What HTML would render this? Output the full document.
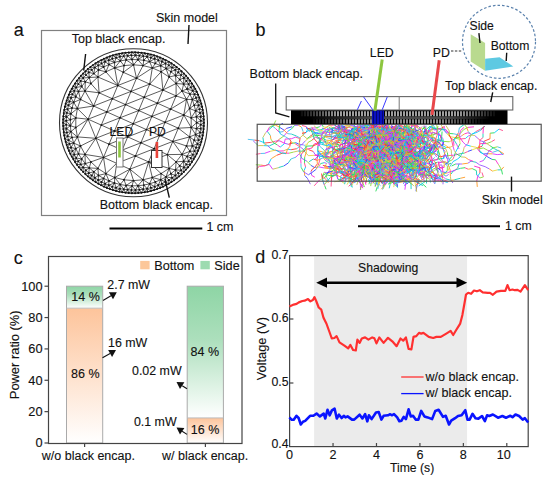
<!DOCTYPE html>
<html><head><meta charset="utf-8"><style>
html,body{margin:0;padding:0;background:#fff;}
svg{display:block;font-family:"Liberation Sans", sans-serif;fill:#111;}
text{fill:#111;stroke:#111;stroke-width:0.12px;}
</style></head><body>
<svg width="550" height="482" viewBox="0 0 550 482">
<text x="13.7" y="35.5" font-size="18" text-anchor="start" >a</text>
<rect x="41.5" y="30.5" width="185" height="185" fill="none" stroke="#808080" stroke-width="1.2" />
<path d="M168.8 183.8L165.4 181.9M103.5 157.4L122.2 150.1M157.1 189.1L154.1 190.1M183.6 84.1L176.1 83.5M70.2 153.7L68.8 150.8M137.9 185.7L143.0 179.8M143.8 60.3L143.0 65.6M101.1 60.1L105.1 61.7M66.2 124.7L70.4 125.7M135.5 190.0L137.9 185.7M179.7 165.8L176.1 161.9M179.2 69.0L181.6 71.2M165.4 181.9L160.7 179.7M74.3 154.6L75.8 148.6M196.7 122.7L191.2 127.5M193.7 159.3L192.7 154.6M99.1 92.8L112.3 98.7M204.0 122.7L203.9 125.9M166.0 176.9L161.1 173.6M105.1 61.7L108.7 60.2M75.0 83.4L76.2 87.4M187.0 89.0L182.0 91.0M68.8 150.8L67.6 147.8M98.2 61.6L101.1 60.1M160.1 188.0L161.9 183.7M203.9 119.5L200.5 116.8M170.9 71.7L175.5 75.5M178.2 173.0L175.2 175.5M203.9 125.9L203.7 129.1M138.3 193.0L135.1 193.2M159.6 135.5L172.8 141.4M194.2 140.2L189.6 136.9M200.5 116.8L200.8 120.7M200.4 144.8L197.4 143.9M101.1 60.1L103.9 58.7M157.1 189.1L158.3 185.2M103.6 67.0L105.9 71.8M200.8 124.7L200.8 120.7M149.6 61.6L143.0 65.6M161.9 183.7L160.7 179.7M122.3 192.3L123.7 189.3M90.9 83.5L97.9 77.0M109.0 144.2L103.5 157.4M116.7 163.3L135.4 156.0M71.0 147.5L69.6 143.9M166.0 68.5L161.1 71.8M95.8 138.3L85.0 154.4M120.3 60.9L124.0 65.6M135.1 193.2L131.9 193.2M192.3 145.9L186.5 146.0M63.7 132.3L63.3 129.1M147.8 53.7L147.1 56.8M199.4 109.1L195.6 110.9M199.4 147.8L196.0 147.5M150.9 187.7L149.6 183.8M72.0 137.4L70.9 131.6M83.1 172.0L85.9 170.3M176.1 95.9L176.1 83.5M193.7 86.1L195.3 88.8M200.4 144.8L199.4 147.8M101.3 125.1L120.0 117.8M69.6 143.9L68.5 140.1M131.5 55.4L135.5 55.4M171.5 182.1L168.8 180.0M63.3 129.1L63.1 125.9M200.1 112.9L196.4 116.8M70.9 131.6L70.4 125.7M138.3 193.0L135.5 190.0M194.2 105.2L195.6 110.9M154.7 186.6L150.9 187.7M117.8 85.5L114.7 67.9M199.4 147.8L198.2 150.8M116.0 191.0L112.9 190.1M135.5 55.4L139.4 55.7M126.1 59.9L124.0 65.6M189.9 151.3L187.0 156.4M85.3 81.8L90.9 83.5M202.8 109.9L200.1 112.9M93.6 106.0L77.4 108.5M122.3 53.1L125.5 52.7M123.7 56.1L120.3 60.9M94.9 67.6L98.5 70.0M195.6 110.9L196.4 116.8M175.2 175.5L170.9 173.7M152.3 67.9L161.1 71.8M70.4 125.7L75.8 117.9M66.2 120.7L66.5 116.8M194.5 94.3L192.3 99.5M112.9 190.1L109.9 189.1M187.0 156.4L183.6 161.3M75.8 96.8L78.5 91.5M66.5 128.6L70.9 131.6M202.2 106.8L202.8 109.9M98.2 65.4L103.6 67.0M68.8 94.6L71.0 97.9M161.1 71.8L169.1 77.0M66.5 116.8L66.9 112.9M158.3 60.2L161.9 61.7M125.5 192.7L127.6 189.7M64.8 106.8L65.6 103.7M78.5 91.5L81.7 86.5M98.2 61.6L98.2 65.4M99.1 92.8L97.9 77.0M176.1 161.9L169.1 168.4M76.2 158.0L81.7 158.9M127.6 189.7L123.7 189.3M188.2 78.2L183.8 78.0M188.2 167.2L186.1 169.6M73.7 102.3L80.5 99.4M161.9 61.7L165.4 63.5M108.7 60.2L109.0 64.5M160.7 179.7L155.3 182.0M83.2 78.0L89.3 77.5M144.7 53.1L147.8 53.7M101.1 60.1L101.6 63.5M169.1 168.4L161.1 173.6M135.1 52.2L135.5 55.4M123.7 189.3L119.9 188.6M165.4 181.9L166.0 176.9M94.9 177.8L93.8 171.8M122.2 150.1L140.9 142.8M72.5 94.3L74.3 90.8M166.0 176.9L169.1 168.4M65.6 141.7L68.5 140.1M69.6 143.9L73.7 143.1M155.3 182.0L149.6 183.8M64.8 106.8L68.5 105.3M103.6 67.0L109.0 64.5M172.8 141.4L189.6 136.9M176.7 67.0L175.2 69.9M131.0 91.4L144.2 97.3M74.3 90.8L76.2 87.4M159.6 135.5L178.3 128.2M85.9 170.3L89.3 167.9M109.0 64.5L114.5 62.4M114.7 177.5L105.9 173.6M179.2 69.0L178.2 72.4M199.4 136.3L198.5 140.1M199.4 97.6L197.4 101.5M183.8 78.0L186.3 81.0M120.3 60.9L114.7 67.9M90.3 67.0L94.9 67.6M192.3 145.9L189.6 136.9M81.7 86.5L85.0 91.0M83.2 167.4L85.3 163.6M178.2 173.0L175.5 169.9M105.9 173.6L97.9 168.4M186.3 81.0L183.6 84.1M98.2 180.0L94.9 177.8M135.4 156.0L154.1 148.7M114.5 183.0L109.0 180.9M171.5 182.1L172.1 177.8M202.2 106.8L198.5 105.3M138.3 193.0L139.4 189.7M122.2 150.1L116.7 163.3M129.9 169.2L148.6 161.9M98.2 180.0L98.5 175.4M203.3 132.3L200.1 132.5M192.7 90.8L187.0 89.0M64.2 109.9L64.8 106.8M95.5 182.1L98.2 180.0M202.8 109.9L199.4 109.1M149.6 61.6L155.3 63.4M70.4 125.7L75.8 127.5M194.5 151.1L189.9 151.3M94.9 67.6L93.8 73.6M88.1 119.2L95.8 138.3M131.5 190.0L127.6 189.7M103.5 157.4L105.9 173.6M98.5 70.0L97.9 77.0M190.2 164.7L188.2 167.2M72.0 108.0L77.4 108.5M194.5 94.3L189.9 94.1M188.6 161.3L183.6 161.3M105.1 61.7L103.6 67.0M175.2 69.9L175.5 75.5M92.8 180.3L94.9 177.8M141.5 52.7L144.7 53.1M165.1 122.3L183.8 115.0M70.2 153.7L72.5 151.1M123.3 72.3L136.5 78.2M181.6 174.2L178.2 173.0M198.2 94.6L196.0 97.9M95.5 182.1L92.8 180.3M78.5 153.9L85.0 154.4M151.0 191.0L147.1 188.6M80.7 81.0L81.7 86.5M64.2 109.9L67.6 109.1M99.1 92.8L90.9 83.5M200.5 128.6L200.1 132.5M135.4 156.0L129.9 169.2M73.7 102.3L77.4 108.5M92.8 180.3L90.3 178.4M75.8 148.6L80.5 146.0M71.7 88.8L73.3 86.1M109.0 180.9L105.9 173.6M88.8 173.0L93.8 171.8M83.2 78.0L85.3 81.8M68.5 105.3L73.7 102.3M200.1 132.5L199.4 136.3M174.2 180.3L171.5 182.1M181.1 75.1L183.8 78.0M65.6 141.7L69.6 143.9M73.3 86.1L75.0 83.4M163.1 58.7L165.9 60.1M64.8 106.8L67.6 109.1M176.7 67.0L172.1 67.6M131.0 91.4L149.7 84.1M101.6 181.9L98.2 180.0M171.5 182.1L168.8 183.8M67.6 97.6L69.6 101.5M78.8 167.2L76.8 164.7M87.8 69.0L88.8 72.4M120.3 184.5L114.5 183.0M196.4 116.8L191.2 117.9M165.9 60.1L168.8 61.6M119.2 53.7L119.9 56.8M112.3 186.6L114.5 183.0M123.3 72.3L117.8 85.5M88.8 72.4L91.8 69.9M89.3 167.9L90.9 161.9M76.8 164.7L75.0 162.0M74.3 90.8L78.5 91.5M203.7 129.1L200.5 128.6M90.3 67.0L91.8 69.9M85.4 71.2L87.8 69.0M143.8 60.3L149.6 61.6M122.3 53.1L123.7 56.1M190.8 158.0L188.6 161.3M196.0 147.5L192.3 145.9M144.2 97.3L157.4 103.2M183.8 115.0L178.3 128.2M154.1 190.1L151.0 191.0M196.0 97.9L197.4 101.5M63.1 119.5L66.5 116.8M87.8 69.0L90.3 67.0M165.9 60.1L165.4 63.5M181.6 71.2L183.9 73.4M190.2 164.7L186.3 164.4M192.0 83.4L190.8 87.4M75.8 127.5L75.8 117.9M80.7 164.4L78.4 161.3M151.0 191.0L147.8 191.7M78.8 78.2L83.2 78.0M189.9 94.1L186.5 99.4M67.6 147.8L66.6 144.8M98.2 180.0L103.6 178.4M203.3 132.3L200.5 128.6M85.3 163.6L81.7 158.9M172.1 67.6L166.0 68.5M168.8 61.6L168.8 65.4M183.9 73.4L186.1 75.8M123.3 72.3L133.5 64.8M127.6 189.7L126.1 185.5M75.8 117.9L77.4 108.5M131.0 91.4L125.5 104.6M88.1 119.2L101.3 125.1M112.3 58.8L116.1 57.7M183.9 172.0L183.8 167.4M66.6 144.8L65.6 141.7M188.6 161.3L187.0 156.4M154.1 190.1L154.7 186.6M123.7 189.3L120.3 184.5M175.2 69.9L170.9 71.7M179.7 79.6L183.6 84.1M147.1 56.8L149.6 61.6M81.7 158.9L78.5 153.9M172.1 177.8L168.8 180.0M200.1 132.5L195.6 134.5M157.4 103.2L170.6 109.1M203.3 132.3L202.8 135.5M181.6 174.2L181.1 170.3M196.7 122.7L196.4 128.6M198.2 94.6L194.5 94.3M106.9 57.4L109.9 56.3M151.0 191.0L150.9 187.7M183.6 84.1L187.0 89.0M64.2 109.9L66.9 112.9M105.9 71.8L114.7 67.9M68.5 140.1L67.6 136.3M175.5 75.5L176.1 83.5M128.7 193.0L125.5 192.7M158.3 60.2L155.3 63.4M106.9 188.0L108.7 185.2M143.3 189.3L137.9 185.7M196.4 128.6L195.6 134.5M70.4 125.7L70.4 119.7M78.8 167.2L80.7 164.4M109.0 180.9L114.7 177.5M196.8 91.7L198.2 94.6M68.5 105.3L72.0 108.0M114.7 67.9L124.0 65.6M70.9 131.6L77.4 136.9M139.4 55.7L143.3 56.1M165.9 185.3L161.9 183.7M161.9 61.7L160.7 65.7M103.9 186.7L105.1 183.7M70.4 119.7L70.9 113.8M76.8 164.7L78.4 161.3M143.3 56.1L147.1 56.8M183.6 161.3L179.7 165.8M63.0 122.7L66.2 120.7M136.5 78.2L152.3 67.9M129.9 169.2L143.0 179.8M191.2 127.5L189.6 136.9M71.7 88.8L76.2 87.4M169.1 77.0L176.1 83.5M89.3 167.9L97.9 168.4M179.7 165.8L175.5 169.9M74.3 90.8L75.8 96.8M132.0 185.9L133.5 180.6M66.2 120.7L70.4 119.7M131.5 190.0L132.0 185.9M175.5 169.9L169.1 168.4M176.1 83.5L182.0 91.0M136.5 78.2L131.0 91.4M144.2 97.3L162.9 90.0M88.1 119.2L77.4 136.9M85.3 81.8L89.3 77.5M165.9 60.1L161.9 61.7M192.0 83.4L188.6 84.1M203.7 129.1L203.3 132.3M168.8 65.4L172.1 67.6M67.6 109.1L70.9 113.8M78.8 78.2L80.7 81.0M189.9 94.1L182.0 91.0M155.3 63.4L152.3 67.9M103.9 58.7L106.9 57.4M106.9 57.4L108.7 60.2M152.3 177.5L143.0 179.8M127.6 189.7L132.0 185.9M158.3 185.2L155.3 182.0M195.6 110.9L189.6 108.5M170.9 71.7L169.1 77.0M155.3 182.0L152.3 177.5M131.9 193.2L128.7 193.0M116.1 187.7L120.3 184.5M67.6 136.3L70.9 131.6M189.9 151.3L182.0 154.4M151.0 54.4L150.9 57.7M198.2 150.8L194.5 151.1M181.6 71.2L181.1 75.1M200.1 132.5L196.4 128.6M149.7 84.1L144.2 97.3M157.4 103.2L176.1 95.9M63.1 125.9L63.0 122.7M154.1 55.3L154.7 58.8M196.8 153.7L192.7 154.6M183.9 73.4L183.8 78.0M198.2 150.8L196.8 153.7M175.5 75.5L169.1 77.0M132.0 59.5L133.5 64.8M143.3 189.3L143.8 185.1M203.3 113.1L200.5 116.8M63.0 122.7L63.1 119.5M172.1 177.8L166.0 176.9M76.2 158.0L78.5 153.9M78.8 167.2L83.2 167.4M147.1 188.6L143.3 189.3M196.8 153.7L195.3 156.6M192.0 162.0L190.8 158.0M109.9 189.1L106.9 188.0M190.2 80.7L186.3 81.0M165.9 185.3L165.4 181.9M63.1 125.9L66.5 128.6M128.7 52.4L131.9 52.2M131.5 55.4L132.0 59.5M162.9 90.0L157.4 103.2M66.9 112.9L67.6 109.1M106.9 188.0L103.9 186.7M183.8 115.0L191.2 117.9M65.6 103.7L66.6 100.6M93.6 106.0L112.3 98.7M90.3 178.4L91.8 175.5M63.0 122.7L66.2 124.7M136.5 78.2L143.0 65.6M154.1 148.7L167.3 154.6M81.7 86.5L85.3 81.8M203.3 113.1L203.7 116.3M71.7 88.8L74.3 90.8M157.4 103.2L151.9 116.4M109.0 64.5L114.7 67.9M186.1 169.6L183.9 172.0M143.3 56.1L137.9 59.7M119.2 191.7L119.9 188.6M165.4 63.5L168.8 65.4M112.3 58.8L114.5 62.4M66.6 100.6L67.6 97.6M87.8 176.4L88.8 173.0M103.9 58.7L105.1 61.7M175.5 169.9L176.1 161.9M67.6 147.8L69.6 143.9M161.1 173.6L152.3 177.5M72.5 151.1L75.8 148.6M112.3 98.7L125.5 104.6M119.9 188.6L116.1 187.7M195.3 88.8L196.8 91.7M176.7 178.4L172.1 177.8M183.9 172.0L181.6 174.2M90.3 178.4L87.8 176.4M64.8 138.6L67.6 136.3M116.1 57.7L120.3 60.9M149.6 183.8L143.8 185.1M95.8 138.3L114.5 131.0M65.6 103.7L69.6 101.5M151.0 54.4L154.1 55.3M125.5 104.6L138.7 110.5M176.1 95.9L170.6 109.1M76.2 87.4L78.4 84.1M87.8 176.4L85.4 174.2M64.2 135.5L66.9 132.5M150.9 187.7L147.1 188.6M68.5 140.1L73.7 143.1M114.5 62.4L120.3 60.9M198.5 140.1L197.4 143.9M89.3 77.5L97.9 77.0M120.0 117.8L133.2 123.7M170.6 109.1L165.1 122.3M125.5 52.7L128.7 52.4M127.6 55.7L126.1 59.9M186.3 81.0L188.6 84.1M189.9 151.3L186.5 146.0M151.0 54.4L147.1 56.8M147.1 188.6L149.6 183.8M67.6 136.3L72.0 137.4M198.2 150.8L196.0 147.5M76.8 80.7L78.8 78.2M181.6 71.2L178.2 72.4M80.7 164.4L81.7 158.9M129.9 169.2L114.7 177.5M94.9 177.8L91.8 175.5M165.9 185.3L163.1 186.7M70.2 91.7L72.5 94.3M202.8 109.9L203.3 113.1M109.0 180.9L103.6 178.4M168.8 183.8L168.8 180.0M171.5 63.3L174.2 65.1M112.3 98.7L106.8 111.9M138.7 110.5L151.9 116.4M94.9 67.6L98.2 65.4M74.3 154.6L78.5 153.9M196.7 122.7L196.4 116.8M73.3 159.3L71.7 156.6M202.8 135.5L199.4 136.3M95.5 63.3L98.2 65.4M99.1 92.8L117.8 85.5M203.3 113.1L200.1 112.9M148.6 161.9L143.0 179.8M155.3 63.4L160.7 65.7M131.9 193.2L131.5 190.0M186.3 164.4L183.8 167.4M172.1 177.8L170.9 173.7M133.2 123.7L146.4 129.6M147.8 53.7L151.0 54.4M196.4 128.6L191.2 127.5M198.5 105.3L199.4 109.1M138.3 52.4L139.4 55.7M196.0 97.9L192.3 99.5M202.2 138.6L198.5 140.1M183.8 115.0L191.2 127.5M171.5 63.3L172.1 67.6M149.7 84.1L161.1 71.8M117.8 85.5L131.0 91.4M76.2 158.0L74.3 154.6M179.2 176.4L175.2 175.5M197.4 101.5L194.2 105.2M186.3 164.4L183.6 161.3M78.5 153.9L75.8 148.6M90.3 178.4L94.9 177.8M136.5 78.2L133.5 64.8M154.1 148.7L172.8 141.4M80.5 99.4L85.0 91.0M75.0 83.4L76.8 80.7M199.4 147.8L197.4 143.9M109.0 64.5L105.9 71.8M75.8 96.8L80.5 99.4M183.8 167.4L179.7 165.8M146.4 129.6L159.6 135.5M200.1 112.9L195.6 110.9M188.6 84.1L187.0 89.0M97.9 168.4L90.9 161.9M176.7 178.4L175.2 175.5M117.8 85.5L105.9 71.8M64.8 138.6L68.5 140.1M189.9 94.1L192.3 99.5M65.6 103.7L68.5 105.3M88.8 72.4L93.8 73.6M85.3 81.8L85.0 91.0M125.5 104.6L144.2 97.3M175.2 175.5L175.5 169.9M135.1 193.2L135.5 190.0M168.8 183.8L165.9 185.3M101.1 185.3L101.6 181.9M133.5 64.8L143.0 65.6M117.8 85.5L112.3 98.7M89.3 77.5L90.9 83.5M188.2 167.2L183.8 167.4M70.4 119.7L75.8 117.9M98.2 65.4L98.5 70.0M192.7 154.6L187.0 156.4M85.3 163.6L85.0 154.4M76.2 87.4L81.7 86.5M98.3 183.8L98.2 180.0M92.8 65.1L94.9 67.6M178.3 128.2L172.8 141.4M70.9 113.8L77.4 108.5M77.4 108.5L80.5 99.4M68.8 150.8L71.0 147.5M167.3 154.6L169.1 168.4M138.7 110.5L157.4 103.2M147.8 191.7L144.7 192.3M162.9 90.0L176.1 83.5M202.8 135.5L200.1 132.5M92.8 65.1L95.5 63.3M94.9 177.8L98.5 175.4M148.6 161.9L152.3 177.5M73.7 143.1L77.4 136.9M125.5 104.6L120.0 117.8M133.2 123.7L151.9 116.4M85.9 75.1L89.3 77.5M138.3 52.4L135.5 55.4M91.8 175.5L93.8 171.8M171.5 63.3L168.8 65.4M149.7 84.1L152.3 67.9M188.2 78.2L190.2 80.7M151.9 116.4L165.1 122.3M117.8 85.5L136.5 78.2M202.8 135.5L202.2 138.6M179.2 69.0L175.2 69.9M119.9 56.8L123.7 56.1M83.1 73.4L85.9 75.1M179.2 176.4L178.2 173.0M199.4 97.6L196.0 97.9M147.8 191.7L147.1 188.6M165.4 181.9L161.9 183.7M83.2 167.4L89.3 167.9M168.8 61.6L171.5 63.3M108.7 185.2L109.0 180.9M204.0 122.7L200.8 124.7M157.1 56.3L158.3 60.2M195.6 134.5L194.2 140.2M200.4 100.6L197.4 101.5M91.8 69.9L94.9 67.6M112.9 55.3L116.0 54.4M198.5 140.1L194.2 140.2M75.0 162.0L73.3 159.3M138.7 110.5L133.2 123.7M146.4 129.6L165.1 122.3M66.9 132.5L66.5 128.6M125.5 52.7L127.6 55.7M105.1 183.7L103.6 178.4M188.6 161.3L186.3 164.4M188.6 84.1L183.6 84.1M160.1 57.4L161.9 61.7M165.4 63.5L166.0 68.5M203.9 125.9L200.5 128.6M117.8 85.5L97.9 77.0M199.4 97.6L200.4 100.6M197.4 101.5L198.5 105.3M90.3 67.0L92.8 65.1M147.1 56.8L150.9 57.7M193.7 86.1L192.7 90.8M194.5 151.1L192.3 145.9M63.3 116.3L63.7 113.1M101.1 185.3L105.1 183.7M78.4 161.3L76.2 158.0M192.3 99.5L189.6 108.5M139.4 189.7L135.5 190.0M186.1 75.8L188.2 78.2M188.2 167.2L186.3 164.4M70.2 153.7L74.3 154.6M192.7 154.6L189.9 151.3M85.3 163.6L90.9 161.9M175.5 169.9L170.9 173.7M76.2 87.4L78.5 91.5M200.8 124.7L196.4 128.6M116.1 57.7L119.9 56.8M135.1 52.2L138.3 52.4M65.6 141.7L64.8 138.6M95.8 138.3L77.4 136.9M178.2 72.4L175.5 75.5M68.5 105.3L69.6 101.5M116.0 191.0L116.1 187.7M101.1 185.3L98.3 183.8M68.8 150.8L72.5 151.1M168.8 180.0L165.4 181.9M176.1 95.9L186.5 99.4M99.1 92.8L85.0 91.0M167.3 154.6L176.1 161.9M63.3 116.3L66.5 116.8M109.9 56.3L112.9 55.3M187.0 89.0L189.9 94.1M199.4 136.3L195.6 134.5M172.1 67.6L175.2 69.9M112.9 190.1L112.3 186.6M80.9 75.8L83.2 78.0M68.8 94.6L70.2 91.7M67.6 136.3L66.9 132.5M125.5 192.7L122.3 192.3M148.6 161.9L161.1 173.6M112.3 186.6L108.7 185.2M73.7 143.1L80.5 146.0M198.2 94.6L199.4 97.6M103.6 178.4L105.9 173.6M204.0 122.7L200.8 120.7M149.6 183.8L143.0 179.8M63.7 132.3L66.5 128.6M69.6 101.5L73.7 102.3M124.0 65.6L133.5 64.8M154.7 58.8L155.3 63.4M157.1 56.3L160.1 57.4M112.9 55.3L116.1 57.7M103.5 157.4L85.0 154.4M63.1 119.5L63.3 116.3M70.9 113.8L72.0 108.0M75.0 162.0L76.2 158.0M98.5 175.4L97.9 168.4M151.9 116.4L170.6 109.1M80.7 81.0L83.2 78.0M71.0 97.9L75.8 96.8M143.3 189.3L139.4 189.7M83.1 73.4L83.2 78.0M195.3 156.6L193.7 159.3M109.0 144.2L122.2 150.1M131.9 52.2L135.1 52.2M191.2 127.5L191.2 117.9M189.6 136.9L186.5 146.0M179.7 79.6L176.1 83.5M122.3 53.1L119.9 56.8M108.7 185.2L114.5 183.0M204.0 122.7L203.9 119.5M67.6 109.1L68.5 105.3M157.1 56.3L154.7 58.8M139.4 189.7L137.9 185.7M183.6 161.3L176.1 161.9M126.1 185.5L124.0 179.8M63.1 119.5L66.2 120.7M66.5 116.8L70.9 113.8M190.2 164.7L188.6 161.3M125.5 52.7L123.7 56.1M182.0 91.0L186.5 99.4M135.5 190.0L132.0 185.9M165.4 63.5L160.7 65.7M89.3 77.5L93.8 73.6M168.8 61.6L165.4 63.5M123.3 72.3L124.0 65.6M75.0 83.4L78.4 84.1M193.7 86.1L190.8 87.4M172.8 141.4L182.0 154.4M160.1 188.0L158.3 185.2M88.1 119.2L106.8 111.9M203.9 119.5L200.8 120.7M192.3 99.5L186.5 99.4M160.7 65.7L161.1 71.8M151.9 116.4L146.4 129.6M109.9 56.3L112.3 58.8M123.7 189.3L126.1 185.5M143.0 179.8L133.5 180.6M144.7 53.1L147.1 56.8M147.1 56.8L143.8 60.3M198.5 105.3L195.6 110.9M154.7 186.6L149.6 183.8M148.6 161.9L167.3 154.6M137.9 185.7L132.0 185.9M166.0 68.5L169.1 77.0M95.8 138.3L80.5 146.0M150.9 57.7L149.6 61.6M116.0 191.0L119.9 188.6M144.2 97.3L138.7 110.5M167.3 154.6L182.0 154.4M83.1 172.0L83.2 167.4M126.1 59.9L132.0 59.5M112.9 190.1L116.1 187.7M137.9 59.7L143.0 65.6M195.3 156.6L192.7 154.6M76.8 164.7L80.7 164.4M149.6 183.8L152.3 177.5M63.7 132.3L66.9 132.5M66.9 132.5L70.9 131.6M103.5 157.4L90.9 161.9M163.1 186.7L161.9 183.7M135.5 55.4L137.9 59.7M128.7 193.0L127.6 189.7M75.0 162.0L78.4 161.3M103.9 186.7L101.1 185.3M176.7 67.0L179.2 69.0M88.8 173.0L85.9 170.3M125.5 192.7L123.7 189.3M66.2 120.7L70.4 125.7M203.7 116.3L203.9 119.5M73.3 86.1L76.2 87.4M98.2 61.6L101.6 63.5M67.6 97.6L68.8 94.6M85.4 174.2L85.9 170.3M126.1 185.5L133.5 180.6M66.5 116.8L70.4 119.7M101.6 63.5L105.1 61.7M108.7 60.2L114.5 62.4M71.0 147.5L73.7 143.1M141.5 52.7L143.3 56.1M116.1 187.7L112.3 186.6M106.8 111.9L120.0 117.8M170.9 173.7L169.1 168.4M195.6 134.5L189.6 136.9M116.7 163.3L105.9 173.6M181.6 174.2L179.2 176.4M178.3 128.2L189.6 136.9M143.8 185.1L137.9 185.7M181.1 170.3L178.2 173.0M122.2 150.1L135.4 156.0M154.1 55.3L157.1 56.3M106.9 57.4L105.1 61.7M123.3 72.3L114.7 67.9M158.3 185.2L160.7 179.7M172.8 141.4L186.5 146.0M78.4 84.1L80.7 81.0M85.4 174.2L83.1 172.0M72.5 151.1L71.0 147.5M120.3 60.9L126.1 59.9M109.9 56.3L108.7 60.2M160.7 65.7L152.3 67.9M197.4 143.9L196.0 147.5M114.5 62.4L114.7 67.9M114.5 131.0L127.7 136.9M144.7 53.1L143.3 56.1M165.1 122.3L159.6 135.5M198.5 105.3L194.2 105.2M154.7 186.6L155.3 182.0M181.1 170.3L175.5 169.9M188.6 84.1L190.8 87.4M192.0 83.4L193.7 86.1M78.8 78.2L80.9 75.8M187.0 156.4L182.0 154.4M154.1 55.3L150.9 57.7M200.5 116.8L196.4 116.8M196.8 153.7L194.5 151.1M183.9 73.4L181.1 75.1M90.9 161.9L85.0 154.4M174.2 180.3L172.1 177.8M91.8 175.5L88.8 173.0M201.4 103.7L198.5 105.3M119.9 56.8L120.3 60.9M163.1 186.7L160.1 188.0M190.8 87.4L192.7 90.8M103.6 178.4L98.5 175.4M158.3 185.2L154.7 186.6M135.4 156.0L148.6 161.9M174.2 65.1L176.7 67.0M88.1 119.2L77.4 108.5M186.1 75.8L183.8 78.0M106.8 111.9L101.3 125.1M85.0 154.4L80.5 146.0M202.2 106.8L199.4 109.1M119.2 53.7L122.3 53.1M98.2 65.4L101.6 63.5M71.7 156.6L70.2 153.7M137.9 59.7L133.5 64.8M98.5 175.4L93.8 171.8M93.8 73.6L97.9 77.0M203.7 116.3L200.5 116.8M200.8 120.7L196.4 116.8M168.8 180.0L166.0 176.9M160.7 65.7L166.0 68.5M192.7 90.8L189.9 94.1M101.6 63.5L103.6 67.0M127.7 136.9L140.9 142.8M183.8 167.4L181.1 170.3M95.5 182.1L94.9 177.8M131.9 52.2L135.5 55.4M170.6 109.1L183.8 115.0M201.4 103.7L202.2 106.8M199.4 109.1L200.1 112.9M183.8 115.0L189.6 108.5M201.4 141.7L197.4 143.9M95.5 63.3L98.2 61.6M103.5 157.4L97.9 168.4M98.5 70.0L105.9 71.8M166.0 68.5L170.9 71.7M135.5 55.4L132.0 59.5M128.7 193.0L131.5 190.0M105.1 61.7L109.0 64.5M74.3 154.6L72.5 151.1M141.5 192.7L138.3 193.0M165.1 122.3L178.3 128.2M200.1 112.9L200.5 116.8M75.8 148.6L73.7 143.1M87.8 176.4L91.8 175.5M190.2 80.7L192.0 83.4M85.0 91.0L90.9 83.5M67.6 147.8L71.0 147.5M78.5 153.9L80.5 146.0M112.3 98.7L131.0 91.4M80.7 81.0L85.3 81.8M123.7 56.1L127.6 55.7M78.5 91.5L85.0 91.0M73.7 143.1L72.0 137.4M116.1 57.7L114.5 62.4M183.8 78.0L183.6 84.1M85.4 174.2L88.8 173.0M161.9 183.7L158.3 185.2M66.6 144.8L69.6 143.9M140.9 142.8L154.1 148.7M71.0 147.5L75.8 148.6M106.8 111.9L125.5 104.6M141.5 52.7L139.4 55.7M88.8 173.0L89.3 167.9M127.6 55.7L131.5 55.4M178.3 128.2L191.2 127.5M116.7 163.3L114.7 177.5M194.2 140.2L192.3 145.9M195.6 134.5L191.2 127.5M64.2 135.5L67.6 136.3M141.5 192.7L139.4 189.7M192.3 99.5L194.2 105.2M66.6 100.6L69.6 101.5M85.4 71.2L88.8 72.4M120.0 117.8L138.7 110.5M192.3 145.9L189.9 151.3M73.3 159.3L74.3 154.6M80.7 164.4L85.3 163.6M67.6 97.6L71.0 97.9M143.0 65.6L152.3 67.9M87.8 69.0L91.8 69.9M129.9 169.2L124.0 179.8M114.5 131.0L133.2 123.7M66.2 124.7L66.2 120.7M181.1 170.3L179.7 165.8M73.7 102.3L75.8 96.8M78.4 161.3L81.7 158.9M128.7 52.4L131.5 55.4M172.8 141.4L167.3 154.6M201.4 103.7L197.4 101.5M154.7 58.8L158.3 60.2M95.5 63.3L94.9 67.6M182.0 154.4L176.1 161.9M88.1 119.2L75.8 117.9M131.9 193.2L135.5 190.0M144.7 192.3L141.5 192.7M202.2 138.6L199.4 136.3M186.1 169.6L183.8 167.4M131.9 52.2L131.5 55.4M120.0 117.8L114.5 131.0M190.8 158.0L187.0 156.4M127.7 136.9L146.4 129.6M172.1 67.6L170.9 71.7M64.8 138.6L64.2 135.5M197.4 101.5L192.3 99.5M183.8 115.0L186.5 99.4M201.4 141.7L198.5 140.1M174.2 65.1L172.1 67.6M181.1 75.1L179.7 79.6M183.9 172.0L181.1 170.3M196.8 91.7L194.5 94.3M114.5 131.0L109.0 144.2M154.1 190.1L150.9 187.7M202.2 138.6L201.4 141.7M64.2 135.5L63.7 132.3M183.8 167.4L183.6 161.3M144.7 192.3L143.3 189.3M109.9 189.1L108.7 185.2M201.4 141.7L200.4 144.8M122.3 192.3L119.2 191.7M78.5 91.5L80.5 99.4M136.5 78.2L149.7 84.1M116.0 54.4L119.2 53.7M72.0 137.4L77.4 136.9M183.8 78.0L179.7 79.6M88.8 72.4L89.3 77.5M197.4 143.9L192.3 145.9M158.3 60.2L160.7 65.7M106.9 188.0L105.1 183.7M133.2 123.7L127.7 136.9M140.9 142.8L159.6 135.5M66.5 128.6L66.2 124.7M119.2 191.7L116.0 191.0M190.8 87.4L187.0 89.0M72.0 108.0L73.7 102.3M70.9 131.6L75.8 127.5M141.5 192.7L143.3 189.3M200.4 100.6L201.4 103.7M91.8 69.9L93.8 73.6M127.7 136.9L122.2 150.1M85.4 71.2L85.9 75.1M193.7 159.3L192.0 162.0M150.9 57.7L154.7 58.8M168.8 65.4L166.0 68.5M98.3 183.8L101.6 181.9M63.7 113.1L64.2 109.9M73.3 159.3L76.2 158.0M186.5 146.0L182.0 154.4M93.8 171.8L97.9 168.4M72.5 94.3L75.8 96.8M135.5 190.0L131.5 190.0M192.0 162.0L190.2 164.7M129.9 169.2L133.5 180.6M70.9 113.8L75.8 117.9M81.7 158.9L85.0 154.4M170.9 173.7L166.0 176.9M120.3 184.5L114.7 177.5M149.7 84.1L162.9 90.0M78.4 84.1L81.7 86.5M138.3 52.4L141.5 52.7M71.7 156.6L74.3 154.6M186.5 99.4L189.6 108.5M146.4 129.6L140.9 142.8M101.6 181.9L103.6 178.4M128.7 52.4L127.6 55.7M69.6 101.5L71.0 97.9M163.1 58.7L161.9 61.7M98.3 183.8L95.5 182.1M166.0 176.9L160.7 179.7M63.7 113.1L66.9 112.9M162.9 90.0L169.1 77.0M93.8 73.6L98.5 70.0M200.8 124.7L200.5 128.6M76.8 80.7L80.7 81.0M95.8 138.3L103.5 157.4M88.1 119.2L75.8 127.5M140.9 142.8L135.4 156.0M189.6 108.5L191.2 117.9M71.0 97.9L72.5 94.3M175.2 69.9L178.2 72.4M93.6 106.0L85.0 91.0M70.2 91.7L71.7 88.8M194.2 105.2L189.6 108.5M114.5 183.0L114.7 177.5M98.5 70.0L103.6 67.0M67.6 109.1L72.0 108.0M119.9 188.6L120.3 184.5M160.7 179.7L152.3 177.5M133.5 180.6L124.0 179.8M108.7 185.2L105.1 183.7M176.7 178.4L174.2 180.3M200.5 128.6L196.4 128.6M178.2 72.4L181.1 75.1M132.0 185.9L126.1 185.5M195.6 110.9L191.2 117.9M162.9 90.0L176.1 95.9M160.1 57.4L163.1 58.7M116.0 54.4L119.9 56.8M124.0 179.8L114.7 177.5M93.6 106.0L88.1 119.2M116.1 187.7L114.5 183.0M181.1 75.1L175.5 75.5M105.1 183.7L101.6 181.9M196.8 91.7L192.7 90.8M83.2 78.0L85.9 75.1M80.9 169.6L78.8 167.2M126.1 185.5L120.3 184.5M132.0 59.5L137.9 59.7M144.7 192.3L147.1 188.6M194.5 151.1L192.7 154.6M198.5 140.1L195.6 134.5M103.5 157.4L116.7 163.3M109.9 189.1L112.3 186.6M85.9 75.1L88.8 72.4M183.6 84.1L182.0 91.0M192.7 90.8L194.5 94.3M137.9 185.7L133.5 180.6M105.1 183.7L109.0 180.9M203.9 125.9L200.8 124.7M83.1 73.4L85.4 71.2M160.1 57.4L158.3 60.2M137.9 59.7L143.8 60.3M193.7 159.3L190.8 158.0M80.5 146.0L77.4 136.9M192.7 154.6L190.8 158.0M197.4 143.9L194.2 140.2M85.9 170.3L83.2 167.4M194.5 94.3L196.0 97.9M93.8 171.8L89.3 167.9M196.7 122.7L191.2 117.9M192.0 162.0L188.6 161.3M190.2 80.7L188.6 84.1M77.4 136.9L75.8 127.5M83.2 167.4L80.7 164.4M63.1 125.9L66.2 124.7M195.3 88.8L192.7 90.8M149.6 61.6L152.3 67.9M89.3 167.9L85.3 163.6M157.1 189.1L154.7 186.6M200.8 124.7L196.7 122.7M139.4 55.7L137.9 59.7M122.3 192.3L119.9 188.6M116.7 163.3L129.9 169.2M93.6 106.0L106.8 111.9M108.7 60.2L112.3 58.8M176.1 95.9L182.0 91.0M120.3 184.5L124.0 179.8M175.5 75.5L179.7 79.6M143.3 56.1L143.8 60.3M66.9 112.9L70.9 113.8M175.2 175.5L172.1 177.8M101.3 125.1L114.5 131.0M179.2 176.4L176.7 178.4M200.8 120.7L196.7 122.7M170.6 109.1L186.5 99.4M63.7 113.1L66.5 116.8M162.9 90.0L161.1 71.8M97.9 77.0L105.9 71.8M99.1 92.8L93.6 106.0M76.8 80.7L78.4 84.1M95.8 138.3L109.0 144.2M148.6 161.9L169.1 168.4M126.1 59.9L133.5 64.8M154.7 58.8L149.6 61.6M83.1 172.0L80.9 169.6M93.6 106.0L80.5 99.4M123.7 56.1L126.1 59.9M80.9 169.6L83.2 167.4M112.9 55.3L112.3 58.8M160.7 179.7L161.1 173.6M196.0 147.5L194.5 151.1M68.5 140.1L72.0 137.4M159.6 135.5L154.1 148.7M98.5 175.4L105.9 173.6M143.8 185.1L143.0 179.8M63.3 129.1L66.5 128.6M127.6 55.7L132.0 59.5M80.9 75.8L83.1 73.4M66.5 128.6L70.4 125.7M71.0 97.9L73.7 102.3M68.8 94.6L72.5 94.3M116.0 54.4L116.1 57.7M109.0 144.2L127.7 136.9M147.1 188.6L143.8 185.1M154.1 148.7L148.6 161.9M160.1 188.0L157.1 189.1M183.6 161.3L182.0 154.4M70.2 91.7L74.3 90.8M188.2 78.2L186.3 81.0M101.3 125.1L95.8 138.3" stroke="#333" stroke-width="0.8" fill="none"/>
<circle cx="133.5" cy="122.7" r="70.5" fill="none" stroke="#111" stroke-width="0.9"/>
<circle cx="133.5" cy="122.7" r="74.0" fill="none" stroke="#333" stroke-width="1.1"/>
<path d="M99.1 92.8h0M93.6 106.0h0M88.1 119.2h0M123.3 72.3h0M117.8 85.5h0M112.3 98.7h0M106.8 111.9h0M101.3 125.1h0M95.8 138.3h0M136.5 78.2h0M131.0 91.4h0M125.5 104.6h0M120.0 117.8h0M114.5 131.0h0M109.0 144.2h0M103.5 157.4h0M149.7 84.1h0M144.2 97.3h0M138.7 110.5h0M133.2 123.7h0M127.7 136.9h0M122.2 150.1h0M116.7 163.3h0M162.9 90.0h0M157.4 103.2h0M151.9 116.4h0M146.4 129.6h0M140.9 142.8h0M135.4 156.0h0M129.9 169.2h0M176.1 95.9h0M170.6 109.1h0M165.1 122.3h0M159.6 135.5h0M154.1 148.7h0M148.6 161.9h0M183.8 115.0h0M178.3 128.2h0M172.8 141.4h0M167.3 154.6h0M204.0 122.7h0M203.9 125.9h0M203.7 129.1h0M203.3 132.3h0M202.8 135.5h0M202.2 138.6h0M201.4 141.7h0M200.4 144.8h0M199.4 147.8h0M198.2 150.8h0M196.8 153.7h0M195.3 156.6h0M193.7 159.3h0M192.0 162.0h0M190.2 164.7h0M188.2 167.2h0M186.1 169.6h0M183.9 172.0h0M181.6 174.2h0M179.2 176.4h0M176.7 178.4h0M174.2 180.3h0M171.5 182.1h0M168.8 183.8h0M165.9 185.3h0M163.1 186.7h0M160.1 188.0h0M157.1 189.1h0M154.1 190.1h0M151.0 191.0h0M147.8 191.7h0M144.7 192.3h0M141.5 192.7h0M138.3 193.0h0M135.1 193.2h0M131.9 193.2h0M128.7 193.0h0M125.5 192.7h0M122.3 192.3h0M119.2 191.7h0M116.0 191.0h0M112.9 190.1h0M109.9 189.1h0M106.9 188.0h0M103.9 186.7h0M101.1 185.3h0M98.3 183.8h0M95.5 182.1h0M92.8 180.3h0M90.3 178.4h0M87.8 176.4h0M85.4 174.2h0M83.1 172.0h0M80.9 169.6h0M78.8 167.2h0M76.8 164.7h0M75.0 162.0h0M73.3 159.3h0M71.7 156.6h0M70.2 153.7h0M68.8 150.8h0M67.6 147.8h0M66.6 144.8h0M65.6 141.7h0M64.8 138.6h0M64.2 135.5h0M63.7 132.3h0M63.3 129.1h0M63.1 125.9h0M63.0 122.7h0M63.1 119.5h0M63.3 116.3h0M63.7 113.1h0M64.2 109.9h0M64.8 106.8h0M65.6 103.7h0M66.6 100.6h0M67.6 97.6h0M68.8 94.6h0M70.2 91.7h0M71.7 88.8h0M73.3 86.1h0M75.0 83.4h0M76.8 80.7h0M78.8 78.2h0M80.9 75.8h0M83.1 73.4h0M85.4 71.2h0M87.8 69.0h0M90.3 67.0h0M92.8 65.1h0M95.5 63.3h0M98.2 61.6h0M101.1 60.1h0M103.9 58.7h0M106.9 57.4h0M109.9 56.3h0M112.9 55.3h0M116.0 54.4h0M119.2 53.7h0M122.3 53.1h0M125.5 52.7h0M128.7 52.4h0M131.9 52.2h0M135.1 52.2h0M138.3 52.4h0M141.5 52.7h0M144.7 53.1h0M147.8 53.7h0M151.0 54.4h0M154.1 55.3h0M157.1 56.3h0M160.1 57.4h0M163.1 58.7h0M165.9 60.1h0M168.8 61.6h0M171.5 63.3h0M174.2 65.1h0M176.7 67.0h0M179.2 69.0h0M181.6 71.2h0M183.9 73.4h0M186.1 75.8h0M188.2 78.2h0M190.2 80.7h0M192.0 83.4h0M193.7 86.1h0M195.3 88.8h0M196.8 91.7h0M198.2 94.6h0M199.4 97.6h0M200.4 100.6h0M201.4 103.7h0M202.2 106.8h0M202.8 109.9h0M203.3 113.1h0M203.7 116.3h0M203.9 119.5h0M200.8 124.7h0M200.5 128.6h0M200.1 132.5h0M199.4 136.3h0M198.5 140.1h0M197.4 143.9h0M196.0 147.5h0M194.5 151.1h0M192.7 154.6h0M190.8 158.0h0M188.6 161.3h0M186.3 164.4h0M183.8 167.4h0M181.1 170.3h0M178.2 173.0h0M175.2 175.5h0M172.1 177.8h0M168.8 180.0h0M165.4 181.9h0M161.9 183.7h0M158.3 185.2h0M154.7 186.6h0M150.9 187.7h0M147.1 188.6h0M143.3 189.3h0M139.4 189.7h0M135.5 190.0h0M131.5 190.0h0M127.6 189.7h0M123.7 189.3h0M119.9 188.6h0M116.1 187.7h0M112.3 186.6h0M108.7 185.2h0M105.1 183.7h0M101.6 181.9h0M98.2 180.0h0M94.9 177.8h0M91.8 175.5h0M88.8 173.0h0M85.9 170.3h0M83.2 167.4h0M80.7 164.4h0M78.4 161.3h0M76.2 158.0h0M74.3 154.6h0M72.5 151.1h0M71.0 147.5h0M69.6 143.9h0M68.5 140.1h0M67.6 136.3h0M66.9 132.5h0M66.5 128.6h0M66.2 124.7h0M66.2 120.7h0M66.5 116.8h0M66.9 112.9h0M67.6 109.1h0M68.5 105.3h0M69.6 101.5h0M71.0 97.9h0M72.5 94.3h0M74.3 90.8h0M76.2 87.4h0M78.4 84.1h0M80.7 81.0h0M83.2 78.0h0M85.9 75.1h0M88.8 72.4h0M91.8 69.9h0M94.9 67.6h0M98.2 65.4h0M101.6 63.5h0M105.1 61.7h0M108.7 60.2h0M112.3 58.8h0M116.1 57.7h0M119.9 56.8h0M123.7 56.1h0M127.6 55.7h0M131.5 55.4h0M135.5 55.4h0M139.4 55.7h0M143.3 56.1h0M147.1 56.8h0M150.9 57.7h0M154.7 58.8h0M158.3 60.2h0M161.9 61.7h0M165.4 63.5h0M168.8 65.4h0M172.1 67.6h0M175.2 69.9h0M178.2 72.4h0M181.1 75.1h0M183.8 78.0h0M186.3 81.0h0M188.6 84.1h0M190.8 87.4h0M192.7 90.8h0M194.5 94.3h0M196.0 97.9h0M197.4 101.5h0M198.5 105.3h0M199.4 109.1h0M200.1 112.9h0M200.5 116.8h0M200.8 120.7h0M196.7 122.7h0M196.4 128.6h0M195.6 134.5h0M194.2 140.2h0M192.3 145.9h0M189.9 151.3h0M187.0 156.4h0M183.6 161.3h0M179.7 165.8h0M175.5 169.9h0M170.9 173.7h0M166.0 176.9h0M160.7 179.7h0M155.3 182.0h0M149.6 183.8h0M143.8 185.1h0M137.9 185.7h0M132.0 185.9h0M126.1 185.5h0M120.3 184.5h0M114.5 183.0h0M109.0 180.9h0M103.6 178.4h0M98.5 175.4h0M93.8 171.8h0M89.3 167.9h0M85.3 163.6h0M81.7 158.9h0M78.5 153.9h0M75.8 148.6h0M73.7 143.1h0M72.0 137.4h0M70.9 131.6h0M70.4 125.7h0M70.4 119.7h0M70.9 113.8h0M72.0 108.0h0M73.7 102.3h0M75.8 96.8h0M78.5 91.5h0M81.7 86.5h0M85.3 81.8h0M89.3 77.5h0M93.8 73.6h0M98.5 70.0h0M103.6 67.0h0M109.0 64.5h0M114.5 62.4h0M120.3 60.9h0M126.1 59.9h0M132.0 59.5h0M137.9 59.7h0M143.8 60.3h0M149.6 61.6h0M155.3 63.4h0M160.7 65.7h0M166.0 68.5h0M170.9 71.7h0M175.5 75.5h0M179.7 79.6h0M183.6 84.1h0M187.0 89.0h0M189.9 94.1h0M192.3 99.5h0M194.2 105.2h0M195.6 110.9h0M196.4 116.8h0M191.2 127.5h0M189.6 136.9h0M186.5 146.0h0M182.0 154.4h0M176.1 161.9h0M169.1 168.4h0M161.1 173.6h0M152.3 177.5h0M143.0 179.8h0M133.5 180.6h0M124.0 179.8h0M114.7 177.5h0M105.9 173.6h0M97.9 168.4h0M90.9 161.9h0M85.0 154.4h0M80.5 146.0h0M77.4 136.9h0M75.8 127.5h0M75.8 117.9h0M77.4 108.5h0M80.5 99.4h0M85.0 91.0h0M90.9 83.5h0M97.9 77.0h0M105.9 71.8h0M114.7 67.9h0M124.0 65.6h0M133.5 64.8h0M143.0 65.6h0M152.3 67.9h0M161.1 71.8h0M169.1 77.0h0M176.1 83.5h0M182.0 91.0h0M186.5 99.4h0M189.6 108.5h0M191.2 117.9h0" stroke="#111" stroke-width="1.9" stroke-linecap="round"/>
<rect x="116.5" y="138" width="6.5" height="29" fill="#fff" stroke="#777" stroke-width="1" />
<rect x="151.5" y="150.5" width="10.5" height="17" fill="#fff" stroke="#333" stroke-width="1" />
<rect x="118.2" y="141.5" width="2.6" height="16" fill="#8dc63f" stroke="none" stroke-width="1" />
<rect x="155.6" y="142" width="2.6" height="16" fill="#e8443a" stroke="none" stroke-width="1" />
<text x="109.6" y="136.4" font-size="12.1" text-anchor="start" >LED</text>
<text x="148.9" y="136.4" font-size="12.1" text-anchor="start" >PD</text>
<text x="156" y="22" font-size="12.5" text-anchor="start" >Skin model</text>
<line x1="189.00" y1="25.00" x2="188.00" y2="44.00" stroke="#111" stroke-width="1.4" />
<text x="71.7" y="42.7" font-size="12.5" text-anchor="start" >Top black encap.</text>
<line x1="85.60" y1="54.00" x2="83.70" y2="70.50" stroke="#111" stroke-width="1.4" />
<text x="99.7" y="208.6" font-size="12.5" text-anchor="start" >Bottom black encap.</text>
<line x1="164.90" y1="178.70" x2="169.30" y2="197.70" stroke="#111" stroke-width="1.4" />
<line x1="109.50" y1="228.40" x2="202.30" y2="228.40" stroke="#000" stroke-width="2" />
<text x="206.4" y="230.9" font-size="12.5" text-anchor="start" >1 cm</text>
<text x="255.6" y="35.7" font-size="18" text-anchor="start" >b</text>
<g stroke-width="0.9" fill="none">
<path d="M340.1 166.1l-2.9 0.8M333.2 167.7l-2.5 -1.8M353.2 166.9l-1.1 3.2M396.5 128.3l2.8 -3.1M396.3 146.8l2.1 1.6M398.4 148.4l3.3 0.6M350.0 156.6l4.4 -0.0M372.3 145.2l3.4 2.2M323.6 157.9l0.6 -3.0M362.5 135.5l2.4 -3.8M347.6 137.5l-3.1 -0.9M364.9 132.5l-3.0 3.2M416.2 164.2l3.3 3.1M358.8 153.1l-4.3 1.5M333.3 165.7l-2.4 3.2" stroke="#00ccff"/>
<path d="M353.8 143.7l-3.0 0.3M416.6 138.1l1.6 -4.0M327.1 154.4l-3.4 3.1M378.6 131.1l0.6 -2.7M349.0 152.6l-3.9 0.8M386.5 162.2l-1.3 -3.0M379.8 154.3l-1.6 -2.6M378.2 151.7l-4.1 -2.3M365.0 160.3l4.4 -2.2M378.9 140.0l-1.9 -3.5M339.0 172.5l-3.5 -0.1M370.1 141.1l-1.8 -2.0M369.9 133.4l4.8 1.3M374.7 134.7l3.9 0.2M341.4 130.3l2.0 -2.6M376.7 180.4l2.8 0.7M381.3 132.7l-4.1 -2.3M377.2 130.4l-3.0 -3.2M415.3 142.0l-5.4 -0.5M405.1 143.2l-3.2 1.8M380.6 147.4l-4.2 0.7" stroke="#3344ff"/>
<path d="M464.7 133.8l2.8 -0.9M467.5 132.8l3.2 0.7M409.5 178.7l2.3 -3.1M419.9 172.5l2.6 3.1M382.3 154.2l-4.0 -0.6M405.7 129.9l3.3 1.1M379.2 128.3l-2.0 2.6M376.1 138.8l-0.9 2.7M369.3 150.9l-4.8 -0.4M375.9 133.3l3.1 1.2M389.6 167.7l0.6 -3.3M385.2 159.1l-2.7 -3.0M404.4 146.4l0.5 -2.6M327.8 153.1l3.5 -1.4M374.3 141.4l-3.4 2.4M361.6 131.9l-0.2 4.3M352.3 135.2l-0.1 4.0M398.0 144.5l-4.7 -1.9" stroke="#ff22cc"/>
<path d="M437.7 128.2l4.2 1.6M364.1 126.7l1.1 -2.3M371.3 130.6l3.8 2.9M387.8 179.8l-1.2 2.4M373.6 150.4l-3.9 -1.4M350.9 144.0l-3.2 2.4M339.2 145.1l-4.1 -1.7M329.5 153.7l-2.4 0.7M379.0 148.3l3.3 -1.9M364.6 150.5l-0.4 -3.5M345.8 160.2l0.2 3.3M354.3 156.6l2.5 -0.9M358.5 153.2l2.7 -3.9M370.9 143.8l-0.8 -2.7M368.3 139.2l-3.6 0.2M364.5 156.7l2.3 -3.3M366.2 143.0l-3.4 -1.0M361.3 177.5l0.2 4.2M419.5 167.3l3.4 2.2M401.9 145.0l-3.8 -0.5M385.6 145.2l-5.1 2.1M354.5 154.6l-6.2 0.2M331.4 180.8l-0.3 5.7" stroke="#ff4488"/>
<path d="M450.3 136.7l4.8 0.9M327.5 158.0l-2.0 -4.0M386.6 182.2l-3.7 7.0M351.3 179.5l-2.3 1.5M349.0 181.0l-1.9 3.6M356.0 135.6l-1.3 3.4M347.7 146.5l-1.9 3.8M332.4 143.2l-3.4 0.0M410.2 134.6l-4.0 -0.3M333.3 152.6l-3.8 1.1M364.5 140.0l2.6 -3.1M371.1 134.6l4.8 -1.2M358.2 146.6l-2.0 2.6M382.4 156.1l-2.6 -1.8M395.0 149.0l1.2 -2.2M375.4 158.0l1.1 2.3M376.5 160.3l-1.4 3.8M393.6 131.4l-3.2 -2.5M357.4 129.5l-2.3 2.8M362.8 142.0l-4.5 -0.9M426.0 172.0l3.8 1.6M348.3 154.8l-2.8 3.4M340.9 160.3l-3.9 3.9M330.9 169.0l0.5 5.9M351.7 132.8l0.5 -5.8" stroke="#e8d840"/>
<path d="M364.1 131.4l0.0 -4.7M375.1 133.5l2.0 2.1M413.3 173.6l1.8 -1.8M342.3 162.6l-2.3 3.5M330.1 161.7l-2.6 -3.8M345.8 150.3l-2.6 0.4M409.0 130.9l1.6 3.0M340.7 160.9l-3.7 -2.6M393.1 171.2l-3.5 -0.1M376.9 144.0l2.1 -4.0M335.5 172.4l-2.1 -3.8M331.3 151.6l3.5 -3.2M366.8 148.2l2.2 -3.4M396.5 132.5l-2.9 -1.1M352.2 139.2l-4.5 -1.7M374.2 127.3l-3.0 0.0M393.4 142.6l-3.5 1.0" stroke="#22dd55"/>
<path d="M459.8 137.4l1.9 -1.7M380.8 137.6l-1.6 2.2M391.3 170.3l-0.1 3.3M391.2 173.6l-1.2 4.5M389.9 178.1l-2.1 1.7M385.8 154.0l-3.5 0.2M396.5 134.9l0.5 -3.9M397.0 131.1l-0.5 -2.8M335.1 143.5l-2.7 -0.3M414.3 133.9l-4.1 0.7M406.2 134.3l-0.6 -3.9M378.7 135.5l-0.1 -4.4M377.2 130.9l-1.4 3.2M367.1 136.9l4.0 -2.4M374.1 149.4l-3.1 -1.8M387.5 153.6l4.0 -1.8M361.2 149.2l3.2 -2.3M364.7 139.3l-2.2 -3.8M363.7 165.2l1.8 1.8M366.5 170.0l1.5 4.2M368.0 174.2l2.7 1.8M432.0 178.6l2.7 5.2M422.0 135.2l-3.2 4.4M362.8 153.2l-4.0 -0.1M486.1 156.8l2.4 -5.3" stroke="#9955ff"/>
<path d="M388.0 161.4l1.5 4.1M351.4 172.9l0.5 4.1M317.5 160.4l-4.1 -1.3M350.3 179.8l0.9 3.4M375.8 134.2l0.3 4.6M373.0 154.1l-3.7 -3.1M379.1 134.5l3.6 0.1M362.7 141.2l-2.4 2.8M356.3 149.3l-1.6 3.3M346.0 163.5l1.6 2.0M389.5 171.1l0.0 -3.3M401.7 149.0l2.7 -2.6M405.1 134.3l-1.5 -2.2M365.9 175.9l-2.9 0.5M369.0 145.1l3.3 0.0M375.6 147.4l1.2 -3.4M364.8 131.7l-3.2 0.2M358.7 139.5l-3.5 0.8M355.2 140.3l-3.5 -1.7M366.2 141.5l-1.0 -3.4M382.8 128.6l-0.5 -3.3M355.0 132.3l-2.8 2.9M429.8 173.6l2.2 5.0M425.5 127.9l0.2 5.7M331.5 174.9l-0.1 6.0" stroke="#ff3333"/>
<path d="M448.1 133.0l2.2 3.7M461.7 135.7l3.0 -1.9M366.7 134.6l-2.5 -0.6M424.3 178.6l-3.8 1.9M347.4 156.6l-2.4 2.5M337.1 166.9l-3.9 0.8M330.7 165.9l-0.6 -4.2M322.0 151.7l-3.8 -0.9M382.5 145.9l2.9 4.0M385.4 149.9l0.4 4.0M343.2 150.7l-2.2 -1.2M410.6 133.9l2.4 2.0M320.4 159.0l-3.0 1.4M375.1 141.5l0.1 3.3M382.7 134.6l-0.0 4.8M406.7 137.5l-1.6 -3.2M325.2 160.4l-1.6 -2.4M368.4 151.5l-1.7 -3.3M365.2 138.1l2.1 -1.4M364.4 132.1l-4.5 -2.1M343.3 127.7l1.6 -2.3M365.5 166.9l1.0 3.0M366.5 140.3l-0.3 2.7M418.8 139.6l-3.5 2.4M345.5 158.2l-4.6 2.1" stroke="#ff9922"/>
<path d="M441.9 129.8l4.0 -0.4M377.1 135.5l3.7 2.0M411.8 175.6l1.5 -2.1M422.5 175.6l1.8 3.0M420.5 180.5l-3.3 3.3M345.0 159.1l-2.7 3.5M380.1 144.3l2.4 1.6M403.8 127.6l1.9 2.2M413.0 136.0l1.1 2.5M414.1 138.5l2.5 -0.4M335.7 151.3l-2.3 1.3M323.7 157.5l-3.2 1.5M364.2 147.0l-1.9 -3.5M344.6 156.2l1.2 4.0M370.9 147.6l-2.4 -1.5M375.1 164.1l-1.5 3.0M369.0 175.3l-3.1 0.6M356.8 155.7l1.7 -2.5M364.4 146.9l4.5 -1.8M367.3 136.7l2.5 -3.3M386.2 128.5l-4.8 -1.3M370.7 176.0l4.2 1.9M374.9 177.8l1.8 2.6M378.5 185.7l-0.7 3.4M337.0 164.3l-3.7 1.5M497.4 146.8l3.7 1.2" stroke="#44bbee"/>
<path d="M370.6 135.9l-3.9 -1.3M369.9 125.9l1.3 4.7M415.2 171.8l4.7 0.7M417.2 183.8l-2.3 2.3M392.9 167.6l-1.6 2.7M352.1 170.2l-0.7 2.7M369.7 149.0l-2.6 0.3M378.7 139.1l-0.0 -3.6M369.5 158.2l2.3 -1.0M368.9 144.8l-2.7 -3.3M379.5 181.1l-1.0 4.6M422.9 169.4l3.1 2.6M372.3 150.6l-4.0 -0.2" stroke="#c8c050"/>
<path d="M433.1 128.2l4.6 0.0M325.5 154.0l-3.5 -2.3M389.5 165.5l3.4 2.1M351.9 177.0l-0.6 2.5M376.7 140.6l3.4 3.7M354.7 139.0l-0.9 4.7M341.0 149.5l-1.8 -4.3M418.2 134.0l-4.0 -0.1M337.7 154.9l-2.0 -3.6M313.3 159.0l-4.2 2.7M355.1 178.9l-4.8 0.9M351.2 183.2l1.1 4.3M375.2 144.8l0.2 3.6M362.3 143.5l2.2 -3.5M354.6 152.5l-2.1 1.9M352.5 154.5l-3.5 -1.9M391.5 151.7l3.5 -2.7M406.2 140.5l0.5 -3.0M373.6 167.1l-2.7 2.8M341.9 174.1l-2.9 -1.6M333.4 168.6l-3.7 -3.3M328.7 162.7l-3.5 -2.3M324.2 154.9l3.6 -1.8M361.4 136.3l-2.7 3.3M366.9 153.5l1.6 -2.0M378.6 134.9l0.8 4.5M390.4 128.9l-4.2 -0.4M359.9 130.0l-2.5 -0.5M344.5 136.6l-2.8 -2.6M368.1 130.1l-3.2 2.3M361.9 135.6l2.9 1.9M409.9 141.6l-4.8 1.6M483.4 160.5l2.6 -3.7M488.5 151.5l4.9 -3.8" stroke="#11ccbb"/>
<path d="M445.9 129.4l2.2 3.6M364.2 134.0l-0.2 -2.6M365.2 124.4l4.7 1.5M352.8 163.1l0.4 3.8M378.4 153.6l-3.6 -0.5M374.8 153.1l-1.2 -2.7M367.1 149.3l-3.2 -1.1M337.0 158.2l0.7 -3.3M360.3 144.0l-2.0 2.6M345.2 153.3l-0.6 2.9M390.1 164.4l-3.6 -2.2M404.9 143.8l1.4 -3.3M370.9 173.6l-1.9 1.8M329.7 165.3l-1.0 -2.6M414.1 161.3l2.1 2.9M425.6 133.7l-3.6 1.5M389.9 143.6l-4.2 1.6M368.3 150.4l-5.5 2.8M479.6 161.9l3.9 -1.4" stroke="#dd33ff"/>
<path d="M455.1 137.6l4.7 -0.2M350.2 161.6l2.6 1.5M356.5 176.3l-1.4 2.6M375.4 148.4l3.6 -0.1M371.8 157.2l3.5 0.8M370.9 169.9l-0.0 3.7M382.4 125.3l-2.7 -0.7M400.3 132.2l-3.8 0.3M341.7 133.9l-0.4 -3.6M371.2 127.3l-3.1 2.8M364.8 137.5l1.7 2.8M358.1 174.0l3.2 3.6M376.4 148.1l-4.1 2.5M493.4 147.7l4.0 -0.9" stroke="#88dd33"/>
<path d="M399.2 132.9l4.4 2.4M339.9 172.3l-4.2 -0.0M377.4 170.2l0.4 -2.9M378.1 163.5l-2.2 -3.9M413.9 157.3l-3.3 0.7M366.8 174.8l2.4 -1.0M377.2 150.6l-1.3 3.3M396.2 125.9l-2.5 2.8M357.8 154.5l2.7 -2.0M360.8 148.2l3.9 -2.0M357.4 136.3l-4.2 2.5M353.2 138.8l-3.5 -1.1M376.0 136.2l-1.8 -2.3M342.1 152.1l0.7 -3.3M402.5 152.6l3.2 0.1M437.1 133.2l4.4 4.2M442.8 147.9l1.9 6.0M395.9 162.5l3.6 2.8M265.0 143.0l-5.8 -2.3" stroke="#00ccff"/>
<path d="M379.6 138.2l2.5 -3.2M385.2 159.5l4.8 0.0M390.0 159.5l1.2 2.3M417.9 156.5l-3.9 0.8M410.6 158.0l-3.2 -2.4M393.8 160.9l-3.9 0.5M378.4 127.4l-2.7 2.1M375.8 129.5l-2.1 4.5M366.2 151.2l-1.6 4.0M360.8 148.0l3.0 3.6M363.8 151.6l1.5 3.9M360.5 162.3l0.4 4.2M362.8 172.2l4.0 2.6M368.6 152.1l-1.4 4.3M374.8 160.3l2.6 1.4M393.7 128.7l1.0 3.1M363.5 168.2l0.6 -2.7M364.1 165.5l-2.1 -1.9M365.7 140.0l2.3 -2.9M369.5 139.3l-0.2 4.7M400.3 140.7l2.1 -1.5M377.9 128.2l1.3 -3.0M415.3 159.3l4.5 -1.2M419.8 158.0l2.1 -3.8M360.4 165.9l-4.0 -1.6M444.8 153.8l2.9 5.8M298.9 144.2l-3.3 -1.6" stroke="#3344ff"/>
<path d="M355.1 154.9l-3.0 -1.5M384.9 132.4l-3.5 -0.7M366.2 133.9l-3.1 2.0M383.0 128.0l1.0 -2.8M385.8 128.7l3.3 1.7M375.8 165.2l0.2 3.5M419.1 151.0l4.0 1.4M372.2 143.2l-0.7 4.0M364.6 155.2l-2.3 1.1M362.5 175.0l-3.2 2.9M394.7 135.1l1.7 4.1M358.9 168.6l4.6 -0.4M414.2 128.5l1.5 -4.2M369.7 149.5l4.1 1.0M377.9 159.6l1.8 3.2M346.1 140.9l-3.8 -0.3M399.3 171.7l2.4 3.9M414.3 180.0l2.8 2.4M373.6 156.1l0.9 3.5M348.2 142.6l-0.2 -2.8M339.4 130.7l-1.9 3.1M283.9 143.0l-4.0 -2.1" stroke="#ff22cc"/>
<path d="M332.3 163.5l1.4 3.4M388.0 133.9l-3.1 -1.6M389.1 130.4l2.8 1.2M331.8 176.8l-0.4 4.6M382.3 156.7l2.9 2.7M365.3 155.5l-3.0 2.2M396.6 129.5l0.6 -3.0M396.4 139.2l2.3 3.1M361.7 167.2l-3.0 -2.0M412.8 144.9l-1.3 -2.4M337.9 143.4l-2.7 -0.5M378.2 145.2l-0.4 -4.3M374.2 133.9l1.3 -3.0M417.1 182.4l2.0 1.7M375.7 161.8l4.1 -2.5M379.8 159.2l2.7 -2.6M386.8 149.6l0.4 -3.6M421.9 171.3l2.8 3.3M275.6 141.1l-4.9 1.3" stroke="#ff4488"/>
<path d="M396.0 133.6l3.2 -0.7M381.6 173.9l4.9 1.0M342.4 172.9l-2.5 -0.6M398.1 155.8l-2.2 1.5M386.8 170.4l2.2 -4.1M361.2 169.6l1.6 2.6M377.4 161.7l3.7 -3.1M358.7 165.3l-2.5 0.2M410.8 134.9l1.7 -1.9M376.7 136.5l-2.0 2.5M342.4 140.6l-2.5 -1.2M343.3 175.1l-1.8 -2.3M397.3 151.4l1.4 -4.6M402.4 139.2l3.9 -2.3M421.8 154.3l0.3 -3.9M423.3 147.4l-2.8 -2.7M417.0 134.3l-2.0 -2.0M405.6 177.5l3.4 0.6M370.8 165.8l-2.7 0.4M366.3 151.2l3.5 -1.6M387.2 146.0l-0.6 -3.2M342.4 143.9l-2.6 -3.8M336.0 133.8l-4.3 -2.1M412.8 145.0l3.3 -2.7M424.3 138.3l2.6 -4.8M403.7 165.4l4.3 -0.1" stroke="#e8d840"/>
<path d="M383.3 138.1l2.7 -1.7M384.0 125.2l1.8 3.5M352.3 173.5l-2.7 -2.8M333.8 174.9l-2.0 1.9M378.7 157.5l3.6 -0.7M371.6 147.2l-2.4 1.6M386.7 162.7l-2.7 -1.8M383.8 170.7l-2.3 3.8M372.4 163.2l-3.3 3.6M370.7 134.0l2.8 -0.1M400.3 163.3l-4.3 1.2M395.9 164.5l-2.5 -1.7M375.6 130.9l2.3 -2.7M357.9 156.0l1.8 -1.9M362.5 151.8l3.9 -0.6M345.9 165.9l-3.3 -2.2M341.8 157.9l0.8 -2.8M416.1 142.2l2.8 -2.1M418.9 140.2l4.7 -1.3M441.5 137.4l0.8 4.6M416.7 165.4l3.4 1.9M420.1 167.3l1.7 4.0" stroke="#22dd55"/>
<path d="M352.0 153.4l-4.8 -1.0M377.5 130.1l-4.4 2.2M349.6 170.7l-2.4 2.3M347.2 173.0l-4.8 -0.1M420.1 154.8l-2.2 1.7M395.9 157.3l-2.1 3.5M375.2 136.6l2.6 1.9M385.7 172.9l1.1 -2.5M381.8 159.6l-4.0 -0.6M362.2 157.7l-1.7 4.6M361.0 166.5l0.2 3.2M367.2 156.4l0.1 2.6M369.1 166.8l-4.9 -0.2M420.1 151.4l-0.4 -4.3M335.2 142.9l-3.8 0.8M335.6 150.6l3.8 -2.7M391.2 159.7l1.2 -4.1M392.4 155.5l2.1 -1.9M378.0 151.4l-1.3 -3.6M420.5 144.7l-2.0 -1.5M416.9 140.5l-1.7 -4.0M409.0 178.1l2.8 0.5M374.5 159.6l1.2 2.2M337.5 133.8l1.4 3.5M342.8 137.8l3.0 -2.3M418.2 134.0l-2.4 -2.6M450.9 180.0l2.0 3.0M303.8 145.0l-4.8 -0.8M288.3 144.3l-4.4 -1.3M280.0 140.9l-4.3 0.1" stroke="#9955ff"/>
<path d="M364.2 153.8l-4.7 -1.6M347.3 152.4l-3.2 2.9M344.1 155.3l-2.8 1.6M341.3 156.8l-3.7 0.5M337.6 157.3l-3.3 3.4M334.3 160.7l-2.0 2.7M381.4 131.7l-3.9 -1.6M373.1 132.3l-3.3 1.7M376.7 171.4l2.3 1.6M362.2 174.5l-4.5 0.8M335.8 172.3l-2.0 2.6M388.8 179.2l-3.2 -2.7M367.3 159.0l1.8 4.1M373.3 157.5l1.5 2.9M381.1 158.6l2.6 0.2M384.7 138.8l4.4 -2.2M368.2 146.7l1.5 2.8M378.6 155.4l-0.7 4.2M360.4 136.2l-3.0 0.0M343.9 170.6l2.6 2.3M346.5 175.7l-3.2 -0.7M378.5 154.9l-0.5 -3.5M376.6 147.8l1.6 -2.6M418.5 143.2l-1.5 -2.6M411.8 178.7l2.6 1.3M388.4 152.8l-1.6 -3.2M349.5 133.4l0.2 -3.3M292.0 143.3l-3.7 1.0M270.7 142.4l-5.7 0.6M259.2 140.7l-4.8 -0.6" stroke="#ff3333"/>
<path d="M403.6 135.3l-4.4 0.2M378.4 161.2l-2.6 4.0M386.4 174.8l-0.7 2.7M357.7 175.3l-3.3 0.6M377.8 138.5l-3.4 3.0M369.7 170.3l-2.7 2.8M386.8 164.9l-2.6 3.2M394.5 134.0l2.1 -4.5M394.7 131.9l0.0 3.2M370.9 159.1l1.6 4.1M411.4 142.4l-2.0 -4.5M412.5 133.0l1.7 -4.5M372.1 136.1l-2.6 3.2M403.8 170.3l-4.6 1.4M375.2 167.3l-4.5 -1.5M386.5 154.9l1.9 -2.1M338.3 137.1l-2.3 -3.3M447.9 164.1l2.3 6.0M450.2 170.1l0.2 6.4M399.6 165.3l4.1 0.1" stroke="#ff9922"/>
<path d="M355.1 151.5l0.0 3.4M391.9 131.6l4.1 2.0M379.0 173.0l2.5 0.8M383.3 181.3l-1.5 2.2M379.9 172.7l-2.5 -2.5M375.9 159.6l2.8 -2.2M423.1 152.5l-3.0 2.4M402.9 155.1l-4.8 0.7M369.2 173.8l-1.9 -4.4M369.1 163.1l0.9 3.8M356.2 165.5l2.8 3.1M409.4 138.0l1.4 -3.0M369.2 144.0l-1.0 2.7M377.8 151.5l0.8 3.9M349.7 137.7l-3.5 3.2M336.6 164.9l-1.9 -3.2M394.5 153.7l2.8 -2.3M422.1 150.4l1.2 -3.0M415.0 132.3l2.2 -2.5M368.1 166.2l-3.9 0.5M356.4 164.2l-0.2 -4.5M339.8 140.0l-1.5 -2.9M426.8 133.5l3.2 -5.5M430.1 128.0l3.0 -3.4M433.0 124.5l2.8 4.9M411.7 164.4l5.0 1.0M254.5 140.1l-6.7 -0.8" stroke="#44bbee"/>
<path d="M363.1 135.9l-2.2 2.6M382.1 135.0l0.8 -3.9M382.9 131.1l0.1 -3.1M376.0 168.8l0.7 2.6M354.3 175.9l-2.0 -2.4M391.2 161.8l3.2 -0.9M373.7 134.1l1.5 2.5M374.4 141.4l-2.2 1.8M357.9 181.8l-1.1 3.1M384.2 168.1l-0.3 2.6M389.1 136.6l3.1 -1.5M397.2 126.5l-1.1 -0.6M364.2 166.6l-2.6 0.7M360.5 152.5l0.3 -4.3M368.0 137.1l2.7 -3.1M373.8 150.5l4.0 1.0M364.8 134.9l-4.4 1.3M331.4 143.7l-4.3 -1.3M415.2 136.5l1.8 -2.2M368.7 150.0l3.0 2.1M346.7 135.0l-3.2 0.3M342.7 163.8l-2.4 -1.6M411.3 148.6l1.5 -3.6M450.4 176.5l0.5 3.5" stroke="#c8c050"/>
<path d="M381.3 141.7l2.0 -3.5M386.0 136.4l2.0 -2.4M407.5 155.7l-4.6 -0.5M385.7 176.6l0.1 -3.7M392.2 135.1l2.3 -1.2M362.0 163.6l-2.9 -2.3M419.7 147.1l-4.0 -2.5M375.2 134.1l-3.1 2.0M339.8 139.4l-2.0 3.9M346.5 172.9l0.0 2.8M338.6 169.2l-2.0 -4.3M334.7 161.7l-2.9 -3.8M398.7 146.9l1.4 -2.2M364.2 166.7l-3.8 -0.8M356.2 159.8l1.7 -3.8M359.7 154.1l2.8 -2.2M343.4 135.3l-2.2 -1.4M398.9 154.6l3.6 -2.0M405.7 152.7l4.5 -1.5M421.6 135.5l-3.4 -1.4M408.0 165.3l3.7 -0.9M424.6 174.5l2.0 4.1M426.6 178.7l-0.1 4.8M295.7 142.6l-3.7 0.8" stroke="#11ccbb"/>
<path d="M359.5 152.2l-4.4 -0.7M369.8 134.0l-3.6 -0.1M377.8 167.2l0.2 -3.7M394.4 180.1l-2.4 1.0M389.0 166.3l-2.3 -3.5M384.0 161.0l-2.2 -1.4M377.8 158.9l-3.9 -1.2M357.8 145.7l3.0 2.3M367.0 173.0l-4.6 2.0M359.3 177.9l-1.4 3.9M415.7 144.6l-3.0 0.3M365.3 143.6l0.4 -3.6M341.5 172.7l-2.9 -3.5M331.9 157.9l2.0 -4.3M333.8 153.6l1.7 -3.0M401.6 175.7l3.9 1.9M371.6 152.1l2.0 4.0M382.5 156.6l4.0 -1.8M348.0 139.8l-1.4 -4.8M341.2 133.9l-1.9 -3.2M338.9 137.3l4.0 0.6M345.9 135.5l3.6 -2.1M410.3 151.2l1.0 -2.6M423.6 138.8l-2.0 -3.4M435.9 129.4l1.3 3.8M442.3 142.0l0.6 5.8M447.7 159.6l0.2 4.5" stroke="#dd33ff"/>
<path d="M385.7 177.5l-2.5 3.7M394.3 160.9l3.4 -3.5M369.2 148.9l-3.0 2.4M392.1 181.0l-3.2 -1.8M370.0 166.8l-0.3 3.4M375.9 153.9l-2.6 3.6M383.7 158.8l1.5 3.9M385.2 162.7l1.6 2.2M364.8 146.1l0.6 -2.5M373.6 133.8l3.2 2.6M374.7 139.0l-1.4 2.8M374.1 130.6l1.1 3.5M393.4 162.8l-2.2 -3.1M400.2 144.6l0.1 -3.9M377.8 140.8l-1.8 -4.6M406.2 172.4l-2.3 -2.1M340.2 162.2l1.5 -4.3M342.6 155.1l-0.5 -3.0M342.8 148.8l-0.5 -4.9M414.8 146.1l5.6 -2.6M420.4 143.5l3.8 -5.2" stroke="#88dd33"/>
<path d="M387.9 152.4l-2.8 -1.6M385.1 150.8l4.4 -0.9M376.4 159.8l3.3 -3.3M386.2 154.1l4.2 1.0M342.9 159.1l-1.8 -4.3M339.1 135.1l2.5 -1.1M341.3 150.6l3.7 1.0M389.8 144.9l-3.0 -1.4M382.4 173.0l2.2 1.3M355.1 170.5l2.3 3.3M394.0 165.0l-1.8 -3.1M385.5 150.8l-1.0 -3.0M376.6 163.0l2.1 1.5M398.3 151.8l1.5 3.5M336.6 170.8l-0.5 4.0M465.4 138.5l2.8 -2.4M316.8 134.8l-2.5 -2.6" stroke="#00ccff"/>
<path d="M425.5 155.8l3.0 -2.2M435.7 144.8l2.2 -3.5M392.7 150.7l3.9 -2.2M409.3 139.5l3.5 -1.5M412.9 138.0l3.9 0.3M341.6 134.1l3.0 -1.0M337.4 151.3l3.8 -0.7M382.9 145.8l-2.4 0.9M372.9 147.0l-4.1 2.5M386.8 143.5l-3.1 1.1M376.3 140.4l-4.0 -0.6M341.0 125.9l4.1 0.8M393.0 177.4l3.3 2.5M376.6 182.9l-1.3 3.4M363.9 151.8l-2.2 3.7M362.6 160.0l-1.3 2.5M356.7 168.5l-1.6 2.1M336.1 174.8l-3.5 1.4M485.0 126.2l-1.6 1.2M486.6 156.3l5.3 3.0" stroke="#3344ff"/>
<path d="M437.9 141.2l3.9 -1.9M376.7 147.9l2.3 -3.4M378.9 144.5l2.4 -2.8M381.4 141.7l-0.9 -3.3M414.2 132.6l1.7 2.7M416.0 138.5l2.7 0.9M429.9 140.4l2.7 -3.5M433.5 134.5l3.4 -1.9M396.0 163.4l3.5 0.2M372.8 166.6l0.4 -4.4M339.5 147.7l1.3 -4.3M344.6 133.1l0.9 -3.4M357.5 160.1l3.3 2.2M361.3 162.5l-2.9 2.5M358.4 165.0l-1.8 3.5M374.7 159.0l1.9 3.9M378.7 164.5l0.4 2.8M410.7 154.4l1.5 -4.5M387.0 133.9l-1.1 3.6M379.9 139.1l2.0 -2.0M380.9 133.5l-4.0 -0.9M319.5 180.0l-3.4 3.7M483.4 127.4l-0.4 6.3M480.0 140.0l-0.4 4.9M483.4 154.1l3.2 2.2M495.5 159.8l3.0 4.8" stroke="#ff22cc"/>
<path d="M395.7 145.0l-1.8 -3.9M380.5 138.3l-0.4 -3.6M380.1 134.8l-1.5 -2.3M416.8 138.3l3.0 0.3M419.8 138.6l3.4 1.8M373.2 162.2l3.2 -2.4M341.1 154.7l-1.2 -3.3M335.2 144.5l-0.9 3.6M354.5 158.4l3.0 1.7M360.8 162.3l0.4 4.2M351.8 169.5l3.2 1.7M359.7 175.8l0.6 2.6M378.8 144.3l-2.5 -3.9M339.1 138.4l0.7 -4.1M371.7 145.0l4.4 0.1M454.5 170.7l3.1 -2.6M371.5 149.2l-3.4 1.2M382.8 175.0l2.6 3.6M385.4 178.7l1.3 2.6M316.1 183.7l-1.9 2.1M459.3 139.1l6.2 -0.6M475.7 131.7l4.5 -2.4M483.1 137.5l-3.0 2.5M479.6 144.9l-0.5 5.0" stroke="#ff4488"/>
<path d="M423.3 162.8l2.7 -2.7M389.5 149.9l3.2 0.8M418.7 139.5l2.9 2.9M422.9 157.0l-3.7 0.3M404.3 176.9l-2.7 -1.5M396.1 170.5l-0.8 -3.0M377.1 173.4l-3.9 -2.4M382.4 155.0l3.9 -0.9M340.0 151.4l-0.5 -3.7M340.8 143.4l-4.7 -1.6M337.3 139.4l1.8 -4.2M377.3 146.7l-4.4 0.4M369.0 139.6l-2.6 -1.3M379.6 158.1l-2.6 3.8M379.0 169.7l3.4 3.3M363.4 144.8l4.4 0.3M434.5 174.8l3.9 1.1M368.1 150.4l-4.2 1.4M378.9 170.3l-1.2 3.9M383.9 177.5l4.6 -0.5M376.9 132.6l-3.1 -2.6M324.4 178.1l-4.8 1.8M325.1 132.3l-4.4 3.6" stroke="#e8d840"/>
<path d="M428.6 153.5l2.1 -3.9M342.8 151.4l-3.5 -2.1M336.6 150.6l-4.6 0.8M425.4 148.5l1.3 4.3M401.7 161.4l-2.5 2.7M390.4 155.1l3.5 -0.4M345.0 151.6l3.2 2.0M368.8 149.6l-3.6 -0.1M362.2 146.8l-4.4 1.9M337.9 141.8l1.2 -3.4M338.5 131.7l0.4 -3.1M347.5 137.5l-3.9 2.8M385.1 161.4l-2.2 -2.3M377.4 164.4l1.2 2.6M370.1 150.5l-2.8 3.0M379.6 148.0l-4.7 0.6M393.1 170.5l-0.3 -2.6M380.6 167.4l3.5 3.4M391.0 175.0l0.2 3.8M408.3 171.7l1.3 -4.1M388.4 126.3l-3.6 2.8M388.2 143.5l2.5 2.2M361.2 147.4l3.1 0.6M332.6 176.3l-6.0 -1.5M326.6 174.7l-2.2 3.4M492.0 159.4l3.6 0.4M501.5 169.7l1.0 4.7" stroke="#22dd55"/>
<path d="M338.4 153.4l4.4 -2.1M317.6 156.4l-2.7 3.0M423.4 145.8l2.0 2.7M401.6 175.4l-2.8 -3.5M379.6 156.5l2.7 -1.5M361.2 166.5l3.5 3.1M382.6 142.8l0.3 3.0M366.4 138.3l-0.7 -3.8M339.8 134.3l-1.3 -2.6M345.1 126.7l1.1 3.3M377.0 161.9l0.4 2.5M438.4 175.9l3.5 0.6M361.7 155.6l0.9 4.4M394.6 180.5l-1.8 -4.5M386.7 153.5l-1.3 -2.8M411.2 158.6l-0.5 -4.2M399.7 155.3l3.1 3.6" stroke="#9955ff"/>
<path d="M425.9 160.1l-0.4 -4.3M395.5 138.7l1.6 -4.1M378.5 132.5l0.5 -3.9M327.3 152.5l-4.0 0.8M401.9 137.8l3.2 1.7M398.8 171.9l-2.6 -1.3M395.3 167.6l0.6 -4.2M399.2 164.2l-2.5 1.3M345.4 129.7l-2.4 -3.2M351.7 157.0l2.7 1.4M385.5 139.2l-2.9 3.7M384.6 174.3l4.6 1.1M378.0 152.9l-3.8 -1.1M374.2 151.8l-4.0 -1.2M364.6 145.7l-3.7 -2.7M360.9 143.0l2.5 1.7M368.9 155.2l2.9 3.3M406.3 175.8l2.0 -4.1M411.8 163.4l-0.7 -4.8M337.8 164.8l-1.2 6.0" stroke="#ff3333"/>
<path d="M418.8 163.6l4.5 -0.8M332.0 151.3l-4.8 1.2M323.3 153.3l-3.0 0.7M410.9 131.5l3.3 1.1M380.2 176.3l-3.1 -2.9M373.2 171.0l-0.4 -4.4M334.3 148.1l3.1 3.2M348.2 153.5l3.5 3.4M387.8 136.3l-2.3 2.8M357.8 148.6l-4.0 2.2M383.8 144.6l-5.0 -0.3M378.7 167.0l0.3 2.7M389.2 175.4l3.8 2.0M367.3 153.5l-3.4 -1.0M367.8 145.1l3.9 -0.1M445.0 173.4l2.5 -0.6M388.6 159.4l0.2 -3.6M409.6 167.6l2.3 -4.2M412.1 149.9l3.1 -3.1M390.7 145.7l3.8 3.2M367.1 145.3l4.8 -1.3M314.3 132.1l-2.5 -5.2" stroke="#ff9922"/>
<path d="M434.1 147.0l1.6 -2.2M393.9 141.1l1.6 -2.4M373.4 161.8l0.7 -3.3M373.9 154.9l1.9 -4.1M375.8 150.8l0.9 -3.0M404.4 160.9l-2.7 0.5M350.2 165.9l1.6 3.6M365.7 134.5l1.5 -4.3M346.9 132.8l0.6 4.8M363.9 152.6l2.2 -4.3M366.1 148.3l-1.6 -2.6M430.7 168.9l1.9 2.2M384.1 170.8l-1.3 4.3M379.1 167.3l-0.2 3.0M377.7 174.2l1.4 3.2M388.5 177.0l3.4 -2.7M391.2 178.8l-1.9 4.3M415.3 146.8l4.3 0.9M385.5 141.0l2.6 2.4M394.5 148.9l3.8 3.0M364.3 148.0l2.8 -2.7M471.6 134.8l4.1 -3.1M480.2 129.3l4.8 -3.1" stroke="#44bbee"/>
<path d="M393.5 159.5l-4.0 -2.5M397.1 134.6l-3.2 -3.5M374.1 158.5l-0.2 -3.6M333.9 155.6l4.5 -2.2M415.9 135.3l0.1 3.2M421.6 142.4l1.8 3.4M405.1 139.5l4.3 0.0M399.5 163.6l3.7 1.5M382.4 178.7l-2.2 -2.4M380.6 146.7l-3.3 -0.0M356.8 173.7l2.8 2.1M369.1 128.1l4.0 -0.4M338.8 128.6l-0.2 -3.5M338.6 125.1l2.4 0.8M393.2 127.6l-2.0 -2.3M392.8 176.0l-0.5 -2.5M392.8 167.9l1.2 -2.8M388.9 155.8l-2.1 -2.2M371.8 158.4l2.9 0.6M421.4 151.0l-0.2 3.0M377.3 141.9l2.7 -2.8M373.7 130.0l-2.3 -1.4" stroke="#c8c050"/>
<path d="M420.9 167.9l-2.2 -4.3M430.7 149.6l3.4 -2.6M330.0 154.9l3.9 0.7M339.3 149.3l-2.7 1.3M425.7 141.6l4.2 -1.1M357.7 162.7l-4.4 -0.4M353.3 162.3l-3.1 3.6M372.3 139.8l-3.3 -0.2M346.2 130.0l0.7 2.8M382.9 159.0l-3.3 -1.0M378.3 178.5l-1.7 4.4M428.2 168.0l2.5 0.8M457.7 168.1l1.4 -4.4M419.6 147.7l1.9 3.3M384.8 129.1l0.9 2.6M371.9 144.0l3.6 1.6M382.0 137.1l-1.1 -3.7M483.0 133.7l0.0 3.8M479.1 149.9l4.2 4.2" stroke="#11ccbb"/>
<path d="M419.9 171.8l1.0 -3.9M423.1 140.5l2.5 1.1M403.2 165.1l1.2 -4.2M336.2 141.8l1.1 -2.4M365.2 149.5l-3.0 -2.7M355.0 171.1l1.9 2.6M360.3 178.4l-1.9 3.2M367.2 130.2l1.9 -2.2M432.6 171.1l1.9 3.7M447.5 172.8l3.5 -1.4M451.0 171.4l3.6 -0.7M374.9 148.6l-3.4 0.6M392.2 161.9l-3.6 -2.5M407.4 178.8l-1.1 -2.9M385.9 137.5l-0.4 3.6M468.2 136.1l3.4 -1.3" stroke="#dd33ff"/>
<path d="M389.5 157.0l-1.6 -4.6M396.5 148.4l-0.8 -3.5M379.0 128.6l4.3 -1.3M320.3 154.0l-2.7 2.5M426.7 152.8l-2.5 1.7M424.1 154.5l-1.2 2.5M432.6 136.9l0.9 -2.4M441.9 176.4l3.1 -3.0M392.3 173.5l0.8 -3.1M379.0 177.4l4.9 0.1M385.7 131.7l1.4 2.2M375.5 145.6l1.8 -3.6M455.4 138.3l3.9 0.8M498.5 164.5l3.0 5.2M320.7 135.9l-3.9 -1.1" stroke="#88dd33"/>
<path d="M402.6 130.2l2.8 -0.1M415.0 133.5l0.9 2.4M423.6 137.0l-2.4 -2.7M421.2 134.3l-3.0 -0.9M377.9 168.0l-3.3 2.2M375.1 167.3l3.7 1.3M353.1 131.5l4.0 1.7M390.0 139.3l3.6 -1.8M402.1 149.0l-3.2 2.8M373.2 131.5l-3.4 2.7M380.0 177.6l0.3 3.0M400.0 170.9l3.2 -0.7M424.1 175.8l-0.4 -3.0M371.8 150.8l-4.1 2.3M420.0 138.9l3.2 -0.8M426.3 137.3l1.1 2.8M383.9 129.9l2.5 -2.3M391.5 138.8l-4.5 -3.5M325.7 157.7l5.7 0.8M479.8 173.1l-2.1 3.1" stroke="#00ccff"/>
<path d="M398.6 131.3l4.0 -1.1M372.1 128.7l4.4 -1.2M383.4 125.7l2.4 -0.9M385.8 124.8l2.8 3.9M417.6 137.9l2.1 3.4M376.0 126.4l-0.7 4.3M370.3 149.3l2.8 1.2M373.1 150.6l2.9 1.9M379.1 134.4l-3.5 -1.7M374.1 136.5l4.8 0.8M407.8 164.1l-0.7 -4.1M423.6 154.7l-2.2 -3.3M416.1 141.5l3.7 -0.0M425.0 153.0l1.0 2.6M367.6 153.1l-2.3 -4.0M429.9 145.9l-3.5 3.2M428.3 155.0l-1.2 3.5M331.5 136.6l-6.1 -0.8M317.9 150.8l2.4 3.4M320.3 154.2l5.3 3.4M347.0 153.1l4.8 -3.1M411.9 132.6l-2.2 -5.2" stroke="#3344ff"/>
<path d="M405.4 130.1l3.4 0.2M396.7 128.1l4.2 -2.6M346.5 130.1l2.9 0.6M411.5 139.5l4.5 2.0M348.5 157.4l-2.6 2.0M345.9 159.4l-3.4 -0.4M335.7 162.2l-1.3 -2.6M332.8 157.6l-2.1 -1.5M409.9 149.0l1.5 -2.5M411.4 146.5l-2.6 -1.0M406.5 157.4l-1.4 2.7M368.6 132.6l-3.6 -1.1M337.6 137.8l-6.0 -1.2M353.8 165.7l-4.2 4.5M474.2 166.1l5.8 1.7M477.7 176.3l-1.0 4.9" stroke="#ff22cc"/>
<path d="M394.8 133.4l3.8 -2.2M396.9 180.0l-1.3 3.8M369.7 130.5l2.5 -1.8M387.9 169.9l-0.0 2.7M356.1 127.7l-1.7 -2.4M363.9 141.5l-3.0 -0.7M360.9 140.7l-2.5 3.4M376.0 152.5l-3.2 3.0M371.8 163.4l-0.2 4.8M402.8 152.2l5.0 0.4M410.5 150.4l2.5 -2.4M377.0 172.2l1.4 2.7M378.3 174.9l1.6 2.7M425.1 158.3l-2.1 2.3M380.3 147.8l-3.0 1.3M365.3 149.1l3.2 -3.6M386.3 148.8l3.7 -0.7M400.6 157.8l-3.6 -0.4M406.0 145.4l-1.6 3.8M319.0 140.6l-1.2 5.7" stroke="#ff4488"/>
<path d="M388.6 128.6l4.6 1.0M415.6 134.0l2.0 3.9M364.7 127.7l2.5 -1.1M379.6 165.1l-1.7 2.9M385.0 168.7l2.9 1.2M365.6 160.6l0.7 -3.2M368.9 145.2l1.4 4.1M393.6 140.8l-0.4 -2.6M348.1 143.8l1.6 -4.2M420.7 163.1l2.4 -3.5M423.0 144.5l0.5 4.9M423.0 160.6l-2.2 2.9M377.3 149.2l-3.2 -0.2M349.8 148.6l0.5 3.8M350.3 152.3l0.5 3.6M350.8 155.9l-2.3 1.5M390.0 148.1l4.3 -1.6M398.3 146.7l2.9 1.5M408.8 145.5l-2.8 -0.1M404.5 153.9l2.0 3.5M343.3 127.6l-5.3 -0.5M400.8 142.7l-4.8 -2.1M364.9 131.5l-6.0 1.9M331.4 158.5l6.0 -1.9M340.8 181.0l3.5 2.4" stroke="#e8d840"/>
<path d="M399.7 176.0l-2.8 3.9M420.7 146.9l-2.8 -1.3M383.5 163.5l-3.9 1.6M374.6 170.2l-2.9 -1.1M404.8 155.7l-2.3 -3.7M389.2 132.0l2.1 -3.2M338.6 129.1l-0.5 -4.1M423.7 172.8l-1.6 -2.5M422.4 141.9l0.7 2.6M423.3 138.0l3.1 -0.8M369.8 129.0l2.7 2.3M416.2 143.0l-4.6 1.6M374.7 134.5l-6.2 -2.0M317.8 146.3l0.1 4.5M422.4 147.1l-5.4 -0.8" stroke="#22dd55"/>
<path d="M386.5 134.5l0.8 -3.7M354.4 125.3l-4.2 -0.3M388.4 153.8l0.9 -4.3M372.7 155.5l-3.6 1.3M382.4 136.1l4.2 -0.5M407.8 152.6l2.7 -2.2M407.7 168.3l0.1 -4.2M391.3 128.7l0.9 -3.2M426.3 146.2l1.7 -4.7M405.1 160.0l-1.0 4.5M425.8 143.0l4.0 2.8M358.9 156.0l-0.5 4.0" stroke="#9955ff"/>
<path d="M416.8 138.2l1.6 3.8M418.4 142.0l2.2 1.3M420.4 139.9l3.2 -2.9M373.0 124.4l3.0 2.1M387.9 172.6l4.6 -0.3M371.2 163.4l-3.0 -1.2M358.4 144.1l4.8 0.0M388.3 142.2l1.7 -2.9M411.0 137.2l0.6 -4.2M403.1 126.4l-3.2 -0.5M373.0 170.4l4.0 1.8M342.3 130.0l-3.7 -0.8M357.8 152.1l1.1 3.9M349.6 170.2l-3.7 3.0M480.0 167.8l-0.1 5.3M417.0 146.3l-2.6 -3.6" stroke="#ff3333"/>
<path d="M376.0 134.1l3.2 -0.4M350.2 125.0l-4.6 0.3M357.1 133.2l3.7 2.9M368.2 162.2l-2.6 -1.6M362.9 146.7l1.6 -2.7M364.6 144.0l-0.6 -2.5M367.1 140.7l1.7 4.5M391.4 179.7l-3.6 2.4M388.7 143.0l-3.0 -2.9M378.9 137.3l3.5 -1.3M411.7 132.9l-2.1 -2.3M380.3 180.6l-1.9 3.8M349.7 139.7l1.2 -3.0M422.2 178.0l1.9 -2.2M401.3 153.4l-0.7 4.4M410.8 153.6l-0.8 -4.6M379.2 131.0l4.7 -1.1M353.0 136.0l-3.5 0.2M476.8 181.2l0.5 5.7" stroke="#ff9922"/>
<path d="M413.1 131.7l1.8 1.7M415.9 135.9l0.9 2.3M376.6 127.5l3.5 -0.6M419.6 144.5l1.9 -2.4M369.7 125.4l3.3 -1.0M375.3 130.7l0.6 3.4M349.4 130.8l3.7 0.8M366.3 157.4l-4.0 -2.2M393.6 137.5l3.2 1.4M402.4 145.2l-0.3 3.8M369.1 156.8l-0.0 3.4M374.0 169.1l3.0 -1.4M375.5 132.7l-2.3 -1.3M369.8 134.2l4.3 2.3M403.2 170.1l4.5 -1.9M402.0 149.3l-4.1 -2.5M422.1 170.3l-2.5 -3.9M423.1 159.6l0.5 -4.9M423.5 149.3l1.5 3.7M374.2 149.0l-2.4 1.8M342.5 159.0l-3.6 2.4M397.1 157.4l-3.0 1.4M422.4 158.6l-2.3 1.0M367.1 128.5l2.7 0.5M376.6 132.5l2.6 -1.5M405.7 143.6l-4.9 -0.8M358.4 160.0l-1.7 3.5M356.7 163.5l-2.9 2.3M340.6 175.9l0.2 5.1" stroke="#44bbee"/>
<path d="M417.9 145.6l-0.3 -3.2M418.2 133.4l-2.6 0.6M383.2 136.3l3.3 -1.8M371.7 169.1l3.4 -1.8M378.8 168.6l3.2 1.9M382.0 170.5l3.0 -1.8M345.7 125.3l0.8 4.8M360.8 136.1l2.3 2.8M387.1 146.6l1.2 -4.4M396.8 138.9l3.5 3.1M400.3 142.0l2.1 3.3M385.7 140.1l-4.4 -2.3M386.6 135.6l3.8 -2.2M409.6 130.7l-3.0 -3.5M424.1 149.2l2.2 -3.0M394.0 143.9l-4.1 2.6M389.9 146.6l-4.8 -0.0M368.5 145.5l-1.0 -2.9M367.5 142.6l3.0 -3.7M338.9 161.3l-3.3 0.9M414.2 157.1l-3.5 -3.4M427.7 152.2l0.6 2.7M372.5 131.3l4.1 1.2M411.7 144.6l-6.0 -1.0M358.9 133.4l-5.8 2.7M349.5 136.2l-6.0 -0.6M414.4 142.8l-2.0 -5.2" stroke="#c8c050"/>
<path d="M393.6 136.8l1.2 -3.3M408.8 130.3l4.3 1.5M403.4 172.8l-3.7 3.2M380.0 126.9l3.3 -1.2M419.7 141.3l-0.1 3.1M361.0 130.0l3.8 -2.2M367.2 126.6l2.5 -1.3M379.1 133.6l4.1 2.7M358.8 131.1l-2.7 -3.4M363.3 151.5l-0.4 -4.9M389.3 149.5l-2.2 -2.9M369.1 160.1l2.7 3.3M371.6 168.2l2.4 0.9M381.3 137.8l-2.2 -3.4M413.0 143.8l-1.4 -3.4M402.5 152.0l-0.6 -2.7M347.6 146.9l0.4 -3.0M350.9 136.7l-1.5 -4.0M419.6 166.4l1.1 -3.3M419.8 141.5l2.6 0.4M426.0 155.7l-0.9 2.7M420.8 163.5l-1.4 3.6M402.6 150.5l-1.3 2.9M396.0 140.7l-4.5 -1.8M343.5 135.6l-5.9 2.2M325.4 135.8l-3.3 2.1M351.9 150.0l5.9 2.1M412.4 137.6l-0.5 -5.0" stroke="#11ccbb"/>
<path d="M368.4 127.5l1.2 3.0M393.2 129.6l3.5 -1.5M362.3 155.2l1.0 -3.7M387.8 182.2l-5.4 3.7M411.6 140.4l-0.6 -3.2M397.9 146.8l-2.7 -3.4M346.8 129.4l-4.5 0.6M401.2 148.1l1.4 2.4M404.4 149.2l0.1 4.6M404.1 164.5l-0.7 4.8M426.4 149.1l1.3 3.2M427.1 158.5l-4.7 0.1M387.1 135.3l-6.3 1.1M380.8 136.4l-6.1 -1.9M322.1 137.9l-3.1 2.7M341.8 155.7l5.2 -2.6M345.9 173.2l-5.3 2.7" stroke="#dd33ff"/>
<path d="M404.8 169.2l-1.4 3.6M369.9 180.5l-1.0 3.8M417.6 142.4l2.7 -2.5M363.1 138.9l-2.1 4.0M384.1 155.3l4.2 -1.4M413.0 147.9l-0.0 -4.2M406.6 127.2l-3.5 -0.8M407.0 160.1l-2.3 -4.3M395.3 143.4l-1.6 -2.6M349.4 132.8l-2.6 -3.3M421.4 151.4l2.7 -2.2M385.1 146.5l-4.7 1.3M350.9 144.5l-1.1 4.1M334.4 159.7l-1.6 -2.1M394.3 146.5l4.0 0.1M394.0 158.7l-2.8 -1.0M391.2 157.7l-3.9 -2.1M427.5 140.0l-1.6 3.0M337.9 127.1l-4.7 -2.8M337.3 156.6l4.5 -0.9" stroke="#88dd33"/>
<path d="M353.7 163.2l-0.6 3.0M351.9 169.8l-0.1 4.2M431.9 139.9l2.0 -2.9M337.0 136.6l-0.4 -3.3M385.7 143.5l-0.1 -4.2M369.7 137.6l-0.3 -3.3M402.7 144.1l-3.9 -2.4M355.1 159.2l3.3 3.1M413.9 175.5l0.1 3.7M410.4 180.7l-3.7 0.6M391.8 149.3l-2.8 -0.3M376.8 138.2l-0.2 4.0M376.6 142.2l0.1 2.7M385.7 170.2l2.4 2.9M438.2 132.7l-0.9 -4.0M354.7 168.7l-2.3 3.5M350.0 182.8l1.4 4.0M381.5 168.0l2.7 -2.3M384.1 158.1l0.8 -2.6M378.9 150.6l2.2 3.1M390.5 133.9l-3.6 0.2M368.1 164.7l0.3 4.1M373.3 172.3l-1.0 -2.9M406.0 138.5l1.5 3.6M409.8 145.1l3.8 2.0M413.6 147.1l5.0 0.4M431.0 152.4l4.4 1.2M494.3 132.8l4.7 -3.7M427.3 171.3l4.8 0.3" stroke="#00ccff"/>
<path d="M354.2 179.7l-1.9 2.8M436.3 146.6l2.4 -2.8M334.0 130.5l-3.4 1.0M385.7 146.1l-0.0 -2.6M372.8 141.8l-4.9 0.8M361.9 135.6l0.9 4.0M343.1 172.0l-4.2 0.4M399.1 166.3l2.3 -3.1M392.7 153.4l3.0 0.2M395.5 148.6l-3.7 0.7M393.3 156.7l-4.1 -2.9M443.0 145.0l0.7 -3.0M384.1 135.0l-3.0 1.9M382.6 158.0l-1.6 4.7M342.9 150.0l5.1 3.5M407.9 132.6l-2.0 6.0M468.0 151.4l4.0 -1.5M286.2 128.5l6.0 -1.8" stroke="#3344ff"/>
<path d="M363.7 137.0l2.1 -1.8M374.9 130.6l1.0 -4.8M435.8 140.7l-1.4 3.6M369.4 134.3l-2.2 -3.7M353.9 152.4l-1.9 3.7M385.8 142.0l-0.4 -2.9M397.3 162.4l-3.4 -2.3M388.0 169.6l2.6 -2.6M392.2 162.9l2.7 1.7M426.2 144.7l3.5 2.5M359.0 169.0l-4.3 -0.3M378.3 142.8l-3.3 1.6M368.0 163.2l-2.6 -0.9M337.7 148.3l5.2 1.7M352.0 174.0l4.2 3.0M275.6 128.6l3.7 3.7" stroke="#ff22cc"/>
<path d="M353.9 159.7l-0.2 3.5M416.7 168.9l-4.4 -1.8M408.7 148.7l3.2 -0.8M420.6 143.1l3.5 -0.6M352.4 135.2l-4.7 1.0M337.2 130.4l-3.1 0.0M330.6 131.4l-4.1 -2.0M382.7 139.0l-2.4 1.4M365.3 140.2l2.5 0.1M400.8 168.5l-0.1 4.1M400.7 172.6l-0.8 2.5M351.7 175.1l-2.6 -0.7M406.5 148.9l0.8 -4.0M365.2 166.4l0.8 3.0M413.5 166.4l0.6 5.0M382.7 167.2l3.0 3.0M407.8 168.9l2.1 -2.7M413.3 164.7l1.7 -3.4M439.9 146.3l3.1 -1.3M386.3 159.2l1.2 4.0M395.0 163.7l3.9 -0.4M398.9 163.3l2.1 1.4M370.5 170.9l-0.7 2.9M365.6 167.4l-1.4 2.2M356.2 177.0l4.0 4.1M407.5 142.1l2.4 3.0M464.5 153.0l3.4 -1.5M499.0 129.1l3.9 1.5M283.1 131.6l3.1 -3.1" stroke="#ff4488"/>
<path d="M351.8 174.0l1.7 3.0M372.8 169.9l2.1 3.6M344.3 136.2l-2.6 2.3M385.6 139.3l-2.9 -0.3M367.9 142.6l-1.9 -2.4M366.0 140.2l-3.4 -3.4M367.8 140.3l3.3 -0.0M413.9 173.8l3.5 -0.6M362.1 170.3l-3.0 2.2M396.9 138.5l4.2 -0.1M359.2 145.7l-3.3 2.6M398.8 154.1l2.4 -0.7M389.0 149.0l-2.4 0.6M324.4 167.2l2.3 -3.7M386.5 155.3l1.3 -3.6M385.5 145.9l0.3 -3.9M376.5 134.2l0.2 4.0M400.5 167.3l3.5 0.6M384.2 165.7l2.6 -2.3M386.8 134.1l-2.7 0.8M377.0 161.5l-2.2 -2.3M391.1 147.6l-3.7 1.4M384.4 151.4l-2.2 2.6M348.0 153.5l1.1 6.1M472.0 149.9l5.8 -2.1" stroke="#e8d840"/>
<path d="M369.5 134.6l2.8 -2.0M412.3 167.1l-4.2 -1.8M427.6 144.3l2.0 2.4M341.7 138.4l-4.6 -1.8M377.3 140.6l-4.5 1.2M410.1 179.6l1.1 -2.8M355.9 148.3l-2.1 4.1M361.4 164.5l3.8 1.9M368.6 169.0l3.8 -1.2M411.8 159.4l1.7 2.9M413.5 162.3l-0.0 4.1M415.0 161.4l0.6 -3.1M432.8 147.7l4.0 -0.2M365.1 163.6l-1.5 3.5M381.2 136.8l-2.2 1.3M379.0 138.1l1.7 2.5M366.7 162.5l1.5 2.3M381.0 162.7l-4.5 1.5M376.5 164.2l-4.2 1.5M377.0 135.4l0.5 3.3M371.3 145.6l-3.1 -1.1M422.7 149.3l4.0 1.0M426.7 150.3l4.3 2.1M459.1 154.0l5.4 -1.0M490.1 133.2l4.2 -0.4" stroke="#22dd55"/>
<path d="M326.5 129.4l-4.5 -1.2M382.6 148.3l3.1 -2.2M362.6 136.8l-3.6 -1.8M367.2 130.6l-2.5 -0.5M411.2 176.8l2.7 -3.0M373.5 171.7l-4.2 -2.3M369.2 169.5l-4.7 -0.2M346.7 172.8l-3.6 -0.9M338.8 172.3l-4.5 0.0M366.0 169.4l2.6 -0.4M390.2 159.2l-0.5 -3.8M326.7 163.4l-2.6 -0.8M385.4 139.1l-2.0 -1.8M385.9 154.6l-1.1 4.4M429.7 147.3l3.1 0.5M436.8 147.5l3.1 -1.2M363.6 167.1l-4.6 1.9M387.5 163.2l3.6 1.4M372.2 169.4l-3.4 -3.5M381.6 130.9l-2.3 1.7M432.1 171.6l3.8 2.9M435.9 174.5l-0.4 5.4" stroke="#9955ff"/>
<path d="M356.6 157.3l-2.7 2.4M416.5 163.1l1.1 2.3M406.3 156.5l1.2 -3.0M411.9 147.9l4.0 0.1M434.0 137.0l1.9 3.7M380.3 140.4l-3.0 0.2M362.8 139.6l2.4 0.6M399.9 175.1l1.5 2.8M402.4 153.7l1.7 -3.0M352.0 156.1l3.1 3.0M345.6 172.3l-1.2 -3.0M335.4 166.7l-3.9 1.0M383.4 137.3l-2.2 -1.4M389.2 153.8l-3.3 0.8M350.3 174.9l-1.4 4.6M386.3 152.4l2.6 -2.7M366.5 176.7l2.2 -4.4M382.2 154.1l0.3 4.0M374.0 143.5l-2.7 2.1M360.4 138.7l-3.0 -1.8M435.4 153.6l4.6 3.3M439.9 156.9l4.2 -1.0M477.7 147.8l4.3 -1.5M484.1 141.2l6.0 -2.5" stroke="#ff3333"/>
<path d="M353.1 166.2l-1.2 3.6M353.5 177.1l0.7 2.7M362.8 131.9l-0.9 3.8M406.1 179.7l4.0 -0.1M359.1 172.4l-3.2 1.5M363.5 144.9l-4.3 0.7M406.8 181.2l-7.7 1.2M328.6 167.4l-4.2 -0.3M385.6 163.8l-2.9 3.4M390.6 167.0l1.7 -4.1M397.2 166.8l3.3 0.4M369.8 167.0l4.4 0.2M374.2 167.2l4.8 0.1M396.4 139.0l-2.7 -3.7M393.7 135.2l-3.2 -1.3M370.9 144.9l-3.2 2.7M360.0 173.7l2.8 2.2M395.2 148.6l-4.1 -1.0M368.2 144.5l-3.3 -2.7M362.6 140.5l-2.2 -1.8M326.4 140.2l5.1 0.3M331.5 140.5l3.8 3.2M335.3 143.7l2.4 4.6M349.1 159.6l0.9 6.3M448.3 155.5l4.6 -0.1M490.0 138.7l0.1 -5.5" stroke="#ff9922"/>
<path d="M356.9 127.6l0.9 3.4M372.4 132.6l2.5 -1.9M370.5 168.0l2.3 1.9M375.3 178.1l-1.4 3.7M356.8 133.5l-4.3 1.6M371.1 140.3l1.1 -2.6M414.0 171.4l-0.1 4.2M389.7 155.4l3.0 -2.0M338.1 167.7l-2.7 -1.0M394.9 164.6l2.3 2.3M443.6 142.0l-0.6 -3.2M352.4 172.2l-2.1 2.7M386.8 163.3l-1.3 -2.4M385.5 160.9l-1.4 -2.9M384.9 155.4l1.4 -3.0M401.0 164.7l0.9 2.6M366.6 159.7l0.0 2.8M368.8 172.3l2.8 -3.8M374.8 159.2l-0.7 -2.7M377.5 138.6l0.0 2.5M350.2 169.6l1.8 4.4M435.5 179.9l-0.5 3.8M271.7 125.4l3.9 3.2M279.3 132.2l3.8 -0.6" stroke="#44bbee"/>
<path d="M357.8 131.0l3.1 2.9M417.6 165.4l-0.9 3.6M372.2 137.7l1.5 -4.5M401.4 177.9l2.3 1.2M403.7 179.1l2.4 0.6M349.1 174.4l-2.5 -1.6M402.6 156.5l-0.2 -2.9M407.3 144.9l-4.5 -0.8M398.9 141.7l-2.0 -3.2M401.2 153.5l1.2 -4.2M402.4 149.3l-3.7 -0.7M341.7 169.1l-3.6 -1.4M404.0 167.9l3.8 1.0M377.5 147.9l3.1 0.6M368.9 166.0l-3.3 1.4M354.4 163.6l2.1 1.5M357.2 169.8l2.8 3.8M387.4 149.0l-3.0 2.4M379.3 132.6l-2.3 2.8M377.6 141.1l-3.5 2.3M364.9 141.7l-2.3 -1.3" stroke="#c8c050"/>
<path d="M424.1 142.6l3.5 1.8M336.7 133.3l0.5 -2.9M356.0 173.9l-4.3 1.2M401.3 163.2l1.7 -2.9M403.0 160.3l-0.4 -3.8M404.2 150.6l2.3 -1.8M331.5 167.8l-2.9 -0.3M324.1 162.7l-3.5 0.9M385.6 149.5l-0.1 -3.6M381.1 135.9l-4.6 -1.8M393.9 160.1l-0.6 -3.4M384.9 159.0l0.7 4.8M409.9 166.2l3.4 -1.5M348.9 179.5l1.1 3.3M379.0 167.3l2.5 0.6M384.4 156.3l1.9 2.8M380.8 140.6l-2.5 2.2M365.4 162.3l-4.3 1.4M322.7 138.3l3.7 1.9M482.0 146.3l2.1 -5.1" stroke="#11ccbb"/>
<path d="M365.8 135.2l3.7 -0.7M408.1 165.3l-3.7 -2.0M432.0 145.9l2.7 -3.9M434.7 142.0l-2.8 -2.1M364.7 130.0l-1.9 1.8M417.4 173.2l4.6 1.2M422.1 174.4l3.1 1.0M358.3 162.2l3.1 2.3M395.7 153.6l3.1 0.5M387.8 151.7l-2.2 -2.2M388.1 173.0l4.4 -1.7M443.0 138.8l-2.9 -3.8M440.1 135.0l-1.9 -2.3M388.9 149.8l1.8 -4.2M368.4 168.8l2.0 2.1M372.8 175.6l0.5 -3.3M356.4 165.1l0.7 4.7M371.6 168.5l3.4 -3.4M350.1 165.9l0.1 3.7M360.2 181.2l0.2 4.3M360.4 185.5l0.2 4.5M418.6 147.5l4.0 1.8M444.1 156.0l4.2 -0.5M453.0 155.4l6.2 -1.4" stroke="#dd33ff"/>
<path d="M360.9 133.9l2.8 3.2M359.6 156.4l-3.0 0.9M404.4 163.4l0.6 -4.3M405.1 159.0l1.3 -2.5M407.5 153.6l1.1 -4.9M429.6 146.8l2.4 -0.9M434.4 144.3l1.9 2.3M375.0 173.5l0.3 4.6M347.7 136.2l-3.5 -0.0M364.6 169.3l-2.5 1.0M414.1 179.2l-3.6 1.5M398.8 148.6l-3.3 -0.0M344.4 169.3l-2.7 -0.2M320.6 163.5l-1.2 2.3M400.4 159.5l-3.0 2.8M437.3 128.7l0.8 -2.6M368.5 161.7l-3.3 1.9M380.7 148.5l-1.8 2.2M381.1 153.7l3.3 2.6M391.1 164.5l4.0 -0.8M375.0 144.3l-4.0 0.6M369.8 173.8l3.0 1.7M362.8 175.9l3.7 0.8M374.9 165.1l2.0 -3.6M372.3 165.7l-4.3 -2.5M316.8 138.2l5.9 0.1" stroke="#88dd33"/>
<path d="M390.1 165.2l3.4 0.9M424.9 131.3l-3.5 3.1M343.9 178.6l-3.2 -1.5M393.7 141.7l3.0 3.2M404.0 149.9l4.2 2.6M406.1 127.8l2.8 -1.6M445.7 161.9l2.5 2.6M346.9 159.0l-2.1 -1.8M398.2 148.8l2.8 -2.4M377.8 129.7l2.6 -0.1M394.9 134.0l-2.0 -1.7M345.6 132.1l-3.0 -2.2M361.3 171.7l1.9 3.8" stroke="#00ccff"/>
<path d="M388.0 158.3l-1.9 1.9M396.9 167.0l2.7 0.4M365.1 175.9l-4.3 -0.2M356.8 176.8l-3.3 2.7M398.8 134.2l4.2 -0.3M385.8 179.7l-1.8 1.8M401.0 158.1l-3.7 -1.6M367.1 131.6l4.1 2.5M374.1 129.4l4.7 -2.7M342.6 129.8l-4.2 -0.6M328.2 131.0l-2.8 3.4" stroke="#3344ff"/>
<path d="M393.5 166.2l3.3 0.9M375.3 166.1l1.4 2.1M334.2 173.4l-3.7 0.8M414.9 151.0l-3.8 -0.3M404.5 135.8l3.5 -0.2M409.9 133.4l0.3 -4.9M414.9 124.8l4.4 2.3M413.1 155.6l1.6 3.7M414.7 159.2l2.8 2.1M390.9 153.3l-1.2 3.0M423.9 160.3l2.4 -1.3M429.3 165.0l2.5 -0.3M409.1 128.5l3.0 1.6M373.9 179.6l2.7 2.5M391.6 177.7l4.8 -0.1M419.9 172.8l4.2 1.7M394.8 142.3l-2.3 2.2M385.1 143.5l-3.9 -0.3M378.2 149.7l-4.5 -0.6M393.2 159.3l-3.6 -1.9M404.1 158.4l-3.1 -0.3M389.0 159.0l-3.8 -0.7M380.3 129.6l2.5 -0.8M382.8 132.4l1.4 4.3M408.4 133.9l0.4 3.1M400.3 140.5l-2.6 2.6M386.5 135.8l0.8 3.0M376.8 142.4l-1.9 -1.9M374.9 140.5l-0.7 -3.7M379.9 135.1l1.9 1.6M380.0 130.0l2.9 0.8M347.8 143.4l-0.5 -4.7M347.4 138.8l-1.5 -4.2M356.5 132.7l-5.0 -0.4M333.2 128.5l-5.0 2.5M363.7 180.6l-1.8 4.7" stroke="#ff22cc"/>
<path d="M376.7 168.3l1.6 2.6M419.5 137.5l-4.8 -0.8M416.6 178.2l-0.6 4.1M359.8 164.4l-3.8 1.0M417.4 161.3l1.3 3.7M391.5 165.0l-3.8 -2.5M368.1 177.9l-1.9 -2.8M385.8 176.1l3.1 1.0M393.5 153.7l-3.3 2.4M371.2 134.1l3.2 -3.0M404.0 133.0l4.4 0.9M408.8 137.0l-4.3 1.3M403.2 160.3l-2.4 2.8M393.0 144.7l1.4 2.9M358.7 141.2l-0.5 -5.1M358.2 136.1l-1.7 -3.4M351.5 132.2l-5.9 -0.1M325.0 153.3l-1.0 3.6M350.4 159.0l4.5 3.6M405.1 175.3l3.7 1.1" stroke="#ff4488"/>
<path d="M387.1 167.2l1.1 -2.6M407.8 142.5l2.0 4.5M396.8 144.9l3.6 2.1M400.4 146.9l3.6 3.0M411.8 126.5l3.2 -1.7M425.0 132.4l2.2 2.7M427.2 135.1l2.1 -1.5M429.3 133.6l2.2 -4.5M412.9 141.7l2.3 4.3M416.0 148.9l-0.9 4.2M418.8 165.0l0.8 4.8M392.3 147.8l1.3 2.9M390.5 160.2l2.9 2.5M426.3 159.0l2.2 1.4M428.5 160.4l0.8 4.6M417.0 172.8l3.0 -0.0M390.7 151.1l3.6 -1.3M385.1 158.2l-3.5 1.5M401.0 133.4l3.0 -0.4M396.3 149.2l1.5 3.2M397.8 152.4l1.2 4.3M374.2 136.9l3.2 -2.4M385.3 132.7l0.9 3.6M327.2 160.7l4.6 0.7M363.2 175.5l0.5 5.1M396.5 155.1l-0.3 3.6M396.1 158.7l2.6 2.5M410.9 179.4l0.1 4.2" stroke="#e8d840"/>
<path d="M389.5 161.0l1.9 -2.8M395.4 156.8l4.4 0.4M411.3 141.0l-0.3 3.0M419.3 127.1l1.6 3.1M387.6 162.5l-2.5 -2.0M434.7 163.1l2.8 -0.8M448.2 164.4l2.8 -1.2M408.2 126.1l1.0 2.4M388.9 177.1l2.7 0.5M396.4 177.5l4.2 -2.6M400.7 174.9l1.9 4.5M409.5 176.6l4.2 -1.6M388.3 152.0l2.4 -0.8M378.2 152.0l-1.5 -4.0M389.7 141.8l3.3 2.9M380.2 150.2l-1.7 -4.5M378.0 152.7l-2.5 -5.3M345.9 134.6l-2.4 -4.1M358.0 154.6l1.9 -3.3M323.8 138.7l2.4 4.2M335.9 159.2l4.3 0.4M402.8 166.0l0.8 4.0" stroke="#22dd55"/>
<path d="M414.7 136.7l-4.4 1.0M409.8 147.0l-1.9 3.9M387.0 139.0l2.8 1.2M389.9 140.2l3.9 1.5M416.2 154.8l-1.3 -3.8M411.9 128.9l1.6 2.1M394.9 144.2l-2.6 3.5M384.9 174.8l0.9 4.9M370.6 146.4l-2.7 -3.1M387.4 155.8l0.9 -3.9M374.4 131.1l3.3 -1.4M397.9 163.0l-1.2 -3.1M396.7 159.9l2.3 -2.6M382.2 128.1l2.4 1.3M384.6 129.5l-1.9 4.2M382.7 133.7l3.8 2.1M387.3 138.8l2.4 3.0M394.3 147.6l2.0 1.7M374.5 159.1l-0.7 -2.9M378.6 145.6l-1.8 -3.2M392.8 132.3l0.3 -2.5M393.1 129.8l-1.6 -4.6M374.6 140.9l-1.3 -5.7M338.4 129.3l-5.2 -0.8M327.0 147.4l-2.0 5.9M354.9 162.6l4.7 2.9M408.8 176.4l2.1 3.0" stroke="#9955ff"/>
<path d="M391.5 155.0l-3.6 3.3M401.9 166.4l3.0 -0.7M399.9 157.2l3.5 2.9M408.3 152.6l1.4 2.4M344.7 158.7l-0.4 3.6M348.6 161.2l1.4 -3.6M349.9 157.7l-3.0 -0.9M346.9 156.8l-1.8 -3.9M345.2 152.9l-1.2 -2.2M405.7 132.7l0.4 -4.9M413.5 137.2l-2.2 3.9M393.4 162.7l-1.9 2.3M355.7 164.4l-1.9 -2.9M367.3 175.1l2.6 -1.3M369.9 173.8l1.7 4.5M389.8 147.1l-2.8 0.9M373.7 149.1l-3.1 -2.7M403.5 142.3l2.3 -3.6M381.6 159.7l-0.7 -3.6M382.8 128.8l-0.0 3.5M397.1 142.2l1.4 -2.8M404.5 138.3l-4.2 2.2M407.4 152.0l-0.8 4.1M406.7 156.1l-0.9 3.7M400.8 163.0l-2.9 0.0M400.1 163.0l-4.2 -1.8M386.2 136.3l4.6 -0.4M398.7 161.2l4.1 4.7" stroke="#ff3333"/>
<path d="M404.9 165.7l2.7 2.4M382.1 171.5l2.3 -1.6M388.2 164.6l1.3 -3.5M406.5 138.6l1.3 3.9M409.6 157.1l2.6 1.6M368.3 174.3l-3.2 1.7M340.8 177.2l-4.4 -2.3M413.5 131.0l-0.6 3.5M412.9 134.5l0.6 2.6M420.9 160.0l3.1 0.2M442.0 162.2l3.7 -0.3M359.2 167.3l-3.5 -2.9M392.5 144.5l-2.7 2.6M397.9 135.6l3.1 -2.2M405.7 159.8l-2.5 0.5M402.8 159.5l-2.7 3.6M382.8 130.8l2.5 1.9M331.8 161.3l4.1 -2.1M359.5 165.5l1.8 6.2M403.7 170.0l1.4 5.4" stroke="#ff9922"/>
<path d="M391.4 158.2l4.0 -1.4M348.2 178.5l-4.3 0.1M336.3 174.9l-2.2 -1.5M413.7 154.9l2.5 -0.0M344.3 162.3l4.2 -1.1M408.0 135.6l1.9 -2.2M421.0 130.2l4.1 2.2M415.1 153.1l-2.0 2.5M393.6 150.7l-2.7 2.6M362.8 169.7l-3.6 -2.4M353.8 161.5l-3.4 -1.0M371.6 178.3l2.3 1.4M376.6 182.1l3.9 3.6M402.6 179.4l3.7 -0.5M413.8 175.0l3.2 -2.1M381.2 143.1l-2.0 3.1M379.2 146.3l-1.1 3.4M396.0 157.9l0.5 3.2M400.9 146.4l2.5 -4.1M380.9 156.2l-2.7 -4.1M399.0 156.7l-3.6 1.1M374.4 152.4l3.1 -3.1M377.4 134.5l2.5 0.6M343.5 130.5l-0.8 -4.2M359.9 151.4l0.1 -3.8" stroke="#44bbee"/>
<path d="M386.9 164.1l3.2 1.2M353.5 179.5l-3.4 0.9M396.6 132.3l2.2 1.9M415.2 146.0l0.8 2.9M421.9 175.5l-2.2 1.8M389.7 156.3l0.8 3.9M383.9 181.5l-1.8 1.8M394.3 149.8l3.9 -1.1M394.1 145.5l3.0 -3.3M398.5 139.4l-0.5 -3.8M395.9 161.2l1.3 -4.4M326.2 142.9l0.8 4.5" stroke="#c8c050"/>
<path d="M392.7 150.4l-1.2 4.6M386.0 160.2l0.8 3.9M384.3 169.9l2.7 -2.7M421.4 134.5l-1.9 3.0M405.6 155.3l4.0 1.8M409.7 155.0l4.0 -0.1M356.1 165.4l-2.6 -1.3M353.4 164.0l-3.4 -0.9M348.9 160.1l-4.2 -1.3M419.6 169.8l0.1 2.8M431.8 164.7l2.9 -1.6M387.0 148.0l-1.9 -4.5M396.4 161.1l-3.3 -1.8M406.2 160.7l-2.1 -2.4M360.8 134.9l3.8 -1.5M399.0 157.3l3.8 2.2M377.5 149.3l2.7 0.8M390.8 135.8l4.0 -1.8M360.0 147.6l-1.3 -6.4M325.4 134.4l-1.6 4.3M345.6 158.2l4.7 0.8M411.0 183.6l0.1 5.5" stroke="#11ccbb"/>
<path d="M399.6 167.5l2.3 -1.1M378.3 170.8l3.8 0.6M410.3 137.8l-3.8 0.8M360.8 175.8l-4.0 1.0M350.0 163.1l-1.2 -3.0M409.0 126.2l3.0 2.8M410.1 128.5l1.6 -2.0M437.6 162.3l4.5 -0.1M412.1 130.1l3.1 -0.9M415.2 129.2l-0.9 -4.1M365.4 171.6l-2.6 -1.9M350.4 160.5l-3.5 -1.5M406.3 178.9l3.2 -2.3M389.6 157.4l-2.3 -1.5M397.4 156.5l-3.8 -2.8M390.2 156.0l-1.3 2.9M364.6 133.3l2.4 -1.8M397.7 143.0l-2.1 2.9M373.9 156.1l0.6 -3.7M373.3 135.2l0.8 -5.8M324.0 156.8l3.2 3.8" stroke="#dd33ff"/>
<path d="M407.9 151.0l-2.4 4.4M350.1 180.3l-1.9 -1.8M403.0 133.9l2.7 -1.2M419.7 172.5l2.3 3.0M385.1 160.5l-2.4 -1.0M382.7 159.5l-2.6 -1.0M407.4 126.3l0.8 -0.1M366.2 175.1l-0.8 -3.5M344.8 157.2l-3.7 0.7M341.1 157.9l-3.4 1.2M367.9 143.3l-1.2 -4.4M363.7 142.4l-2.6 -3.3M361.1 139.1l-0.3 -4.3M375.6 147.3l-0.9 -6.4M340.2 159.6l5.4 -1.4M361.9 185.2l-1.7 4.4" stroke="#88dd33"/>
<path d="M385.0 166.9l1.9 3.8M390.2 172.2l3.2 -0.2M398.7 177.6l1.4 3.7M395.6 168.0l-3.1 0.4M398.3 177.2l3.5 2.6M389.7 136.6l-0.1 -2.8M330.4 158.2l-2.9 -2.4M321.7 156.6l-3.8 -1.1M306.5 148.7l-2.0 -3.9M381.3 178.8l3.4 -1.5M371.2 168.8l-2.0 3.1M356.8 174.5l-2.9 -0.9M385.3 136.5l1.0 -3.4M386.7 178.9l-1.9 3.5M386.8 152.3l1.8 3.2M385.1 165.5l2.6 1.7M396.0 148.8l2.8 1.5M391.0 129.5l2.5 -1.9M352.3 150.1l3.1 1.7M355.4 151.8l3.6 1.9M359.8 159.5l-2.3 5.0M355.0 133.0l3.6 -1.0" stroke="#00ccff"/>
<path d="M385.2 179.9l-2.1 1.4M384.4 170.2l-4.3 0.9M371.2 173.6l-3.3 0.6M401.8 179.8l3.9 2.5M370.8 179.1l3.4 0.7M369.2 171.9l-2.8 0.4M382.7 147.9l2.0 -3.6M421.1 153.1l3.1 -2.5M428.0 147.5l-1.7 -2.8M423.2 142.5l-3.5 -3.0M419.7 139.5l-4.1 1.1M393.5 129.9l4.5 0.7M403.3 153.1l-1.5 -3.6M395.7 136.4l-3.6 -0.1M405.5 150.6l2.8 2.4M379.8 154.3l-1.2 4.2M378.6 158.4l3.5 0.9M378.4 164.1l1.8 4.8M353.9 169.2l-3.2 3.4M373.3 131.3l5.5 0.1" stroke="#3344ff"/>
<path d="M376.1 157.8l-1.8 -2.5M387.4 164.2l-2.4 2.7M317.9 155.5l-2.7 -1.1M374.7 154.0l1.1 -2.7M410.7 176.6l4.5 2.0M389.5 146.1l-3.9 0.5M388.6 155.5l-1.4 4.4M379.3 162.4l2.1 -4.3M373.2 128.2l-2.0 -2.5M398.8 150.2l2.1 2.9M396.0 160.1l2.8 -3.4M416.5 137.3l3.8 1.9M467.8 127.4l6.2 -0.6M347.4 136.3l4.9 -0.8M397.7 144.5l2.3 3.2" stroke="#ff22cc"/>
<path d="M378.5 149.1l2.2 2.0M380.7 151.1l2.3 3.2M393.4 172.0l4.1 -0.1M397.5 171.9l4.6 -1.4M394.9 171.7l3.4 1.7M388.5 142.3l1.0 -2.6M363.5 173.0l-3.1 2.1M348.3 177.3l-2.0 -2.1M383.3 140.4l2.0 -3.9M390.7 167.6l4.1 0.2M418.3 160.3l0.7 -3.8M419.1 156.5l2.0 -3.3M380.4 163.8l1.0 4.2M398.8 156.7l2.0 -3.0M464.9 167.7l3.2 1.5M483.4 176.8l-1.4 -4.3M413.3 148.2l-3.5 2.7M397.0 157.9l2.7 4.0M359.0 153.7l3.9 -0.5M358.6 132.1l5.0 0.3M391.7 137.0l1.6 4.6M400.7 153.9l0.1 4.1M396.2 167.3l-3.8 4.8" stroke="#ff4488"/>
<path d="M308.9 149.7l-2.4 -1.1M363.9 172.1l3.0 2.5M390.8 172.2l-0.6 -4.9M366.4 172.3l-2.9 0.7M360.4 175.0l-3.6 -0.5M368.6 165.9l2.3 -3.4M371.8 155.9l2.2 -2.7M383.2 147.3l0.8 2.4M381.0 164.5l-2.3 1.2M378.8 165.7l0.5 -3.3M396.7 153.3l-0.6 -3.9M403.4 129.2l0.7 -3.9M384.1 167.7l0.7 -2.6M383.2 142.6l1.7 -2.1M373.5 154.6l3.0 -1.9M374.8 156.7l2.1 2.8M406.3 177.4l4.0 4.6M449.2 141.7l3.7 -1.6M335.8 161.6l-2.6 -4.0M340.3 140.1l4.0 -1.9M363.6 132.4l4.2 -1.0M367.8 131.5l5.5 -0.1M378.8 131.5l3.4 1.8M382.2 133.3l4.2 1.1M400.0 147.7l0.6 6.1M400.8 158.0l-1.2 4.1" stroke="#e8d840"/>
<path d="M385.7 177.0l-0.5 2.9M374.3 171.7l-2.6 -3.2M398.4 173.4l0.3 4.2M376.0 173.8l-4.8 -0.2M394.4 171.9l-0.2 4.2M405.7 182.3l2.1 1.4M389.5 139.7l0.2 -3.1M336.1 164.0l-3.3 -1.5M346.3 175.1l-0.3 -2.6M369.0 173.8l-2.3 -2.3M366.7 171.5l-1.7 -2.2M421.7 183.1l4.6 4.2M395.2 163.6l0.1 -2.6M415.6 140.7l-4.5 1.9M386.5 128.3l3.3 1.7M381.4 168.1l2.7 -0.4M401.5 144.5l0.7 -3.3M398.6 137.9l-2.8 -1.5M412.9 152.6l3.5 -0.3M378.3 151.3l1.5 -2.4M460.5 168.3l4.5 -0.6M472.2 168.6l4.2 2.0M413.7 135.1l2.7 2.2M418.5 144.0l-2.2 1.6M416.3 145.6l-3.0 2.6M372.2 157.2l1.3 -2.6M425.5 130.8l2.7 4.4M453.0 140.1l3.0 -2.9M350.7 172.6l-3.0 3.1M347.7 175.7l-5.1 -1.5" stroke="#22dd55"/>
<path d="M374.9 175.8l3.4 -2.7M378.3 173.1l3.3 1.4M376.4 161.6l-0.3 -3.8M383.1 169.4l2.2 1.6M385.4 171.0l4.8 1.2M387.5 165.3l2.7 1.7M390.2 167.0l1.6 2.5M389.0 170.1l-4.6 0.1M380.1 171.1l-4.1 2.8M360.8 177.8l1.7 4.2M386.3 126.5l-3.3 -2.0M315.1 154.5l-1.9 -3.1M367.0 174.6l2.0 1.9M368.9 176.4l1.9 2.7M374.2 179.8l3.5 -0.3M365.0 169.3l3.6 -3.4M375.5 156.4l-0.8 -2.4M374.0 153.2l2.8 -1.8M382.1 143.6l1.2 -3.1M371.2 125.7l-3.9 -1.3M393.7 149.6l2.4 -0.9M401.9 149.5l-0.4 -5.0M401.8 151.3l3.7 -0.7M377.2 154.8l1.1 -3.6M453.0 171.0l2.8 -1.3M476.7 174.9l3.1 3.1M369.3 156.5l2.9 0.6M384.6 160.0l4.5 0.1M372.2 153.4l2.6 3.3M401.3 169.1l2.3 4.4M342.6 174.3l-3.4 -2.9M337.4 166.9l-1.6 -5.2M332.5 151.4l0.2 -5.1M344.4 138.2l3.0 -1.9M389.7 180.9l4.2 2.0" stroke="#9955ff"/>
<path d="M402.1 170.5l3.3 2.7M392.6 168.4l1.8 3.5M385.2 141.5l3.2 0.8M324.4 156.9l-2.7 -0.3M313.2 151.4l-4.3 -1.6M390.2 167.4l-0.0 -4.6M370.0 176.4l-1.1 -2.6M387.1 128.7l3.6 -1.9M387.2 159.9l-3.2 3.4M395.3 161.0l1.2 -4.5M409.7 150.9l-4.9 0.5M367.5 153.1l4.7 0.3M339.2 171.4l-1.8 -4.5" stroke="#ff3333"/>
<path d="M391.9 169.5l3.1 2.2M389.5 133.7l3.3 -3.1M390.0 128.2l-3.7 -1.7M346.0 172.5l-2.3 -3.7M370.8 162.5l2.7 -2.9M360.2 170.4l2.8 -2.3M362.9 168.1l1.7 -3.2M364.6 164.9l3.0 -0.3M381.2 150.0l1.5 -2.0M396.5 156.5l0.2 -3.2M411.1 142.6l-2.7 3.2M380.2 129.9l2.0 -2.4M394.7 164.8l-1.4 3.8M395.0 173.2l-1.0 4.9M408.3 153.0l4.6 -0.4M468.2 169.2l4.0 -0.6M424.2 138.4l0.8 2.9M376.8 159.5l1.6 4.5M335.4 140.4l4.9 -0.2M393.3 141.7l4.4 2.8" stroke="#ff9922"/>
<path d="M381.6 174.5l4.1 2.5M383.0 154.3l1.0 3.4M388.8 175.8l1.9 -3.6M375.8 151.3l-1.3 -3.1M386.3 133.1l0.8 -4.4M371.2 127.4l2.3 2.3M382.3 127.6l4.2 0.7M386.1 162.0l4.0 -1.0M396.5 164.7l-0.6 -4.7M425.0 155.4l3.0 -2.5M388.9 133.0l2.1 -3.4M376.6 152.6l3.2 1.6M389.1 160.0l4.2 0.2M426.0 125.6l-0.5 5.2M433.9 138.0l4.4 1.9M357.6 164.5l-3.7 4.8M386.5 134.3l5.3 2.7M386.2 177.4l3.5 3.4" stroke="#44bbee"/>
<path d="M375.5 152.6l3.0 -3.5M384.0 173.9l-0.9 -4.5M363.3 174.8l-2.4 3.0M332.7 162.6l-2.4 -4.4M351.8 176.0l-3.5 1.2M374.5 148.2l3.0 -1.7M406.4 169.9l2.1 3.1M408.4 173.0l2.2 3.5M415.1 178.6l3.1 1.2M418.2 179.8l3.5 3.2M384.0 149.7l2.7 2.6M387.7 167.2l3.0 0.4M373.6 129.6l3.5 -0.1M389.7 130.1l3.8 -0.2M401.1 131.5l2.4 -2.3M384.8 165.1l1.3 -3.1M394.0 178.1l1.3 3.2M416.4 152.3l4.4 1.3M420.8 153.5l4.2 1.9M384.9 140.4l1.5 -2.8M386.4 137.6l0.5 -2.7M411.3 132.4l2.4 2.7M420.3 139.1l4.0 -0.8M363.0 153.1l4.5 -0.1M400.2 164.4l1.1 4.7M410.3 182.0l3.6 4.1M332.7 146.2l2.7 -5.9" stroke="#c8c050"/>
<path d="M374.1 165.1l2.3 -3.5M374.4 155.2l1.2 -2.7M386.9 170.7l0.2 2.6M401.8 163.3l-3.6 2.9M394.2 176.1l4.0 1.0M353.9 173.6l-2.1 2.4M405.9 166.0l0.5 3.9M384.0 163.3l-3.0 1.2M379.0 166.4l3.2 -1.1M382.2 165.3l2.9 0.2M424.1 150.6l3.9 -3.1M426.3 144.7l-3.1 -2.2M394.1 161.4l0.6 3.4M393.3 168.6l1.7 4.6M402.2 141.2l-3.6 -3.3M392.2 136.3l-3.3 0.6M374.7 156.7l2.5 -1.8M386.9 134.9l2.0 -1.9M451.2 174.0l1.8 -3.0M455.8 169.7l4.7 -1.4M476.4 170.7l0.3 4.3M421.0 143.5l-2.5 0.5M382.1 159.3l2.6 0.6M393.4 160.2l3.6 -2.3M380.2 168.9l2.3 4.6M438.3 139.9l5.5 1.5" stroke="#11ccbb"/>
<path d="M387.1 173.3l-3.1 0.6M367.9 174.2l-4.6 0.6M398.2 166.1l-2.6 1.9M392.9 130.7l-2.9 -2.5M377.8 179.5l3.5 -0.7M373.6 159.6l1.9 -3.2M385.6 146.5l-2.4 0.8M394.8 167.8l0.4 -4.2M390.0 161.0l4.0 0.4M400.8 153.1l2.5 -0.1M400.8 153.7l1.0 -2.4M382.9 146.3l0.3 -3.7M403.6 173.5l2.7 3.9M392.3 172.2l-4.8 1.8" stroke="#dd33ff"/>
<path d="M377.8 175.2l-3.5 -3.5M371.8 168.5l2.3 -3.5M362.5 182.0l2.0 5.1M327.5 155.8l-3.1 1.1M384.7 177.4l4.2 -1.5M367.7 164.6l1.8 -2.5M369.5 162.1l0.5 -3.4M370.0 158.7l1.8 -2.8M376.8 151.3l4.4 -1.4M376.3 167.4l2.7 -1.0M408.4 145.8l-2.6 0.5M377.1 129.5l3.2 0.4M398.0 130.6l3.1 0.9M379.8 148.9l3.1 -2.6M479.8 178.0l3.6 -1.1M425.0 141.3l-4.0 2.2M382.4 173.5l3.7 4.1M386.1 177.6l0.2 4.1M428.2 135.2l5.7 2.8M443.9 141.4l5.4 0.4M456.0 137.1l4.5 -3.9M460.4 133.3l3.3 -3.7M463.7 129.6l4.1 -2.2M333.2 157.6l-0.7 -6.3M352.2 135.5l2.8 -2.5M399.6 162.0l-3.5 5.3M387.6 173.9l-1.4 3.5" stroke="#88dd33"/>
<path d="M359.7 146.8l-3.8 1.2M367.5 167.8l3.3 -2.8M396.1 165.4l-2.1 1.7M369.0 165.4l3.2 1.1M369.0 150.4l3.3 -1.0M372.3 149.4l-1.4 -4.0M356.7 175.8l2.9 0.1M394.3 144.2l2.5 -2.0M378.0 167.7l4.2 -1.3M412.1 170.5l1.6 -3.5M413.8 167.0l-1.7 -3.6M393.2 153.6l4.3 -0.3M399.9 142.5l4.6 -0.2M420.1 140.3l0.9 -4.2M377.0 135.9l2.4 -3.7M362.8 174.4l-4.2 0.9M392.7 153.6l-3.6 2.4M409.6 142.2l1.6 -4.4M309.8 131.7l-3.1 -3.7M393.8 180.2l3.1 3.4" stroke="#00ccff"/>
<path d="M369.2 145.8l-2.9 3.0M355.9 148.0l0.1 3.2M350.8 157.3l-1.8 3.0M378.5 176.1l-3.1 2.3M365.9 151.4l3.1 -1.0M419.2 169.3l3.5 0.3M408.8 182.2l-4.6 3.2M362.4 172.7l1.1 -3.2M369.7 164.8l-1.4 -3.4M392.5 155.8l0.0 -4.1M401.3 174.1l1.9 1.8M385.0 152.6l3.3 1.7M414.0 145.2l3.1 -2.8M321.7 134.1l-3.9 -0.5M317.8 133.6l-3.6 -1.4M307.5 129.6l-1.2 -2.9M383.5 145.5l-3.5 -0.6M446.1 172.5l-3.9 -0.5M355.2 180.2l-2.7 1.5M400.1 153.3l-4.9 -0.5M412.4 134.5l-4.0 1.8M395.0 132.5l2.5 2.3M399.5 138.6l-0.2 4.2M447.1 133.7l-3.1 -3.5M396.0 130.0l-5.6 -2.9" stroke="#3344ff"/>
<path d="M368.8 155.6l-0.4 -4.9M368.4 150.7l-3.5 -1.4M365.0 149.3l-3.3 -3.2M388.1 174.0l3.9 0.3M386.7 164.4l-4.8 -0.2M372.2 166.4l2.8 3.9M370.9 145.4l-1.8 -2.0M369.1 143.4l-1.0 -3.2M417.6 172.0l-3.1 1.2M400.5 140.0l-3.2 0.0M367.3 158.4l-3.3 -1.3M400.9 134.6l-3.4 -2.6M421.0 136.1l2.9 -2.4M423.8 133.7l1.6 -2.0M384.9 132.2l0.6 2.6M327.5 132.5l-2.6 -0.4M384.0 148.6l-0.5 -3.1M380.0 144.8l-4.6 -0.8M439.9 169.0l-0.8 -3.5M439.2 165.5l-0.8 -3.7M362.8 168.2l4.1 1.6M371.1 178.5l1.3 2.1M392.5 163.2l-0.6 -2.9M399.4 160.2l1.2 -2.9M387.9 126.9l1.0 -2.1" stroke="#ff22cc"/>
<path d="M361.4 176.4l4.0 -2.7M414.5 173.3l-2.6 2.2M389.8 139.7l-2.1 1.9M378.7 136.0l-3.0 -2.8M400.9 151.4l3.3 -2.2M375.3 166.8l2.7 0.9M411.9 150.7l0.1 -2.6M306.3 126.7l-4.2 -1.3M442.2 160.5l3.0 2.8M374.1 130.6l1.9 -2.1M391.4 159.6l0.7 3.8M392.0 160.3l-0.8 -4.8M378.6 131.7l-1.9 -2.1M390.4 148.6l-2.0 -1.8M454.7 140.9l-4.5 -3.6" stroke="#ff4488"/>
<path d="M375.4 178.4l-3.7 -0.4M383.0 175.7l3.8 2.1M394.0 167.1l-3.0 -2.2M391.0 164.9l-4.3 -0.5M365.4 136.5l0.1 -4.2M406.0 148.5l-3.1 3.2M407.6 163.9l2.4 4.2M409.4 178.5l-3.2 1.0M400.9 153.6l2.5 -0.6M410.7 146.1l3.2 -1.3M413.9 144.8l4.3 -1.0M373.5 145.3l-0.5 -3.7M373.0 141.6l0.3 -4.6M335.3 133.2l-4.6 -0.7M372.4 180.6l-0.6 3.4M369.4 136.4l3.8 2.1M373.2 138.5l3.4 0.5M388.8 124.7l1.1 3.6M450.2 137.4l-3.2 -3.7" stroke="#e8d840"/>
<path d="M351.4 154.6l-0.7 2.8M349.0 160.3l-2.9 2.8M392.0 174.3l2.7 0.2M372.9 163.0l0.8 2.5M388.2 170.5l-1.0 3.4M364.5 127.5l-0.9 2.7M407.7 144.3l-1.7 4.2M402.9 151.7l-3.5 -1.6M383.4 136.4l-4.7 -0.5M368.3 161.4l-1.0 -3.0M392.4 161.6l-1.2 -2.2M396.8 142.2l1.8 -3.4M394.9 172.2l3.5 -0.2M408.1 171.4l4.0 -0.9M369.6 147.9l1.4 2.1M392.5 158.9l4.5 -1.3M407.0 148.3l3.6 -2.2M411.2 137.8l1.2 -3.3" stroke="#22dd55"/>
<path d="M367.9 176.9l-1.6 -4.5M368.1 140.2l-2.7 -3.6M422.7 169.7l-1.9 3.1M420.8 172.8l-3.2 -0.7M411.4 180.4l-2.6 1.8M366.8 133.2l-2.9 2.1M366.2 167.2l3.4 -2.4M363.9 157.1l-2.3 -2.5M361.6 154.6l-2.9 -2.7M389.2 168.3l-0.0 -5.0M393.4 148.1l0.9 -3.9M409.0 172.9l0.8 2.8M388.3 154.3l4.9 -0.7M403.3 153.0l4.4 -0.5M338.2 133.6l-2.9 -0.4M378.8 157.5l2.2 2.3M441.1 157.7l1.1 2.8M395.1 152.8l-2.4 0.8M389.1 156.0l2.3 3.6M376.7 129.6l-0.3 -3.3M402.7 149.0l4.3 -0.7M412.0 143.1l-1.8 -3.2M410.2 139.9l-5.0 -3.9" stroke="#9955ff"/>
<path d="M363.7 149.8l-1.5 -2.1M356.0 151.2l-2.9 0.8M353.1 152.1l-1.6 2.5M366.3 172.4l1.2 -4.6M370.8 165.0l-0.0 -4.9M405.5 140.3l2.3 4.0M392.7 142.2l-1.4 -2.4M409.1 164.0l2.0 3.2M398.6 138.8l2.3 -4.2M386.0 164.6l3.3 -1.2M404.5 142.3l2.6 2.1M425.5 131.7l2.3 4.0M389.2 140.2l0.5 4.7M398.0 165.0l-2.5 -1.2M401.9 153.4l0.8 -4.4M394.5 147.7l-4.1 0.9" stroke="#ff3333"/>
<path d="M371.7 178.0l-3.8 -1.1M369.9 174.2l3.3 2.5M373.3 176.7l2.8 0.9M376.1 177.6l4.6 0.0M377.3 162.6l-1.5 -2.8M362.4 168.8l2.7 -2.6M365.1 166.3l3.9 -0.9M396.4 136.4l3.2 1.1M403.3 137.7l2.2 2.6M378.3 152.5l2.4 -1.8M392.3 152.9l4.6 -1.4M404.3 149.2l4.5 0.4M358.6 151.9l-2.6 -2.6M389.2 163.3l3.2 -1.8M382.2 166.4l3.8 -1.8M412.0 163.3l-4.4 0.5M406.2 179.5l-0.4 3.5M397.5 153.4l3.4 0.3M379.4 132.1l3.0 -3.5M385.5 134.8l1.5 3.7M311.5 130.9l-4.0 -1.4M371.7 146.3l-2.1 1.6M439.6 154.3l1.5 3.4M376.0 128.5l3.7 -1.6M368.3 172.6l1.6 2.4M392.2 163.4l2.0 1.6M376.3 134.4l2.3 -2.7M397.5 145.3l-3.0 2.4M401.2 135.6l-1.8 -3.1" stroke="#ff9922"/>
<path d="M362.2 147.8l-2.5 -1.0M370.8 160.0l-2.0 -4.4M380.7 177.6l2.3 -1.9M386.8 177.8l1.3 -3.8M375.8 159.9l-2.9 3.1M379.5 166.8l3.1 -3.0M386.2 166.0l2.0 4.5M365.1 129.6l0.3 -4.4M399.6 137.5l3.7 0.2M414.3 170.0l4.8 -0.7M375.6 133.2l-4.6 0.7M396.9 151.5l4.1 -0.1M412.3 149.2l3.5 1.9M392.0 165.1l1.2 4.7M410.1 168.1l-1.1 4.8M412.0 148.0l2.0 -2.9M330.7 132.5l-3.2 -0.0M445.1 163.2l2.3 2.9M369.8 174.9l1.2 3.5M410.5 146.1l-0.9 -3.9M389.9 128.3l1.3 3.5M389.3 176.4l4.4 3.8" stroke="#44bbee"/>
<path d="M360.3 178.7l1.1 -2.4M373.7 165.5l1.3 2.2M365.5 132.4l-0.4 -2.8M411.9 175.5l-0.5 4.9M397.3 140.1l-4.1 -0.6M385.7 139.5l-2.3 -3.1M371.1 133.9l-4.2 -0.6M383.8 152.2l4.2 -1.3M389.3 163.4l2.7 1.6M393.2 169.8l1.7 2.4M382.2 155.5l2.8 -2.9M427.8 135.7l0.8 3.5M382.4 128.7l2.5 3.6M381.0 159.8l3.0 2.1M436.5 150.5l3.1 3.8M447.3 170.0l-1.2 2.5M366.9 169.8l1.3 2.8M400.6 157.3l1.3 -3.9M391.2 131.8l3.8 0.7M444.0 130.1l-2.8 -5.2M416.3 147.8l-4.3 -4.6" stroke="#c8c050"/>
<path d="M359.2 171.5l3.2 -2.6M374.9 170.3l2.2 -1.6M365.4 125.2l-0.8 2.3M399.4 150.1l-2.7 -4.0M396.7 146.1l-1.0 -3.1M387.7 141.7l-2.0 -2.1M388.0 150.9l4.3 2.0M359.6 175.9l2.8 -3.2M407.0 144.4l3.6 1.7M373.4 137.0l3.6 -1.1M387.0 138.6l2.1 1.6M324.9 132.0l-3.2 2.1M314.2 132.2l-2.7 -1.3M372.5 153.0l2.4 3.6M374.9 156.6l3.9 0.9M376.6 139.0l-0.3 -4.6M456.6 144.1l-1.9 -3.2" stroke="#11ccbb"/>
<path d="M394.2 162.9l1.9 2.5M381.9 164.2l-4.6 -1.6M382.6 163.8l3.6 2.2M411.0 167.2l3.3 2.8M408.8 149.6l3.6 -0.4M415.9 151.1l3.2 0.5M363.5 169.5l2.7 -2.3M392.5 151.7l0.9 -3.6M398.4 172.0l2.9 2.1M404.1 170.4l4.1 1.0M409.7 175.7l-0.3 2.8M405.8 182.9l-0.9 6.8M418.1 143.8l1.9 -3.5M373.6 149.1l-0.0 -3.8M375.4 144.0l-3.7 2.3M371.0 150.0l1.5 3.0M442.1 172.1l-2.2 -3.0M379.7 127.0l2.1 -1.4M358.6 175.3l-2.0 1.6M356.6 177.0l-1.4 3.2M395.5 163.9l-3.0 -0.7M396.9 157.6l2.5 2.6M397.5 134.8l2.0 3.7M459.1 149.0l-2.6 -4.9M399.3 132.5l-3.4 -2.4" stroke="#dd33ff"/>
<path d="M366.3 148.9l-2.6 1.0M365.4 173.6l4.5 0.6M375.0 167.7l-0.5 4.9M377.2 168.7l2.4 -1.9M395.7 143.0l-3.0 -0.9M393.2 139.4l-3.4 0.3M380.7 150.8l3.1 1.5M391.2 159.3l1.4 -3.5M403.2 175.8l3.2 0.8M407.7 152.6l4.2 -1.9M447.4 166.1l-0.1 3.9M359.9 169.2l2.9 -1.0M394.1 165.0l3.8 0.1M399.4 142.8l-1.9 2.5M405.2 136.0l-4.1 -0.4" stroke="#88dd33"/>
<path d="M394.6 173.8l1.3 -2.9M400.4 171.6l0.3 -4.6M415.6 166.9l-0.2 3.4M391.5 146.7l-1.1 -4.7M365.3 167.6l-2.1 -2.8M372.7 125.4l-1.9 1.7M367.1 130.4l-3.3 0.1M347.4 133.5l-2.1 3.6M337.0 162.3l0.5 4.2M374.8 165.7l1.3 -3.6M371.4 140.1l0.3 -3.7M367.5 131.9l-4.0 0.8M370.0 168.9l-2.3 4.4M373.7 174.9l-1.3 -3.6M356.5 160.7l-3.2 -1.9M400.2 161.4l2.7 3.2M402.9 164.6l4.0 2.6M363.3 138.7l3.0 2.8M396.6 153.6l-4.2 -1.1M479.9 152.2l3.6 1.8M412.1 148.4l3.2 -4.2" stroke="#00ccff"/>
<path d="M334.6 159.5l0.5 4.5M356.0 156.0l3.1 1.9M371.2 177.3l3.5 1.5M402.9 147.2l-3.2 -0.1M390.6 162.1l-3.9 -0.1M404.4 154.4l-0.0 -4.5M370.6 126.8l0.1 3.7M345.4 127.4l-3.5 -0.3M397.1 159.9l3.7 -0.3M401.5 151.9l-2.7 -0.3M394.1 151.5l-3.2 2.0M408.8 172.4l2.4 2.3M411.2 174.7l2.6 1.4M360.9 158.6l3.7 1.0M483.5 154.0l4.3 -0.3" stroke="#3344ff"/>
<path d="M332.5 161.3l2.0 -1.8M396.4 183.6l0.6 2.3M398.6 154.0l-2.5 1.3M376.5 176.6l-4.0 0.7M352.7 153.0l-4.8 -0.2M351.9 128.6l-3.0 -1.6M369.8 175.0l4.3 -0.6M387.4 161.1l2.7 -2.9M390.1 158.2l3.6 0.8M342.4 130.3l-3.3 1.3M335.6 150.8l-2.4 2.0M319.5 146.0l0.4 -3.3M408.7 169.7l0.1 2.7M424.5 175.2l4.0 0.2M391.9 162.8l4.1 -0.7M486.6 143.6l-6.3 -0.0M477.4 148.7l2.6 3.5" stroke="#ff22cc"/>
<path d="M411.5 161.0l0.7 -3.7M411.9 164.4l3.7 2.5M421.2 174.2l3.5 0.8M394.6 175.5l0.7 3.7M362.8 167.2l1.3 2.7M391.0 138.8l4.6 -0.6M373.9 176.6l-2.2 -3.5M379.6 126.2l-3.0 0.2M379.7 172.5l-0.1 3.4M389.5 167.6l0.9 3.2M378.3 158.5l-0.2 -4.8M349.0 127.1l-3.6 0.3M366.6 153.1l1.2 -2.4M374.7 147.3l4.8 -0.8M378.1 131.0l-3.4 -2.9M374.1 174.4l2.6 -2.0M350.7 140.1l-1.9 -4.1M366.3 141.5l0.6 3.8M392.4 152.4l-1.8 -4.1M494.9 139.7l-3.4 2.0M416.8 135.8l0.5 -4.4M417.3 131.3l4.5 -4.6" stroke="#ff4488"/>
<path d="M405.1 152.7l2.2 -3.1M396.0 155.4l-0.9 3.6M376.6 126.4l-3.9 -1.0M372.5 177.3l-2.7 -4.1M399.5 159.6l1.9 -1.9M344.5 156.1l-4.2 0.8M378.1 153.7l-4.9 -0.0M371.9 144.8l-0.5 -4.7M371.7 148.2l3.0 -1.0M372.2 166.7l-2.2 2.2M390.9 153.5l0.0 2.9M324.5 153.7l0.4 -2.5M407.0 167.2l1.8 2.4M363.5 134.6l-0.2 4.1M366.9 145.3l-2.5 2.1M358.3 132.1l4.7 -4.0M415.8 140.6l1.0 -4.8" stroke="#e8d840"/>
<path d="M350.9 157.1l-1.8 -2.2M407.2 161.4l4.3 -0.4M409.0 155.2l-2.9 -0.4M403.0 168.9l-2.6 4.2M361.4 164.6l1.3 2.6M395.1 159.0l-1.7 3.0M388.8 136.7l2.4 3.1M395.9 140.9l2.0 -1.8M363.3 164.7l-2.2 -3.5M382.8 165.5l-1.7 2.1M370.7 130.6l-3.2 1.3M363.6 132.6l-4.7 -0.6M358.9 132.0l-3.9 -2.3M367.8 150.7l3.9 -2.5M382.2 142.6l-3.1 -3.4M379.1 139.2l-0.6 -3.7M376.7 172.4l2.6 -1.9M379.4 170.5l4.2 -0.7M372.5 171.4l-2.3 -3.5M366.2 166.0l-2.5 -0.3M346.6 160.1l0.6 -3.2M347.3 156.9l2.2 -1.6M331.4 128.8l-2.7 -2.0M333.2 152.8l-1.6 2.9M319.9 142.7l0.1 -2.5M421.2 174.8l3.3 0.3M361.2 152.7l1.5 3.3M399.9 164.3l4.2 2.0M407.9 162.6l-3.3 -1.4" stroke="#22dd55"/>
<path d="M394.1 176.8l0.5 -2.9M400.1 151.3l-1.5 2.8M395.6 138.1l-1.5 -3.9M391.3 139.7l4.7 1.1M367.7 169.9l-2.4 -2.3M370.8 127.2l-3.7 3.3M389.9 172.4l-0.4 -4.8M395.5 167.7l1.0 -4.5M396.5 163.2l3.0 -3.6M404.4 149.9l2.0 -2.6M339.3 160.6l-2.3 1.8M397.5 163.7l0.0 4.3M397.5 174.3l1.1 4.2M378.5 135.5l-0.3 -4.5M407.3 167.0l0.7 -4.4M355.8 136.6l2.5 -4.5" stroke="#9955ff"/>
<path d="M351.0 159.7l-0.1 -2.6M346.0 154.8l-4.5 0.6M341.5 155.4l-4.4 1.4M396.7 179.7l-2.5 -3.0M404.5 163.9l2.8 -2.5M400.4 173.1l-2.7 0.8M359.9 161.2l1.5 3.4M377.9 177.3l0.2 -3.0M393.5 161.9l-4.5 -0.7M356.6 160.4l-2.5 -0.7M358.2 135.1l-4.1 2.7M354.0 137.8l-3.6 -2.7M390.4 170.8l2.8 0.8M339.9 171.4l2.5 1.0M342.5 172.4l1.5 4.2M371.7 136.4l2.6 0.3M398.5 153.2l0.9 2.9M396.1 171.5l1.4 2.8M374.7 128.2l-3.3 -1.9M363.7 165.8l-3.2 -2.7M353.3 158.8l-2.9 3.3M331.6 155.7l-2.2 1.2M364.4 147.4l-3.7 1.4M362.7 156.0l-1.8 2.6M345.9 138.0l2.4 3.0" stroke="#ff3333"/>
<path d="M337.1 156.9l-3.9 -1.0M400.6 167.0l3.8 -3.1M412.2 157.3l-3.3 -2.1M397.7 173.9l-3.1 1.6M365.7 172.3l1.8 4.2M367.5 176.5l3.7 0.8M374.7 178.8l3.1 -1.5M379.8 180.5l-3.2 -2.4M361.0 161.3l-4.4 -0.8M360.0 133.0l-1.9 2.1M386.8 162.0l-0.2 3.7M376.1 162.1l2.2 -3.6M341.9 127.1l-2.1 -1.5M400.4 160.4l-2.9 3.2M398.7 178.5l-1.8 4.1M398.8 151.6l-4.7 -0.1M345.5 133.2l-3.1 -2.9M480.3 143.6l-2.9 5.1M487.8 153.7l4.8 0.2M391.2 160.6l2.7 2.8M393.9 163.4l4.4 0.8" stroke="#ff9922"/>
<path d="M333.3 155.9l-3.1 1.8M330.2 157.7l2.3 3.6M395.9 170.9l4.5 0.7M403.5 164.1l-0.5 4.7M379.6 175.9l-3.2 0.7M373.2 153.7l-3.1 -2.4M371.9 147.4l-0.0 -2.6M355.0 129.7l-3.0 -1.1M383.1 163.5l-4.0 2.0M376.5 166.3l-4.3 0.3M402.5 154.9l-1.0 -3.1M392.7 130.5l1.0 -4.3M339.1 131.6l-4.6 0.2M321.9 148.1l-2.4 -2.1M428.5 175.3l2.8 0.3M364.6 159.6l1.6 2.5M404.6 161.8l1.4 -4.7M415.3 144.2l0.5 -3.6" stroke="#44bbee"/>
<path d="M419.2 172.7l2.1 1.6M425.9 177.5l4.2 1.8M395.3 179.2l1.1 4.4M359.2 157.9l0.7 3.3M403.5 154.8l1.6 -2.1M407.3 149.5l-0.6 -2.9M394.1 134.2l-2.0 -3.6M354.1 159.7l0.0 3.4M363.8 130.5l-3.8 2.5M350.4 135.0l-3.0 -1.5M338.2 169.0l1.8 2.4M399.4 156.1l1.0 4.3M396.9 182.6l-0.9 2.1M367.7 173.3l2.1 1.7M379.4 180.1l-1.1 3.8M370.1 167.9l-3.9 -1.9M320.0 140.2l-0.3 -3.1M413.8 176.1l3.5 0.3M417.2 176.4l3.9 -1.6M404.0 166.3l3.2 0.7M348.3 141.0l4.5 -1.4" stroke="#c8c050"/>
<path d="M349.2 154.8l-3.2 -0.0M415.4 170.3l3.8 2.3M430.1 179.3l0.3 3.2M381.1 167.6l-3.1 2.3M393.2 171.7l2.3 -3.9M347.8 152.8l-3.4 3.3M374.3 136.8l-0.5 3.9M400.9 159.6l1.6 -4.6M350.4 162.1l-3.7 -2.0M334.5 131.8l-3.0 -3.1M324.9 151.1l-2.9 -3.0M366.1 162.0l3.2 0.4M404.6 161.2l-2.3 -2.9M383.6 154.0l5.2 1.0M388.8 155.0l2.4 5.6M409.8 152.1l2.2 -3.6" stroke="#11ccbb"/>
<path d="M350.3 163.8l0.6 -4.1M364.1 169.9l1.6 2.4M393.3 148.6l-1.8 -1.8M390.4 142.1l0.6 -3.3M376.6 178.0l-2.7 -1.4M368.8 172.7l-1.1 -2.9M393.1 163.1l-2.4 -1.0M401.5 157.7l3.0 -3.3M340.3 156.9l-0.9 3.6M337.5 166.5l0.6 2.5M397.6 168.0l-1.5 3.5M379.5 146.4l2.7 -3.9M385.3 160.7l-2.1 2.8M393.8 159.0l3.4 0.9M390.9 156.4l-1.6 2.8M329.4 156.8l-4.7 -0.3M324.7 156.5l-0.2 -2.8M360.7 148.8l0.5 3.9M492.6 153.8l4.6 0.8M497.2 154.6l6.5 -0.5M358.5 133.0l2.2 -5.3M352.9 139.6l2.9 -3.0M401.9 164.7l2.6 -3.0" stroke="#dd33ff"/>
<path d="M424.7 175.0l1.2 2.5M406.6 146.6l-3.7 0.6M399.7 147.1l0.4 4.2M392.0 130.7l-4.1 2.6M387.9 133.2l0.9 3.4M371.7 173.1l-2.9 -0.4M386.6 165.6l-3.8 -0.1M378.0 169.9l1.7 2.6M390.6 177.2l-0.8 -4.8M344.0 176.6l-1.0 3.4M370.1 151.3l1.8 -3.9M379.1 165.5l-2.6 0.8M360.5 163.1l-4.0 -2.3M348.9 136.0l-3.3 -2.8M395.9 162.0l3.9 2.2M402.3 158.3l-3.0 -3.6M399.3 154.7l-2.8 -1.1M491.5 141.7l-4.9 2.0M360.6 127.7l3.4 -3.0M398.2 164.2l3.7 0.5M406.0 157.1l3.9 -5.0" stroke="#88dd33"/>
<path d="M378.9 162.5l0.7 -4.3M357.5 139.9l-2.9 2.1M354.6 142.0l-0.1 3.1M358.1 147.3l2.0 2.2M406.2 150.0l-4.7 -1.5M403.8 159.3l-1.7 4.5M377.1 139.0l1.6 -3.4M372.3 132.0l-2.7 -1.0M435.3 143.8l3.1 3.6M387.3 149.5l-0.9 -2.4M370.2 162.6l-2.0 -2.1M374.2 134.8l-4.2 -0.3M371.2 167.1l3.0 -0.0M404.6 156.6l2.9 2.6M407.5 159.2l3.2 0.7M369.4 129.3l-6.1 -2.1M318.7 132.0l-4.5 1.4M291.6 128.8l-3.7 2.4M269.4 145.9l-5.7 -0.3M356.0 172.5l1.8 5.9M373.6 178.1l4.8 2.6" stroke="#00ccff"/>
<path d="M383.1 172.5l0.2 -4.3M379.5 153.2l1.6 -3.8M384.6 152.6l0.7 3.3M393.8 130.2l3.4 0.0M367.4 128.5l-3.5 -0.8M360.1 149.5l1.6 3.2M431.7 167.9l2.6 -2.0M365.7 130.8l-3.6 0.7M362.1 136.9l-4.2 0.5M350.3 130.8l2.8 -3.1M444.3 155.0l-0.8 3.5M386.4 147.2l-1.0 -2.4M395.2 128.5l-3.3 -2.4M370.3 164.8l-2.6 -0.6M367.7 164.2l-1.7 -2.7M366.0 161.5l-1.5 -2.2M332.7 158.3l4.7 0.6M366.3 171.7l-4.1 1.1M356.3 137.5l-4.2 -1.8M352.1 135.7l-1.0 -2.4M367.6 156.6l-1.7 2.0M370.3 133.2l-1.0 2.6M416.2 161.9l3.0 -2.6M374.1 132.1l-4.7 -2.8M349.1 132.1l-3.5 -1.8M378.4 180.8l4.8 1.5" stroke="#3344ff"/>
<path d="M389.5 164.4l-0.8 -3.7M385.2 155.3l-2.9 -2.7M379.0 150.9l-2.7 3.9M401.5 148.5l-3.0 -2.1M424.0 168.3l3.1 -1.8M437.0 174.0l0.5 4.0M403.1 154.8l0.6 4.5M380.6 173.4l1.1 3.5M369.6 131.0l-3.9 -0.2M442.4 148.3l2.7 3.2M355.8 148.5l-3.5 -0.2M382.2 168.0l-4.9 -0.4M373.3 166.1l-3.0 -1.3M337.4 158.9l1.4 4.3M402.6 144.8l2.2 2.8M412.1 158.4l0.2 4.0M412.3 162.3l3.1 3.3M376.4 131.9l3.5 -1.4M368.7 170.4l-2.4 1.3M373.0 148.3l-1.7 2.5M408.3 143.8l-3.7 1.3M410.7 159.8l1.9 2.0M364.4 166.4l-3.6 -1.3M357.8 161.4l-1.1 -4.7M337.3 151.2l-3.4 -2.2M387.2 133.5l-3.4 -2.3M359.5 147.7l0.3 5.0M360.8 184.1l2.1 4.1" stroke="#ff22cc"/>
<path d="M370.4 128.9l-3.1 -0.4M414.6 169.3l2.5 -0.6M349.4 175.0l-1.1 -2.6M405.2 152.6l-2.1 2.2M407.1 166.7l1.6 2.3M408.6 169.1l3.5 1.5M384.0 179.5l2.6 -0.7M396.5 164.0l-0.2 -2.5M388.0 137.8l1.3 -4.1M329.2 157.4l3.5 0.9M373.0 129.6l3.4 2.3M362.2 172.8l-0.7 2.5M360.7 135.6l-1.3 2.8M363.1 139.1l1.4 -4.1M364.4 135.0l1.4 -4.2M344.5 152.6l-4.2 -2.1" stroke="#ff4488"/>
<path d="M397.9 163.2l-2.5 -0.7M387.1 158.8l-2.4 2.2M400.9 129.7l3.7 -3.1M360.8 131.7l-1.1 4.7M398.5 146.4l-4.5 0.0M434.3 165.9l2.5 2.1M353.5 176.0l-4.2 -0.9M403.5 166.2l3.6 0.6M431.6 132.9l0.3 4.2M432.6 141.0l2.7 2.8M385.4 144.8l2.9 -2.1M389.2 133.8l2.4 -0.9M391.6 132.9l3.3 -1.4M349.5 144.3l-2.0 -3.3M327.6 149.3l-0.4 2.9M411.5 142.6l-4.4 -0.7M409.4 149.6l2.5 1.7M411.9 154.1l0.2 4.2M400.8 169.5l3.6 2.2M359.5 138.4l-3.2 -0.9M365.8 130.8l4.0 0.7M403.8 153.7l0.8 2.8M356.8 156.7l-4.2 -1.3M352.6 155.4l-3.8 -1.6M329.6 146.7l-2.9 0.2M378.4 132.2l-4.3 -0.1" stroke="#e8d840"/>
<path d="M395.4 162.5l-3.4 0.6M389.8 168.0l-0.3 -3.5M413.0 161.7l-0.8 -3.1M394.0 146.4l-2.3 -2.2M391.6 144.2l0.8 -4.2M421.5 168.1l2.6 0.2M379.4 130.2l-3.9 -1.6M378.5 132.8l-2.6 1.3M351.3 135.6l-1.0 -4.8M357.0 126.2l2.5 -0.3M359.5 125.8l3.5 -1.5M368.2 160.5l1.0 -4.6M377.3 167.5l-4.0 -1.5M379.9 130.5l2.9 -0.6M412.5 164.5l3.7 -2.7M322.7 132.1l-3.9 -0.1M310.3 136.2l-3.3 2.5M294.6 125.4l-2.9 3.4M258.3 145.6l-2.7 -2.4M357.9 178.4l2.9 5.8" stroke="#22dd55"/>
<path d="M382.3 152.6l-3.3 -1.7M431.8 148.5l-4.7 -0.1M425.7 154.6l-0.1 4.9M413.5 165.4l-0.5 -3.7M380.6 166.1l-1.7 -3.5M397.2 130.2l3.6 -0.5M392.5 140.0l1.0 -4.6M393.7 131.3l1.5 -2.3M436.8 168.0l1.4 2.9M409.5 151.4l-4.3 1.3M412.2 170.5l0.9 2.8M353.0 127.7l4.0 -1.5M438.4 147.4l4.0 0.9M345.5 137.7l-3.9 -2.6M407.2 141.9l-3.6 -2.0M402.8 161.8l-4.0 -1.7M376.2 136.5l-2.0 -1.7M370.0 134.5l-1.3 -3.2M366.0 146.0l4.8 0.8M348.8 153.8l-4.3 -1.2M389.8 136.8l-2.7 -3.4M358.0 128.6l-4.1 1.6M341.0 131.2l-4.2 0.7M298.4 125.2l-3.8 0.2M255.6 143.1l-2.4 -2.2" stroke="#9955ff"/>
<path d="M416.4 165.3l-2.9 0.1M409.7 150.5l-3.5 -0.5M413.0 173.3l-3.5 3.1M362.1 131.5l-2.3 -1.1M367.2 141.7l-1.5 -2.8M431.8 137.1l0.7 3.9M352.3 148.3l-2.8 -4.1M364.5 159.3l-3.6 -2.3M340.3 142.7l-3.7 -0.5M329.7 146.2l-2.1 3.1M325.8 156.9l3.4 0.5M403.6 139.9l-1.0 4.9M404.9 147.6l4.6 2.0M411.9 151.3l-0.0 2.8M382.8 129.9l3.6 -2.9M388.3 172.6l3.7 0.4M392.0 173.0l2.8 0.4M394.8 173.4l2.7 -0.4M367.3 161.4l2.2 2.9M369.3 135.8l-2.6 2.0M419.3 159.3l3.4 3.6M383.8 131.2l-5.3 1.1M314.2 133.4l-4.0 2.8M279.6 139.0l-4.4 4.2" stroke="#ff3333"/>
<path d="M392.0 163.0l0.7 3.5M381.1 149.4l3.5 3.2M384.7 160.9l-0.9 3.0M389.5 130.1l4.3 0.0M354.5 145.1l3.7 2.2M361.7 152.7l2.1 2.6M355.6 166.9l3.4 2.4M348.3 172.4l-0.6 -3.1M386.7 178.8l3.5 1.1M395.1 179.2l3.5 -0.8M399.5 170.9l-1.7 -3.3M378.6 135.7l-0.1 -2.9M359.9 130.5l-2.4 -2.0M445.1 151.5l-0.9 3.5M369.2 155.9l-3.1 -3.3M362.3 152.3l-2.7 -3.7M338.8 163.2l-0.0 4.6M386.4 127.0l4.1 0.5M403.0 165.1l-0.2 -3.4M369.5 164.2l1.7 2.9M404.6 145.1l-0.2 4.4M360.8 165.0l-2.9 -3.7M336.9 131.9l-5.9 2.4M301.5 127.1l-3.2 -1.9" stroke="#ff9922"/>
<path d="M427.1 148.5l-1.1 2.6M379.6 158.2l-0.0 -5.0M438.2 170.9l-1.3 3.0M359.0 169.3l0.3 3.6M363.0 124.3l2.3 2.4M394.9 131.5l0.3 -3.0M359.6 148.5l-3.8 -0.0M336.6 142.2l-3.4 1.2M333.2 143.4l-3.5 2.8M327.2 152.3l-1.4 4.6M359.7 179.3l-2.3 2.8M385.0 172.9l3.3 -0.3M367.8 127.6l-3.1 1.6M364.7 129.2l-1.7 2.4M412.5 161.9l-0.1 2.7M303.1 131.5l-1.6 -4.4M359.8 152.7l-1.9 3.5M357.5 162.1l0.1 4.1" stroke="#44bbee"/>
<path d="M419.8 163.4l-3.4 1.9M415.2 148.9l-2.9 1.0M412.3 149.9l-2.5 0.6M347.7 169.3l1.0 -2.9M351.7 164.5l4.5 1.1M390.2 179.9l4.9 -0.6M398.5 178.5l2.8 -3.4M387.7 160.0l-2.6 1.7M385.0 161.7l-1.4 2.2M383.6 163.9l-1.4 4.1M361.5 175.3l-1.8 4.0M368.7 131.3l-0.9 -3.7M363.0 131.6l-2.3 4.0M371.3 150.8l-0.8 3.2M380.9 128.7l-2.9 0.5M373.9 130.6l-3.6 2.6M366.7 137.8l-3.6 1.3M369.8 131.5l-1.4 2.5M404.5 149.5l-0.7 4.2M333.9 149.0l-4.3 -2.3M331.0 134.4l-3.9 0.2M307.0 138.7l-3.7 -3.2M303.2 135.5l-0.1 -4.0M263.7 145.6l-5.4 -0.0" stroke="#c8c050"/>
<path d="M388.7 160.7l-2.7 -2.5M425.9 151.0l-0.3 3.6M425.5 159.6l-3.4 1.3M385.3 155.9l1.8 2.9M363.8 127.7l-3.0 3.9M427.1 166.5l4.5 1.4M352.7 164.7l2.9 2.2M375.4 128.7l-1.9 -2.6M397.8 167.6l-1.3 -3.6M376.9 142.0l0.2 -2.9M375.9 134.1l-3.6 -2.1M357.9 137.4l-3.9 -0.1M354.0 137.3l-2.7 -1.7M423.2 126.6l1.9 3.5M360.9 157.0l-3.8 -1.3M415.3 165.6l1.2 2.2M397.5 173.0l3.3 -3.5M404.4 171.7l4.0 -1.3M370.5 154.0l-2.9 2.6M378.0 129.2l-4.1 1.4M340.3 150.5l-3.0 0.7M392.8 140.6l-3.0 -3.7M363.3 127.2l-5.3 1.4M353.9 130.2l-4.9 1.9M275.1 143.2l-5.7 2.7M357.5 166.2l-1.5 6.3" stroke="#11ccbb"/>
<path d="M392.7 166.6l-2.9 1.4M386.1 158.2l-0.9 -3.0M422.1 160.9l-2.3 2.5M412.2 158.6l-3.7 -1.4M359.7 136.4l-2.2 3.5M359.3 172.9l-2.1 2.3M348.7 166.4l3.0 -1.9M413.0 149.3l-3.5 2.1M401.3 175.0l-1.8 -4.1M357.5 128.5l0.1 -3.6M428.0 131.0l3.6 1.9M388.3 142.6l-0.3 -4.8M347.5 141.0l-2.0 -3.3M406.6 168.3l-3.5 -3.2M327.1 134.6l-4.4 -2.5M287.9 131.2l-3.9 4.7M357.9 156.2l-0.4 5.9" stroke="#dd33ff"/>
<path d="M383.4 168.2l-2.8 -2.1M393.4 135.4l0.3 -4.1M417.1 168.7l4.3 -0.6M437.4 178.0l-3.5 -0.2M357.2 175.2l-3.7 0.8M402.1 163.8l1.4 2.4M381.6 176.9l2.4 2.5M365.7 139.0l-3.5 -2.0M425.1 130.1l2.8 0.9M366.2 152.6l-3.9 -0.4M408.4 170.4l-1.8 -2.1M370.8 146.7l2.2 1.6M365.9 158.7l1.4 2.7M374.1 167.1l2.8 -2.2M368.4 134.0l-3.2 -1.5M345.6 130.3l-4.6 0.9M284.1 135.8l-4.5 3.2M361.8 145.0l-2.3 2.8" stroke="#88dd33"/>
<path d="M391.8 143.5l-0.8 -4.5M379.4 134.8l-4.6 -0.4M407.8 132.4l-0.1 -4.9M396.6 140.7l3.0 -0.3M413.8 144.9l3.3 -2.7M348.5 170.7l-3.8 -2.2M342.2 165.2l-3.5 -1.3M338.7 163.9l-3.6 2.0M416.2 174.0l-0.3 4.5M418.2 147.9l-2.6 -0.1M362.0 158.2l-1.9 -2.6M366.4 146.9l-1.7 4.5M370.0 164.9l-4.0 1.1M455.4 152.5l2.8 -5.3M381.3 157.3l0.6 4.7M410.4 147.9l2.1 -4.5M407.3 138.0l-4.0 0.3M394.3 141.4l-4.6 2.0M306.2 132.0l-2.5 2.6M284.2 143.9l-4.0 3.2" stroke="#00ccff"/>
<path d="M403.9 133.5l-1.0 -4.6M398.0 180.6l-3.4 1.2M345.8 139.8l-0.6 4.7M343.6 150.6l-3.2 2.7M413.5 146.3l-3.6 -2.2M370.9 140.1l3.3 -0.2M350.1 151.5l-3.1 1.0M370.4 141.8l-4.4 0.4M373.2 135.7l-4.8 0.9M377.2 140.2l3.1 1.4M382.2 144.1l2.3 -1.1M371.3 176.8l-2.7 3.0M445.4 164.4l3.2 -2.8M412.5 139.6l-5.2 -1.6M387.5 146.5l-4.7 3.3M339.5 128.7l-5.1 -3.7M279.3 127.1l4.8 3.1M310.7 165.2l3.9 2.4" stroke="#3344ff"/>
<path d="M411.1 145.2l2.7 -0.2M361.9 146.9l-3.2 -1.4M353.7 135.7l1.5 -3.7M398.7 133.2l-2.5 -3.5M388.2 129.8l-2.3 1.5M382.3 143.8l2.2 3.4M396.1 155.7l1.0 2.5M377.6 166.0l1.9 -2.8M384.9 155.0l2.9 -2.2M367.2 142.9l3.7 -2.8M370.3 143.2l-2.7 -1.6M395.5 179.3l1.8 3.2M379.6 146.5l-2.5 0.7M366.6 155.6l1.6 2.0M371.7 161.5l-2.3 1.2M411.6 128.5l0.1 -4.0M405.3 154.4l4.4 0.9M413.2 157.1l3.9 -2.4M380.3 141.6l1.9 2.5M384.4 143.0l2.7 0.9M378.4 170.8l-2.6 -0.7M365.9 165.9l-1.4 2.1M438.0 168.6l3.9 -1.3M460.3 130.9l3.6 -3.4M373.0 153.2l5.8 0.7M381.9 162.0l-0.6 6.4M388.1 178.2l2.6 3.5M412.5 143.4l0.0 -3.8M399.1 139.5l-4.8 1.8M291.5 138.7l-6.4 0.4M280.2 147.1l-2.9 -2.2M267.2 131.2l2.3 -4.1M328.2 168.5l3.7 -0.1" stroke="#ff22cc"/>
<path d="M400.2 136.6l3.7 -3.1M401.0 179.3l-3.0 1.3M385.5 138.2l-4.4 -0.9M374.8 134.4l-2.7 0.3M365.6 138.9l-1.9 -4.2M391.6 145.1l-2.5 1.2M415.9 178.4l2.7 1.2M397.1 158.2l4.8 -0.5M404.2 156.5l2.2 -1.4M364.5 143.3l-3.5 2.7M339.8 128.6l-1.0 -4.0M369.9 167.6l-1.6 -2.7M365.0 163.6l-1.4 -2.2M347.0 152.6l-4.9 -0.4M381.0 127.3l3.1 2.2M399.4 138.0l2.9 2.3M373.1 141.7l-2.6 0.1M366.0 142.2l-1.5 2.2M377.1 147.2l-3.5 1.3M420.8 152.5l-1.2 -3.9M381.1 133.4l-0.7 4.0M374.5 140.4l2.7 -0.2M442.0 167.3l3.4 -2.9M452.6 159.6l1.6 -3.3M369.3 148.7l3.7 4.5M347.4 130.3l-4.2 -0.5M334.4 125.0l-5.6 0.4M299.3 138.4l-3.7 -1.3M299.6 148.3l0.3 6.1" stroke="#ff4488"/>
<path d="M340.3 153.3l0.1 4.4M386.9 142.4l-1.5 -4.1M363.7 134.7l-1.0 -2.8M430.7 135.4l-3.2 0.5M421.0 138.8l-3.0 2.0M393.7 139.9l2.8 0.8M344.7 168.4l-2.5 -3.2M329.3 173.1l-2.5 0.7M390.8 128.5l-2.7 1.3M381.7 132.9l-0.4 3.4M375.6 168.3l1.9 -2.3M387.8 152.8l0.6 -4.8M388.5 147.9l1.2 -3.8M392.3 144.0l1.5 2.2M363.6 161.4l-1.5 -3.2M364.5 144.4l1.8 2.4M363.2 153.1l3.4 2.4M382.0 126.0l2.6 -1.6M387.1 143.9l2.5 0.6M389.7 144.5l1.6 -1.9M376.4 172.2l2.5 -4.1M378.9 168.1l3.6 1.5M460.1 143.7l-0.8 -6.4M376.7 177.9l2.9 4.4M403.3 138.3l-4.2 1.2M377.5 150.5l-2.9 -2.3M362.0 134.9l-3.9 -1.0" stroke="#e8d840"/>
<path d="M377.7 144.6l4.1 -1.1M394.6 181.8l-6.6 2.3M337.7 161.5l2.7 2.5M372.1 134.7l-3.5 1.4M368.6 136.1l-3.0 2.8M390.6 136.9l3.1 3.0M373.8 145.5l-3.4 -2.2M375.8 170.1l-2.4 -2.3M425.5 175.0l4.4 -1.3M454.3 156.2l1.1 -3.8M458.2 147.1l1.9 -3.4M349.9 136.9l1.8 3.8M383.5 174.0l4.5 4.2M410.5 154.3l-0.1 -6.4M382.9 149.8l-5.4 0.7M366.8 138.9l-4.8 -4.0M358.1 133.9l-4.9 -2.3M353.2 131.6l-5.8 -1.3M277.2 144.9l-4.0 -2.4M299.9 154.4l1.9 3.9M332.0 168.3l4.4 -1.2" stroke="#22dd55"/>
<path d="M378.6 140.3l-0.8 4.3M388.3 145.5l3.5 -2.0M397.8 138.1l2.3 -1.4M390.5 142.0l-3.6 0.3M424.7 138.1l-3.6 0.7M415.1 139.8l-1.5 -2.8M389.1 146.3l2.7 3.3M352.4 140.2l1.3 -4.5M396.2 129.6l-2.7 -0.2M399.8 139.4l-2.7 -1.4M382.8 157.0l2.1 -2.0M389.7 144.2l2.6 -0.2M374.2 139.9l1.8 3.5M344.8 135.2l-1.8 -3.5M338.8 124.6l0.4 2.3M368.3 165.0l-3.3 -1.4M359.1 152.9l-2.9 -1.3M352.7 152.2l-2.5 -0.7M376.0 126.7l3.0 -2.1M375.5 141.2l-2.5 0.5M369.4 162.6l0.5 3.7M384.3 126.8l-1.9 3.0M368.6 169.6l2.4 0.8M421.3 176.6l4.2 -1.6M350.3 130.5l-0.3 6.4M317.7 130.4l-5.9 -1.4M301.7 158.3l5.4 3.0" stroke="#9955ff"/>
<path d="M418.1 140.7l-3.0 -0.9M349.4 177.6l-2.1 -4.3M387.7 152.5l-0.4 -4.5M391.8 138.5l-2.2 -2.5M418.6 179.6l0.3 4.0M385.2 136.6l-2.6 2.2M386.5 150.3l2.7 3.2M409.9 144.1l-3.0 -1.4M397.1 138.0l-0.3 -3.3M360.1 155.6l-1.0 -2.8M387.1 179.4l4.1 -0.2M390.0 130.2l-3.2 2.1M397.8 143.7l-0.5 2.8M420.7 145.1l-0.4 -3.7M364.7 146.5l4.6 2.3M300.1 138.0l-0.7 4.4" stroke="#ff3333"/>
<path d="M386.1 143.9l2.2 1.6M391.0 139.0l2.6 -1.9M345.2 144.6l-1.5 3.1M399.5 140.4l2.9 0.8M347.3 173.3l1.3 -2.6M335.1 165.9l0.8 4.7M331.8 173.8l-2.5 -0.7M389.9 144.0l2.0 -2.2M390.2 141.4l1.4 3.7M413.2 171.1l2.9 2.9M354.6 143.7l-2.1 -3.4M355.2 132.0l-1.4 -3.9M400.1 129.6l-1.4 3.6M396.8 134.6l-1.0 -2.3M361.3 146.2l3.0 -1.1M367.7 141.6l-3.2 1.7M361.0 145.9l-3.5 -0.5M349.0 136.9l-4.1 -1.7M343.0 131.7l-3.2 -3.1M382.8 136.6l4.3 2.3M368.1 157.6l3.3 1.3M411.3 131.5l0.3 -2.9M419.6 148.6l1.1 -3.6M392.4 139.2l-1.0 -3.1M371.0 170.4l2.5 2.7M409.7 159.3l0.7 -5.0M328.8 125.5l-4.9 3.5M270.9 139.1l-0.6 -3.7M275.2 125.0l4.1 2.0M284.1 130.2l3.5 3.4M324.4 168.0l3.8 0.5" stroke="#ff9922"/>
<path d="M349.6 139.8l-3.8 0.0M362.7 131.9l0.7 -4.6M405.7 142.5l2.7 2.1M334.2 172.9l-2.4 0.9M387.3 148.0l2.5 -4.0M415.0 165.0l-2.2 2.1M405.1 126.8l-2.2 2.1M381.3 136.3l4.0 2.6M384.5 147.1l2.0 3.2M391.7 153.5l4.4 2.2M395.8 132.3l1.1 -4.7M364.2 145.1l3.0 -2.2M376.0 143.4l-2.3 2.1M339.2 126.9l4.6 -1.9M386.8 132.4l-2.3 1.1M384.5 124.4l-0.3 2.4M368.4 136.6l-4.3 -1.2M391.3 142.6l1.2 -3.4M356.1 144.7l4.5 0.4M360.6 145.1l4.1 1.4M378.8 154.0l2.5 3.4M381.3 168.3l2.2 5.7M311.8 129.0l-5.6 3.0M287.6 133.6l3.9 0.5M296.2 135.9l3.9 2.1M314.6 167.6l4.4 -0.7" stroke="#44bbee"/>
<path d="M381.9 143.5l4.3 0.4M335.9 170.6l-1.7 2.3M389.0 138.6l1.2 2.8M412.8 167.1l0.5 3.9M401.9 157.7l2.3 -1.2M387.1 138.9l2.5 -0.4M393.7 138.2l2.4 -1.5M391.2 179.1l4.3 0.1M378.9 139.2l-3.4 2.0M369.8 172.1l4.6 3.0M370.3 143.8l-3.5 -4.9M343.2 129.8l-3.7 -1.1M303.7 134.5l-4.4 3.9M299.4 142.3l0.2 5.9M336.3 167.2l5.0 -0.1" stroke="#c8c050"/>
<path d="M340.4 164.1l3.9 1.2M347.1 166.3l4.0 1.1M427.5 135.9l-2.9 2.1M413.6 136.9l-3.9 -2.6M402.4 141.2l3.3 1.3M391.9 141.8l-0.1 -3.2M358.7 145.4l-3.1 1.8M355.6 147.3l-1.0 -3.6M353.8 128.1l0.8 -3.2M406.9 142.7l-3.5 -0.9M381.5 160.5l1.4 -3.5M393.8 146.2l1.2 4.5M384.1 129.6l-0.4 3.7M389.6 138.5l4.1 -0.3M383.3 136.8l-4.4 2.4M365.1 151.1l-1.9 2.1M371.4 158.9l0.3 2.5M401.9 152.2l3.4 2.2M374.3 127.8l3.5 0.4M380.3 137.4l-3.3 -0.6M368.6 179.9l1.6 3.8M351.7 140.7l4.4 4.0M389.7 143.4l-2.1 3.1M374.6 148.2l-4.3 -4.4M323.9 128.9l-6.2 1.5M270.3 135.4l-3.1 -4.2M291.5 134.1l4.7 1.8" stroke="#11ccbb"/>
<path d="M381.1 137.3l-1.7 -2.5M386.7 128.6l1.8 4.3M388.6 132.9l2.1 4.0M387.1 157.0l0.7 -4.5M389.6 136.0l-0.6 2.6M385.9 131.3l-4.2 1.6M382.6 138.8l-0.3 5.0M389.2 153.5l2.6 -0.0M379.4 163.2l2.0 -2.7M356.2 151.6l-3.6 0.7M379.0 124.6l2.0 2.7M396.2 136.7l3.3 1.3M373.7 148.6l-4.2 0.5M369.4 149.1l-4.3 2.0M397.2 146.4l2.6 2.5M409.7 155.3l3.5 1.8M382.4 129.8l-1.3 3.6M391.4 136.1l-1.5 -3.4M373.5 167.8l-3.5 -3.0M364.5 168.0l4.0 1.6M434.7 170.2l3.3 -1.6M459.3 137.3l1.1 -6.4M363.3 172.1l6.5 0.0M374.4 175.1l2.3 2.9M295.7 137.1l-4.2 1.6M285.2 139.1l-1.0 4.7M319.0 166.9l5.4 1.1" stroke="#dd33ff"/>
<path d="M393.7 137.1l4.2 1.0M343.7 147.7l-0.1 2.9M340.4 157.6l-2.8 3.9M344.3 165.3l2.8 1.0M409.7 134.4l-1.9 -1.9M408.4 144.6l2.7 0.5M402.8 128.9l-2.7 0.7M393.5 129.4l-2.7 -0.9M415.6 147.8l-2.1 -1.5M403.4 141.8l-3.5 -2.4M383.6 133.3l-0.9 3.3M384.5 133.5l-1.3 3.3M399.9 148.9l2.0 3.3M417.1 154.7l3.7 -2.1M377.9 128.2l4.1 -2.3M377.1 136.8l-3.8 -1.2M389.9 132.7l0.4 -4.6M373.5 173.1l2.9 -0.9M429.9 173.7l4.8 -3.5M448.6 161.6l4.0 -2.0M273.2 142.5l-2.3 -3.4M269.5 127.1l5.7 -2.1M307.1 161.4l3.6 3.8" stroke="#88dd33"/>
<path d="M345.0 130.1l-3.7 -2.1M417.9 165.1l-0.5 -2.5M416.3 155.6l-0.8 -3.2M414.3 145.7l0.0 -5.0M402.6 141.8l-0.2 -3.7M388.8 180.0l-2.8 3.4M419.5 164.0l3.3 3.7M394.1 179.0l3.4 2.1M377.9 131.8l-2.3 -4.2M364.3 131.5l1.9 -1.9M419.5 174.9l-1.4 -3.1M411.0 160.9l-3.9 1.8M407.1 162.7l-4.6 1.3M394.9 143.3l-2.2 1.4M391.0 148.4l-2.3 4.1M383.8 130.9l-3.1 -3.8M394.8 147.2l3.8 -2.3M364.8 174.8l-3.4 2.9M348.4 143.3l4.3 2.7M384.4 169.4l-2.4 -3.9M340.9 137.8l-4.3 -0.1M291.1 149.7l-3.8 -0.5" stroke="#00ccff"/>
<path d="M357.0 135.0l-0.9 -3.2M352.4 131.1l-3.4 -1.2M383.1 156.1l4.4 1.3M391.4 156.6l1.8 3.4M357.6 176.5l0.7 4.4M380.0 136.3l1.8 2.9M386.1 139.5l3.9 1.4M392.2 136.7l1.0 -3.9M431.3 153.9l-2.8 1.7M399.8 125.8l-2.3 -1.1M342.9 158.0l-0.7 -2.8M367.9 140.2l-2.7 -0.7M397.6 142.5l-2.0 1.5M353.1 153.0l-3.5 2.8M385.5 150.5l-5.1 2.5M377.1 154.6l-5.9 2.4M371.3 156.9l-3.7 3.6M372.9 163.5l4.4 2.8M350.8 133.7l-6.1 1.1" stroke="#3344ff"/>
<path d="M349.0 129.9l-4.0 0.2M374.2 154.4l3.5 -1.3M380.1 154.3l2.9 1.9M387.5 157.4l3.9 -0.8M393.2 160.0l4.4 -1.1M401.8 156.2l1.3 -2.6M436.2 147.7l0.0 3.0M398.2 150.8l-0.8 -4.7M397.5 124.7l-2.3 2.4M425.5 174.5l-3.5 -1.9M350.7 155.3l4.6 -0.0M366.3 138.6l-3.0 3.3M357.8 146.2l1.3 2.7M388.8 152.5l-2.8 3.8M381.1 162.2l-3.7 -2.3M380.7 127.1l-3.5 -2.7M350.9 158.8l4.7 -0.6M355.6 158.3l2.8 1.1M339.9 145.5l4.7 -2.3M361.2 153.0l4.9 3.2M378.7 162.2l-2.3 -3.3M363.1 149.1l-3.9 -3.6M283.9 150.8l-4.1 0.3" stroke="#ff22cc"/>
<path d="M355.3 178.6l0.9 3.0M356.1 131.8l-3.7 -0.7M417.4 162.6l-1.4 -2.6M415.5 149.6l-1.2 -4.0M377.6 153.2l2.5 1.1M381.8 139.2l4.3 0.3M435.5 138.3l-0.2 4.5M428.5 155.6l-1.1 2.8M397.4 146.1l0.6 -2.5M395.3 127.1l-4.6 1.7M374.9 153.3l2.4 1.9M375.1 161.2l-2.8 1.3M418.4 161.6l1.1 2.5M384.3 125.9l3.2 -0.2M344.1 166.4l-1.3 -4.1M380.7 147.6l-1.4 -2.7M376.9 134.9l1.0 -3.0M403.2 130.1l-2.5 -4.1M361.0 132.8l3.3 -1.3M379.7 151.8l1.6 2.6M395.5 144.0l-2.7 1.8M371.2 148.0l-3.0 -3.9M380.5 153.0l-3.3 1.6M344.6 143.1l3.8 0.2M366.1 156.2l3.8 4.7M385.5 173.8l5.1 1.2M279.8 151.1l-4.9 -0.8" stroke="#ff4488"/>
<path d="M418.6 168.5l-0.7 -3.4M403.1 153.7l2.8 -0.5M405.8 153.2l2.8 -2.2M431.3 135.7l4.2 2.7M424.6 161.8l-2.3 2.3M398.1 143.6l4.5 -1.9M403.4 127.2l-3.5 -1.4M377.3 155.2l1.4 2.9M422.0 172.6l-1.2 -3.8M425.7 171.0l-2.1 2.6M392.7 144.6l-4.2 2.2M359.2 148.9l2.5 1.6M370.5 153.8l-1.3 -2.2M393.4 145.5l-3.5 2.5M492.5 171.1l5.2 -1.3M336.7 137.7l-4.0 2.0M308.4 138.4l-3.0 2.3" stroke="#e8d840"/>
<path d="M330.2 129.3l-2.8 1.8M397.7 158.8l4.1 -2.6M382.8 172.7l-2.8 3.2M404.1 130.7l-0.7 -3.5M361.2 164.4l0.2 4.3M376.0 133.2l-3.0 1.8M361.0 143.5l-1.9 -1.8M376.3 138.8l-3.5 2.5M407.2 128.9l-0.8 -4.3M368.1 144.1l-3.0 1.3M364.2 150.9l1.2 3.4M349.6 155.8l1.3 3.0M401.9 146.3l-3.9 -0.5M390.0 148.0l-4.4 2.4M367.6 160.5l0.1 4.8M352.6 146.0l5.0 2.9M357.6 148.9l3.6 4.1M451.6 166.0l4.3 -2.1M354.7 137.7l-3.9 -4.0M319.1 135.5l-5.8 0.4" stroke="#22dd55"/>
<path d="M421.9 179.4l-1.5 -4.2M420.6 170.9l-2.1 -2.4M415.5 152.4l0.1 -2.8M380.0 175.9l-0.6 3.6M357.3 173.2l0.3 3.3M361.3 184.3l2.2 2.6M403.1 133.2l0.9 -2.5M342.2 155.3l3.9 -1.3M346.1 154.0l4.6 1.3M397.5 181.1l2.7 0.7M421.9 174.9l1.7 3.6M382.2 151.4l-1.6 -3.8M379.1 138.7l-2.2 -3.9M419.3 167.0l-2.5 -2.6M385.1 143.2l-2.1 1.7M392.8 145.9l-1.7 2.5M398.5 144.9l3.6 -3.0M368.1 169.6l-3.3 5.2M455.9 164.0l6.1 0.0M467.9 163.2l3.1 -2.0M476.0 162.3l3.7 2.6M479.7 164.9l5.5 1.8M485.2 166.7l4.0 2.2M305.4 140.8l-3.9 4.2M270.1 148.0l-2.7 -2.6" stroke="#9955ff"/>
<path d="M357.4 175.0l-2.2 3.6M339.0 129.1l-4.8 -1.0M395.7 130.7l1.4 -3.8M397.1 126.8l-2.5 -2.4M372.3 162.4l-3.6 -1.1M422.8 167.7l2.6 -0.3M342.6 169.1l1.6 -2.7M363.3 141.9l-2.3 1.6M377.4 159.9l-1.9 -2.9M373.3 149.5l2.8 1.8M398.1 145.8l-4.6 -0.3M361.4 177.7l0.5 4.6M296.8 148.7l-5.7 1.0" stroke="#ff3333"/>
<path d="M420.4 175.2l0.2 -4.3M383.7 169.8l-0.9 2.9M432.6 131.5l-1.3 4.1M386.0 183.4l-4.7 5.8M425.5 167.4l3.8 0.4M429.9 170.4l-1.9 2.1M393.5 171.4l0.7 4.2M363.7 134.8l-2.7 -2.0M413.5 160.9l-2.5 0.1M399.4 134.1l-3.8 2.5M365.2 139.5l-3.6 1.1M404.6 136.2l0.4 -3.3M371.9 151.6l1.3 -2.1M361.7 160.1l4.6 -0.1M377.3 166.3l4.6 3.1M390.6 175.0l4.3 3.6M462.1 164.0l5.8 -0.8M489.2 168.9l3.4 2.2M501.4 169.8l2.4 -2.9M372.9 156.0l-3.9 -2.6M327.6 137.8l-3.6 -1.8" stroke="#ff9922"/>
<path d="M363.3 169.9l-3.5 3.3M359.9 173.2l-2.4 1.7M341.2 128.0l-2.3 1.1M334.1 128.1l-3.9 1.2M379.5 179.5l4.4 1.9M428.0 172.5l-2.5 2.0M420.9 165.9l2.0 -4.1M341.8 172.8l0.8 -3.7M355.4 155.3l2.4 1.6M359.8 137.6l3.9 -2.8M387.6 142.7l-2.5 0.5M380.4 148.3l-0.7 3.4M372.7 141.4l-2.5 -0.1M398.3 139.2l-0.8 3.4M394.8 152.0l-0.0 -4.8M405.0 132.9l2.2 -4.0M366.3 160.0l2.3 -3.6M403.4 150.8l-1.5 -4.5M369.9 160.9l3.0 2.7M332.7 139.6l-5.1 -1.8M301.5 145.0l-4.7 3.7" stroke="#44bbee"/>
<path d="M435.3 142.9l0.9 4.8M432.9 151.8l-1.6 2.1M368.7 161.4l-4.5 0.7M394.2 175.6l-0.1 3.4M387.6 154.7l-2.6 -2.4M385.0 152.3l-2.8 -0.9M379.8 141.8l-0.7 -3.0M393.3 139.5l1.6 3.7M381.5 134.2l-3.6 2.1M358.9 142.4l-1.0 3.7M399.9 135.8l-1.6 3.4M386.0 156.3l-0.8 4.2M374.3 151.2l-3.1 -3.2M365.2 145.4l-3.6 1.9M365.5 154.3l2.6 2.4M368.1 156.8l3.4 -1.7M358.4 159.4l3.3 0.8M368.6 156.4l1.9 -2.6M369.3 151.6l-3.2 -1.1M366.1 150.4l-0.7 -3.4M394.9 178.6l5.2 3.3M369.1 153.3l-4.1 -1.1M344.7 134.8l-3.8 3.0M324.0 136.0l-4.9 -0.5M313.3 135.9l-4.9 2.5M287.3 149.2l-3.4 1.5M267.4 145.4l-3.4 -1.7M262.9 137.5l2.9 -5.1" stroke="#c8c050"/>
<path d="M327.4 131.1l-3.3 0.2M415.9 160.0l0.3 -4.4M390.1 140.8l2.2 -4.2M427.3 158.5l-2.8 3.3M402.4 138.1l0.8 -4.9M361.3 168.7l2.9 3.7M355.7 158.8l-0.2 4.6M373.1 135.0l-2.2 2.9M370.9 137.9l-4.6 0.7M423.4 167.6l2.3 3.4M423.6 173.6l-4.0 1.3M418.1 171.8l1.2 -4.7M388.6 146.8l-0.9 -4.1M391.7 153.9l3.1 -1.9M404.1 139.7l0.5 -3.5M361.6 147.3l2.6 3.6M371.5 155.1l0.4 -3.4M471.0 161.2l5.1 1.1M497.7 169.9l3.6 -0.1M382.0 165.5l-3.4 -3.3M357.4 140.9l-2.7 -3.2M274.9 150.4l-4.8 -2.3M263.9 143.7l-1.0 -6.2M269.0 129.5l4.3 -3.7" stroke="#11ccbb"/>
<path d="M324.2 131.3l-2.1 3.1M358.3 180.8l3.0 3.5M379.2 133.5l0.8 2.8M393.2 132.8l2.5 -2.2M436.3 150.7l-3.4 1.1M378.7 158.1l-3.6 3.1M364.2 162.1l-3.0 2.3M429.3 167.8l0.5 2.6M342.9 162.2l0.1 -4.2M394.9 168.8l-1.4 2.6M423.6 178.5l0.9 3.1M395.6 136.5l-2.3 3.0M382.9 144.9l-2.5 3.4M370.2 141.3l-2.4 -1.1M361.5 140.6l-2.7 1.8M385.1 160.5l-4.0 1.8M389.8 156.8l1.8 -2.9M381.9 169.4l3.6 4.4M365.0 152.3l-1.9 -3.1M265.9 132.3l3.1 -2.8" stroke="#dd33ff"/>
<path d="M374.0 146.9l2.6 2.0M376.7 148.9l-1.7 4.4M420.7 168.7l0.2 -2.8M357.7 156.8l-2.0 2.0M379.3 144.9l0.5 -3.1M359.2 141.7l0.7 -4.1M422.9 164.3l0.5 3.3M416.9 164.5l-3.4 -3.6M377.9 136.3l-1.6 2.5M402.1 141.9l2.0 -2.2M367.7 165.3l0.4 4.2M376.3 158.9l-3.4 -2.9M359.2 145.6l-1.8 -4.6M273.3 125.8l2.5 -5.4" stroke="#88dd33"/>
<path d="M374.9 145.0l-3.7 -0.0M382.3 141.6l0.3 3.1M395.9 157.0l1.5 -2.9M393.0 150.4l1.6 -2.2M404.3 154.7l2.8 -1.1M420.6 158.8l-0.5 -3.0M418.6 153.0l-3.1 1.1M400.2 134.4l-2.6 3.2M381.6 142.8l-3.6 0.8M329.5 131.7l-2.3 -4.3M308.0 128.6l-2.0 3.9M363.8 166.2l-3.5 -2.2M360.3 164.1l-4.1 -0.4M438.1 150.7l-0.7 3.1M444.4 173.2l3.1 -2.2M453.0 161.6l4.2 -2.3M457.2 159.3l3.1 -2.5M471.5 134.2l5.4 -1.8M393.4 168.2l3.0 3.3M403.5 180.8l3.2 2.1" stroke="#00ccff"/>
<path d="M374.5 167.6l2.4 4.1M380.0 179.6l1.5 3.3M374.6 130.9l3.3 -0.5M379.1 146.8l-4.0 1.6M396.1 160.1l-0.2 -3.1M407.1 153.6l2.5 -1.5M374.6 138.7l-3.6 2.4M397.2 183.7l0.3 3.2M369.2 146.9l0.5 -4.7M411.7 127.2l-2.2 2.0M367.2 169.7l-2.3 -1.0M390.8 130.0l-2.5 -2.8M402.6 138.5l-2.4 -3.3" stroke="#3344ff"/>
<path d="M373.8 148.1l3.5 -1.1M396.5 140.6l-1.8 3.0M391.6 165.3l3.2 -2.6M402.4 142.1l-4.4 -0.4M409.6 152.1l2.8 -2.2M372.9 142.8l2.8 -2.7M376.2 170.3l2.5 4.2M375.2 136.6l1.1 -2.3M406.8 129.1l-3.4 2.2M393.2 137.1l-2.6 -0.2M383.3 144.0l1.6 -2.8M441.1 128.8l-2.5 -0.3M440.9 145.1l-2.0 1.7M464.2 147.3l3.8 -3.9" stroke="#ff22cc"/>
<path d="M373.5 161.8l-2.7 -3.0M395.0 136.7l-0.2 -4.7M387.3 143.4l3.9 2.2M383.5 173.6l3.1 3.0M402.4 148.9l0.1 2.7M405.1 160.9l2.6 2.4M391.8 130.2l1.7 -3.7M378.6 151.7l2.3 -4.2M404.0 150.9l2.1 3.0M406.5 132.7l-3.7 0.7M399.6 132.3l-4.3 -1.0M414.1 139.3l1.9 -2.7M418.3 133.9l3.0 2.5M376.7 127.8l-3.0 2.0M468.0 143.3l1.7 -5.6M389.7 168.5l0.4 -4.4" stroke="#ff4488"/>
<path d="M388.6 131.9l2.9 1.9M378.1 127.2l0.4 -2.5M375.1 148.4l-3.8 1.1M387.3 165.2l4.3 0.1M375.7 140.1l3.0 -1.8M393.2 175.3l2.2 1.6M376.1 129.1l0.6 -3.9M409.6 129.2l-2.7 -0.1M388.3 138.8l-3.7 -0.7M381.0 149.9l-2.0 -3.5M377.6 157.0l1.2 -2.3M369.1 146.9l-3.5 -1.1M327.2 127.4l-3.9 -0.5M419.0 157.4l3.0 2.2M402.8 133.4l-3.2 -1.1M438.9 146.8l-0.8 3.9M436.6 166.9l0.7 3.4M428.5 133.0l3.9 -2.8M379.6 125.3l-2.9 2.6M387.6 167.7l0.2 5.4M447.6 171.1l2.3 -4.4M390.4 157.7l1.9 -5.0M400.3 135.2l-1.8 -4.8" stroke="#e8d840"/>
<path d="M371.0 153.8l0.7 -2.8M393.6 142.7l-5.0 -0.3M390.3 137.5l4.7 -0.8M409.1 156.0l3.5 2.3M412.6 158.3l4.3 2.5M416.9 160.7l3.8 -2.0M390.5 175.5l2.7 -0.2M400.3 154.3l0.6 2.8M391.9 132.7l-0.7 -3.1M379.0 146.4l4.4 -2.4M380.9 159.6l-3.3 -2.6M380.9 147.4l0.7 -4.7M323.2 126.9l-1.1 -2.6M319.6 126.8l-3.9 1.1M412.3 155.9l3.0 -1.8M409.9 131.5l-3.4 1.2M395.3 131.3l-4.5 -1.3M432.7 128.4l3.9 1.1M408.5 143.2l3.5 -2.3" stroke="#22dd55"/>
<path d="M382.6 144.7l-3.5 2.1M371.3 149.5l-1.7 2.0M397.4 154.1l0.7 -4.4M387.6 139.9l2.7 -2.4M398.8 148.3l2.6 2.7M414.3 153.1l-1.4 3.2M415.4 154.1l-3.6 1.0M411.8 155.1l-2.8 -0.8M376.2 134.5l-1.6 4.2M381.8 139.7l2.5 2.4M394.6 142.5l4.7 -1.1M397.6 137.6l-4.4 -0.5M385.4 138.2l-3.7 -3.2M379.4 132.6l2.2 -2.6M375.1 146.5l-3.5 0.6M424.5 160.6l0.4 3.9M424.9 164.6l-3.6 3.1M421.4 167.7l-0.1 4.1M421.3 171.7l-3.0 3.5M427.4 133.7l1.3 -2.7M438.6 128.6l-4.6 1.5M437.3 170.3l1.6 2.3M416.0 136.6l2.3 -2.7M401.0 145.6l5.2 -2.1" stroke="#9955ff"/>
<path d="M376.9 171.7l3.1 3.1M377.2 147.1l2.7 -3.2M380.7 135.6l4.1 -2.4M378.8 157.4l4.0 2.0M384.4 163.1l2.9 2.1M394.8 132.0l1.0 -4.5M378.7 138.3l3.1 1.4M407.7 163.3l3.2 2.0M403.5 131.3l-3.2 3.2M385.0 160.0l-4.0 -0.5M306.0 132.4l-4.0 1.0M342.7 163.8l-3.5 -1.5M339.1 162.3l-3.8 -2.6M406.1 153.9l3.7 2.6M415.3 154.1l3.7 3.3M388.3 127.2l-3.8 -2.3M441.2 128.3l3.2 -1.8M438.6 157.0l-1.0 2.7M435.4 162.2l1.2 4.6M481.2 129.9l3.2 -3.8M406.2 143.5l-3.5 -4.9" stroke="#ff3333"/>
<path d="M380.0 174.8l-0.0 4.8M390.8 143.0l-2.1 1.3M420.2 155.8l-1.6 -2.8M392.0 141.3l2.6 1.3M402.5 151.5l-2.2 2.7M373.0 138.8l2.1 -2.2M376.3 134.3l0.2 -2.5M386.0 143.3l-0.9 3.0M378.8 154.7l-0.3 -3.0M371.6 147.0l-2.6 -0.1M368.0 173.1l-0.8 -3.4M356.2 163.7l-2.8 -0.0M348.9 162.3l-4.2 -0.2M422.1 159.6l2.4 1.0M412.8 131.9l-2.9 -0.3M439.2 141.5l1.6 3.7M440.7 174.7l3.7 -1.5" stroke="#ff9922"/>
<path d="M370.8 158.7l-2.3 -3.2M367.0 143.3l-2.2 -2.2M391.5 133.8l1.5 3.5M366.1 157.1l-2.7 3.7M401.4 151.0l3.0 3.7M403.8 150.1l2.7 2.4M406.5 152.6l2.7 3.4M384.3 142.2l3.0 1.3M396.8 179.4l0.4 4.3M400.9 157.1l2.6 1.2M413.3 126.9l-0.3 -2.0M390.6 137.0l-2.3 1.8M397.2 131.2l-2.5 0.5M385.0 141.2l0.5 -3.0M333.1 132.5l-3.6 -0.8M364.9 168.7l-1.1 -2.5M344.7 162.1l-2.0 1.7M436.6 129.5l4.6 -1.2M437.5 153.8l1.2 3.2M437.6 159.8l-4.7 0.5M385.3 162.5l2.3 5.2M449.8 166.7l3.2 -5.1M460.3 156.7l2.6 -4.8M476.9 132.4l4.4 -2.5M396.4 171.5l1.2 4.5" stroke="#44bbee"/>
<path d="M371.6 151.0l2.8 -3.1M380.1 139.6l0.6 -4.0M393.1 137.3l3.4 3.4M376.2 135.1l-1.6 -4.2M388.6 144.3l-1.7 -1.9M367.6 153.5l-1.5 3.6M397.5 145.5l3.1 -1.6M388.7 142.4l-1.1 -2.4M394.7 148.2l4.1 0.0M412.9 156.3l-1.3 3.7M411.7 160.0l-1.7 3.4M386.6 176.6l3.9 -1.2M400.6 128.9l-3.4 2.3M391.2 129.6l-1.6 -1.9M389.8 140.7l-3.8 2.6M444.1 129.7l-3.0 -0.8M432.9 160.2l2.5 2.0M423.6 132.9l4.9 0.1M432.9 126.2l-2.4 -1.7M383.2 124.4l-3.6 0.8M373.7 129.9l-1.3 -3.3M382.5 146.5l0.0 3.5M383.4 157.3l2.0 5.3M463.0 151.9l1.2 -4.6M399.9 180.6l3.6 0.1M392.2 152.7l3.0 -5.2" stroke="#c8c050"/>
<path d="M375.9 160.0l-2.4 1.7M371.2 144.9l-4.2 -1.6M398.0 141.7l-4.4 1.1M412.4 149.8l1.9 3.3M399.7 152.2l4.1 -2.1M395.4 176.8l1.4 2.6M403.4 158.3l1.6 2.6M369.7 142.2l3.4 -3.5M376.4 131.7l-0.3 -2.6M383.8 149.2l-2.8 0.6M378.0 143.5l-2.8 3.0M337.1 133.6l-4.0 -1.1M311.4 128.1l-3.4 0.5M392.7 182.4l5.4 5.3" stroke="#11ccbb"/>
<path d="M379.4 157.1l-3.6 2.9M394.6 143.7l-3.2 0.9M377.9 130.4l0.2 -3.2M369.6 151.5l-2.0 2.0M382.9 159.4l1.5 3.7M394.8 162.7l1.3 -2.6M398.1 149.7l-0.5 -4.3M383.4 132.0l-3.8 -0.6M379.6 131.4l-3.4 3.1M378.8 174.4l4.7 -0.9M401.8 144.2l0.6 4.7M413.0 124.9l-1.3 2.3M322.1 124.3l-2.5 2.5M315.7 127.9l-4.3 0.2M353.4 163.7l-4.5 -1.4M428.6 131.0l4.1 -2.7M444.4 126.4l-0.3 3.2M434.0 130.0l-3.4 -2.7M412.0 140.9l2.1 -1.6M382.8 153.6l0.5 3.7M387.9 173.2l1.8 6.1M397.6 176.0l2.3 4.6M390.1 164.1l0.3 -6.4M395.2 147.5l5.8 -1.9" stroke="#dd33ff"/>
<path d="M368.5 155.5l2.5 -1.7M374.4 147.9l0.5 -3.0M380.0 143.8l0.1 -4.3M384.7 133.1l3.9 -1.2M387.0 142.3l-4.7 -0.7M395.8 127.5l0.5 -2.5M371.0 141.1l1.9 1.7M399.3 141.5l2.5 2.7M394.6 131.7l-2.8 0.9M385.1 146.4l-1.3 2.9M381.7 135.1l-2.3 -2.5M409.8 156.5l2.5 -0.6M421.3 136.4l2.4 -3.5M432.4 130.2l0.5 -4.0M386.5 125.7l-3.3 -1.3M382.5 150.0l0.3 3.6M389.6 179.3l3.1 3.1M469.7 137.7l1.8 -3.5M398.5 130.4l2.2 -3.2" stroke="#88dd33"/>
<path d="M414.5 139.4l-0.1 2.6M395.0 144.0l-3.0 1.2M338.9 162.9l-1.8 -2.8M381.5 161.8l3.7 -0.6M392.5 160.9l3.5 2.4M369.0 160.1l3.1 -0.8M387.8 170.2l-2.3 1.2M368.4 160.4l-4.0 -3.0M342.2 163.9l-4.4 -2.2M390.4 141.1l4.8 -0.5M397.7 140.3l3.4 -2.7M419.7 155.2l3.8 0.3M368.2 130.6l3.6 -1.1M354.1 157.4l0.2 -4.7M414.5 170.0l2.8 -2.2M431.8 163.5l-0.0 -3.5M367.8 146.2l2.0 3.7M375.1 149.0l-3.3 -0.1M369.2 148.4l-5.0 -0.1M354.8 144.2l-4.6 1.4M350.1 145.7l-1.0 3.4M381.9 161.8l-3.1 -3.3M391.4 162.4l4.4 -1.4M399.1 159.8l2.9 -0.2M440.6 144.4l5.5 3.2M453.5 141.4l2.2 -3.5M499.2 151.2l3.7 3.5M271.3 158.6l-2.9 5.6" stroke="#00ccff"/>
<path d="M347.9 166.6l-1.6 -2.5M394.9 152.1l2.2 1.7M400.0 155.5l2.7 -0.9M410.8 148.4l2.4 -1.1M363.4 176.6l-2.9 3.3M386.8 167.7l1.0 2.5M357.6 154.5l-4.2 2.3M394.8 128.2l2.0 -1.5M432.2 162.3l2.4 2.6M436.9 167.6l3.3 2.4M355.7 161.3l-1.6 -3.9M358.4 149.7l2.5 1.4M360.9 151.1l3.3 3.6M371.5 146.6l3.4 0.6M366.2 149.1l-3.0 1.3M406.4 170.6l1.9 2.0M412.3 172.4l2.2 -2.3M421.9 167.7l3.3 0.9M357.4 146.7l-2.6 -2.5M382.6 156.5l-2.4 1.0M371.9 173.0l-2.5 -0.6M431.1 153.3l-1.2 -6.3M437.5 141.6l3.1 2.8" stroke="#3344ff"/>
<path d="M365.0 180.3l0.9 4.4M413.1 145.6l-3.1 1.5M405.5 147.2l-3.5 -0.9M392.0 145.3l-3.0 2.4M402.7 154.6l2.3 -2.7M376.3 162.8l3.4 1.3M384.5 160.0l1.6 -2.4M381.5 163.4l2.5 2.6M361.5 154.2l-3.9 0.3M353.4 156.8l-2.9 2.8M405.0 136.5l1.8 -1.8M371.0 150.4l-4.8 -1.3M378.3 174.5l1.1 -3.4M390.0 168.3l-3.5 -1.3M454.0 145.5l-0.5 -4.2M320.0 142.5l-5.5 1.3M311.7 148.1l-4.5 1.0M307.2 149.2l-4.2 2.1M289.1 153.2l-6.3 -0.2" stroke="#ff22cc"/>
<path d="M397.1 153.8l2.9 1.7M399.5 150.0l-1.5 -2.7M384.0 166.0l2.8 1.7M386.0 132.2l3.6 -0.9M373.7 150.6l-2.7 -0.2M348.5 139.7l-1.9 -3.2M373.3 150.9l3.7 -0.9M379.9 149.5l-4.8 -0.5M380.5 176.1l-2.2 -1.7M375.8 159.3l-2.4 -2.9M408.6 161.7l3.3 2.8M412.0 164.6l3.7 1.9M366.8 159.2l-4.1 -0.3M377.3 169.4l-2.1 1.6M477.9 138.4l2.9 2.5M375.1 167.0l0.7 4.9M337.0 138.3l-5.3 1.6" stroke="#ff4488"/>
<path d="M389.0 147.7l-2.1 2.1M354.0 167.6l-2.3 -1.5M363.2 172.3l0.2 4.3M389.8 160.4l2.7 0.4M399.0 161.8l-1.0 -2.8M368.7 155.9l2.1 3.6M350.6 159.5l-4.1 -1.1M345.6 155.9l3.1 1.3M348.7 157.2l2.6 0.8M382.2 134.0l3.8 -1.8M442.4 177.9l0.7 2.9M364.5 128.8l3.7 1.7M356.9 147.5l-3.4 -1.9M408.4 172.6l4.0 -0.2M377.0 150.0l2.6 3.4M387.7 148.2l-3.4 1.6M384.3 149.8l-1.2 2.8M380.8 163.3l-1.5 2.4M379.4 165.7l-2.1 3.7M429.2 158.4l1.9 -5.1M450.4 147.1l3.5 -1.6M331.8 139.9l-5.6 1.9" stroke="#e8d840"/>
<path d="M395.0 148.6l-0.2 3.5M360.5 179.9l-2.9 1.6M387.1 139.2l-3.0 1.0M346.4 158.4l-1.6 3.5M354.1 163.0l1.6 3.1M387.0 139.6l3.4 1.5M360.1 162.7l-4.4 -1.4M356.7 161.8l-1.8 -3.0M379.4 171.1l4.0 -2.0M383.4 169.1l-0.5 -4.4M373.4 156.5l-4.1 -1.8M405.3 161.4l3.4 0.3M382.9 161.7l-2.0 1.6M429.9 147.0l-0.2 -4.2M433.1 140.4l4.4 1.2M490.1 145.8l4.2 2.8" stroke="#22dd55"/>
<path d="M332.7 153.4l3.2 -0.9M379.2 129.5l3.0 1.2M380.7 138.2l-1.6 -2.0M383.1 133.8l3.6 -0.3M392.6 152.5l4.0 -0.5M396.5 152.0l2.0 3.5M377.1 161.7l4.4 0.1M347.1 149.8l-2.5 2.2M344.6 151.9l1.0 4.0M389.6 131.4l2.7 -1.4M374.5 130.0l-1.0 -3.7M443.1 180.8l-0.1 3.5M361.5 161.1l-4.8 0.7M381.7 169.1l1.3 3.5M350.3 125.7l6.2 1.2M432.0 163.1l-2.8 -4.8M474.9 135.7l3.0 2.7M480.8 140.8l4.6 1.7" stroke="#9955ff"/>
<path d="M414.4 141.9l-1.3 3.7M405.0 151.9l2.6 -1.2M379.1 136.2l4.0 -2.4M379.7 164.2l3.4 0.4M364.7 161.0l4.3 -0.8M382.8 173.5l-1.7 2.6M351.3 157.9l0.1 2.6M423.5 155.6l2.2 3.1M441.9 174.4l0.5 3.6M374.8 147.3l-1.1 3.4M364.3 148.3l-3.7 1.9M384.6 158.8l-1.7 2.9M366.7 178.1l-0.4 4.4M455.6 137.9l2.9 -5.3M346.4 135.4l-4.7 2.6M314.4 143.9l-2.7 4.3M282.8 153.0l-6.1 2.3" stroke="#ff3333"/>
<path d="M401.9 146.3l-4.6 -0.9M343.1 163.7l-4.2 -0.8M407.6 150.7l3.2 -2.3M382.8 179.0l0.5 4.4M371.6 155.4l-0.6 4.6M364.5 168.8l-1.3 3.5M386.7 133.6l1.0 2.6M373.5 162.1l2.8 0.7M378.9 163.0l2.6 0.5M370.8 159.5l-2.5 0.9M395.1 140.6l2.6 -0.3M408.6 126.5l2.1 -1.4M410.8 125.0l3.3 0.0M414.1 125.1l3.3 2.8M379.6 153.4l4.8 -0.6M371.8 148.9l-2.6 -0.5M402.0 159.6l3.3 1.8M385.5 158.2l-3.0 -1.7M373.5 156.9l-2.6 -0.4M446.1 147.6l4.4 -0.5M466.6 127.3l1.6 4.1M276.7 155.3l-5.3 3.3M265.1 165.8l-4.3 -0.8" stroke="#ff9922"/>
<path d="M333.5 157.1l-0.8 -3.7M394.1 145.2l1.0 3.4M368.9 153.2l2.7 2.3M388.2 154.9l4.3 -2.4M376.2 159.5l2.7 3.5M344.8 161.9l-2.6 2.0M407.9 130.5l0.8 -4.0M425.8 158.6l3.1 2.5M440.2 170.0l1.7 4.4M355.9 150.3l2.5 -0.5M425.2 168.6l3.5 0.8M428.7 169.4l2.2 -3.4M431.8 160.0l3.0 -2.6M385.8 162.5l-2.5 2.4M385.8 178.9l-2.6 -1.3M382.9 164.7l-1.0 -2.9M387.9 164.0l3.6 -1.5M370.9 156.6l-4.1 2.6M383.1 152.6l0.4 3.3M458.5 132.5l0.9 -4.7M468.2 131.4l2.7 3.4M268.4 164.2l-3.3 1.6" stroke="#44bbee"/>
<path d="M363.6 177.6l1.5 2.8M346.3 164.0l-3.2 -0.3M335.8 152.5l3.2 0.5M339.0 152.9l2.9 2.1M389.0 139.4l3.4 2.0M384.3 133.3l3.9 2.7M388.1 136.0l-1.0 3.2M406.8 134.7l1.1 -4.2M434.6 164.9l2.3 2.7M371.8 129.5l4.3 1.0M364.2 154.7l0.5 4.3M369.8 149.9l3.5 1.1M395.8 161.0l3.3 -1.2M360.4 155.6l-0.2 -2.5M375.2 171.0l-3.4 2.1M346.1 125.9l4.2 -0.1M356.5 126.9l3.4 -0.9M470.8 134.8l4.1 0.8M485.4 142.6l4.7 3.2M341.7 137.9l-4.6 0.4M298.0 151.0l-4.6 1.1" stroke="#c8c050"/>
<path d="M371.1 160.0l-3.3 3.3M365.4 166.1l-0.9 2.7M386.2 157.6l2.1 -2.8M398.5 155.5l3.6 0.2M402.2 155.7l2.8 0.8M396.0 163.3l3.0 -1.5M397.9 159.0l1.7 -4.0M399.7 155.0l-0.2 -5.0M385.5 171.4l-2.7 2.1M355.7 166.1l1.7 1.8M357.5 167.9l0.3 2.9M401.1 137.6l3.9 -1.2M428.8 161.1l3.4 1.2M364.7 159.1l-3.2 2.0M417.3 167.8l4.6 -0.2M360.6 150.2l-3.2 -3.5M378.8 158.5l-3.1 0.8M386.5 167.0l1.4 -3.0M378.0 155.6l-4.5 1.3M362.7 158.9l-2.3 -3.3M429.7 142.8l3.3 -2.4M459.5 127.8l4.8 -3.4M494.3 148.6l4.9 2.6M375.8 171.9l0.5 3.6M326.2 141.8l-6.2 0.7M303.0 151.3l-5.0 -0.3" stroke="#11ccbb"/>
<path d="M410.0 147.1l-4.5 0.1M397.3 145.4l-2.3 -1.4M337.1 160.1l-3.6 -3.0M387.6 136.1l1.6 2.9M374.3 161.5l2.8 0.2M349.8 155.7l-2.2 -3.0M351.4 160.6l2.7 2.4M382.8 136.9l-0.6 -3.0M392.4 130.0l2.4 -1.7M376.0 130.5l2.7 -3.3M431.0 165.9l0.9 -2.4M384.4 152.8l2.2 1.8M386.7 154.6l-2.7 4.2M381.4 147.3l3.0 2.8M384.3 150.1l-4.4 -0.6M362.3 149.0l1.9 -4.1M383.5 155.9l1.1 2.9" stroke="#dd33ff"/>
<path d="M415.5 136.0l-1.0 3.3M351.7 166.1l-3.8 0.5M392.4 141.4l1.7 3.9M367.8 163.2l-2.4 2.9M382.2 130.7l2.1 2.7M384.1 140.2l-3.4 -2.0M383.1 164.6l1.4 -4.5M385.2 161.2l4.5 -0.8M372.1 159.3l4.1 0.2M364.4 157.4l-2.9 -3.3M347.7 152.6l-0.5 -2.9M396.8 126.7l3.3 -0.7M354.3 152.7l1.6 -2.5M363.2 150.4l-1.9 -2.5M361.4 147.9l-4.5 -0.4M353.5 145.6l-3.9 -2.8M349.6 142.8l-1.1 -3.1M383.9 158.7l1.9 3.8M383.3 164.9l-1.6 4.2M383.3 177.7l-2.8 -1.5M415.6 166.4l-1.0 2.4M380.2 157.4l-2.2 -1.8M360.2 153.1l2.1 -4.1M464.3 124.4l2.3 2.9M376.4 175.5l-1.0 4.9M375.3 180.5l-0.1 6.2M293.4 152.1l-4.3 1.1M260.7 165.1l-4.9 -0.4" stroke="#88dd33"/>
<path d="M375.5 180.6l-1.7 -2.3M378.3 144.5l-3.6 -1.0M348.7 160.9l0.4 4.5M390.9 139.8l4.0 -0.1M397.4 157.6l2.1 -3.8M383.9 166.3l3.5 -2.4M391.2 160.9l3.6 -2.0M401.4 154.6l4.2 -2.4M347.2 175.8l-3.7 3.1M382.3 164.1l-0.7 -3.0M394.4 125.9l0.1 1.4M373.5 150.9l-3.7 -1.4M369.8 149.5l-1.8 -1.8M413.0 140.0l-2.7 -0.2M405.9 139.8l-3.9 -3.0M349.0 139.5l-1.5 4.0M397.9 130.9l2.8 2.6M381.7 140.0l3.0 -2.3M410.9 169.2l2.1 -2.0M395.1 151.2l-2.9 -5.4M394.3 128.3l4.5 -2.4M409.3 153.6l5.3 1.3M420.4 154.8l5.7 -2.5M438.4 138.9l0.3 -6.3M388.4 158.0l-5.8 -0.3M333.4 149.0l-4.0 -3.9M305.6 167.0l-1.4 3.3" stroke="#00ccff"/>
<path d="M357.9 165.0l-2.1 -4.1M358.5 138.1l-1.7 -1.9M423.2 168.2l4.2 -0.7M370.8 164.0l3.8 -0.6M381.6 161.1l-0.5 -3.9M361.7 149.4l-2.8 1.1M390.7 148.5l3.5 2.5M353.7 128.0l-2.9 3.4M354.6 146.4l-0.4 -2.9M349.3 160.7l-4.0 1.2M384.7 137.7l1.5 3.0M408.9 161.4l2.1 1.4M389.1 143.1l0.6 -5.2M392.0 132.6l2.3 -4.3M414.6 154.9l5.8 -0.2M304.7 175.4l3.0 3.3" stroke="#3344ff"/>
<path d="M370.4 127.2l-2.8 3.5M406.8 146.4l4.5 -0.8M434.8 164.9l1.5 3.7M380.2 167.8l3.7 -1.5M387.4 163.9l3.8 -3.1M389.9 173.1l0.6 4.9M338.1 179.5l-1.3 -4.4M386.0 174.0l-3.8 1.1M395.2 131.0l-2.4 1.8M387.5 128.0l-1.0 -2.3M356.4 151.7l-3.0 -3.2M348.5 147.4l-2.3 4.2M358.0 140.8l4.6 0.3M394.9 126.0l0.3 2.6M409.0 135.5l-0.2 4.2M367.7 159.7l0.8 -2.9M391.5 145.8l2.2 1.4M399.6 164.4l2.4 2.1M404.7 170.7l1.3 2.4M369.6 151.7l-4.7 1.8" stroke="#ff22cc"/>
<path d="M362.9 170.0l-2.1 -3.2M360.9 136.7l-2.4 1.3M385.1 137.6l0.7 3.9M382.3 145.8l2.2 -4.1M368.4 165.8l2.4 -1.8M390.6 177.9l0.8 3.8M383.6 150.4l0.7 -3.0M384.3 147.5l-3.1 -1.5M391.0 163.9l-2.9 0.8M385.4 162.2l-2.2 2.5M394.6 127.3l0.7 3.7M392.8 132.8l-3.9 -2.3M389.0 130.5l-1.5 -2.5M390.4 144.5l0.2 4.1M394.2 151.1l-0.3 2.7M354.2 143.5l3.8 -2.7M397.0 152.5l-0.3 2.9M404.4 157.9l-3.8 -3.8M325.7 142.8l-4.6 -4.1M304.4 162.9l1.2 4.2" stroke="#ff4488"/>
<path d="M371.8 167.6l-2.3 -1.7M367.2 167.3l-0.1 3.3M367.6 130.7l-4.5 2.2M347.3 131.9l-1.2 -4.2M349.1 170.0l-4.3 1.8M376.9 147.0l3.9 1.2M380.8 148.2l1.4 -2.4M401.9 150.8l0.7 -4.5M411.3 145.5l3.0 0.6M440.4 178.4l1.4 4.1M375.0 139.0l-2.7 0.8M386.1 169.5l-2.4 -1.8M388.1 164.7l-2.7 -2.5M347.5 143.5l1.7 2.2M404.9 132.3l1.9 1.7M412.9 138.8l1.5 -2.9M359.8 155.3l-4.7 -0.2M408.9 157.7l0.1 3.7M392.2 145.8l-3.1 -2.7M413.9 135.2l5.3 1.1M326.2 133.8l-3.0 -2.9M323.1 130.9l-5.0 -1.3M308.1 142.3l-1.4 3.3M306.7 145.7l-0.2 6.1" stroke="#e8d840"/>
<path d="M377.8 141.2l0.9 -3.8M351.3 159.2l-2.6 1.7M344.7 171.8l-3.8 0.1M345.6 163.4l2.8 2.1M436.3 168.6l1.3 3.1M340.7 179.3l-2.6 0.2M380.1 175.2l-2.5 1.8M377.6 177.0l-0.5 4.4M392.4 144.9l-1.5 -4.4M365.4 147.9l-3.7 1.5M396.8 141.8l-4.8 0.7M357.2 128.0l-3.5 -0.0M395.2 128.6l2.7 2.3M392.9 155.3l-1.5 -3.1M408.7 153.6l0.2 4.1M405.1 131.6l3.0 2.2M425.5 130.2l4.4 -4.0M437.8 143.0l0.6 -4.1M438.7 132.6l4.0 -4.2M400.7 154.1l-4.3 -1.4M304.7 157.1l-0.2 5.8" stroke="#22dd55"/>
<path d="M367.0 170.6l-4.1 -0.7M370.2 146.7l-3.1 1.0M362.3 159.3l-4.5 0.9M419.4 167.2l3.8 1.0M336.6 171.0l-2.1 -3.3M381.0 157.2l1.9 -3.9M382.9 153.3l0.7 -2.9M390.9 140.5l0.2 -3.3M408.9 130.5l0.2 -2.6M352.7 143.5l-4.0 -0.1M350.6 136.1l-1.5 3.5M353.5 158.5l-4.2 2.2M395.0 150.6l1.9 1.9M411.0 162.8l1.8 2.4M417.5 164.2l2.6 -3.2M420.1 161.0l1.3 -3.2M395.3 170.0l0.5 -3.2M401.9 166.6l0.8 2.6M389.7 137.9l2.3 -5.4M419.2 136.3l3.6 -2.3M434.0 146.4l3.9 -3.5M391.9 154.2l-3.5 3.8M364.9 153.4l-3.6 2.4M329.5 145.1l-3.8 -2.3M307.6 178.7l2.8 5.5" stroke="#9955ff"/>
<path d="M399.6 153.8l2.3 -3.0M374.6 163.4l2.8 0.8M372.9 150.7l-1.5 3.2M363.1 163.3l0.5 4.9M363.3 172.4l-2.9 0.6M349.9 173.9l-2.7 1.9M336.8 175.2l-0.2 -4.2M383.6 167.6l-1.3 -3.5M383.2 164.7l-0.7 3.5M358.9 150.5l-2.5 1.2M348.8 143.4l-0.3 4.0M410.3 139.9l-4.4 -0.1M368.3 166.0l0.1 -3.6M368.6 156.7l-0.9 -2.9M355.1 155.1l-1.7 3.4M399.9 151.2l-4.7 0.0M408.1 133.7l5.9 1.5M406.3 151.6l3.0 2.0M382.6 157.6l-4.5 -0.6M338.0 150.8l-4.6 -1.8M315.5 137.2l-3.7 3.1" stroke="#ff3333"/>
<path d="M373.7 178.3l0.8 -3.3M360.9 166.8l-3.0 -1.8M349.0 165.4l0.0 4.6M348.4 165.5l2.0 3.5M373.6 148.6l3.3 -1.6M394.9 139.7l0.1 3.2M402.5 146.4l4.2 -0.0M414.3 146.1l3.6 2.7M427.4 167.6l2.5 -2.7M373.1 147.3l-0.2 3.4M363.6 168.2l-0.3 4.1M387.6 171.6l-1.5 -2.2M392.2 130.2l2.2 -4.2M368.0 147.7l-2.5 0.3M353.4 148.5l-0.7 -4.9M411.4 144.6l1.6 -4.6M406.8 134.0l2.2 1.5M408.8 139.7l-0.8 4.5M402.8 148.0l3.5 3.6M378.1 157.1l-5.1 -3.1M306.4 151.8l-1.7 5.3M304.2 170.3l0.5 5.1" stroke="#ff9922"/>
<path d="M382.3 136.2l2.8 1.4M370.3 141.3l0.9 4.3M371.1 145.5l2.5 3.0M384.5 141.7l3.8 -0.9M414.8 166.8l4.5 0.4M429.8 164.9l4.9 0.1M398.6 157.0l2.8 -2.4M369.5 143.9l3.6 3.4M362.6 128.1l-4.1 -1.0M390.7 155.8l2.0 4.3M392.6 160.1l-1.6 3.8M384.3 171.3l1.7 2.7M401.9 136.8l-2.3 1.7M392.1 142.5l-1.6 2.0M349.3 145.7l3.5 2.6M367.7 153.8l-3.6 1.6M393.7 147.2l1.4 3.3M396.8 163.1l2.7 1.3M361.3 155.9l-4.8 0.2M356.6 156.1l-5.9 -1.4M342.6 149.9l-4.6 0.9" stroke="#44bbee"/>
<path d="M374.5 174.9l-1.2 -4.5M373.3 170.5l-1.5 -2.9M363.2 132.8l-2.3 3.9M374.7 143.6l-2.7 0.3M354.6 156.9l-3.4 2.3M340.9 171.9l-2.6 0.5M350.5 178.4l-2.9 3.6M388.2 140.9l2.7 -1.0M390.5 160.5l3.7 -1.3M437.5 171.7l1.8 4.3M332.1 164.5l-2.3 -4.0M327.4 159.4l-3.7 -2.8M352.8 148.3l1.8 -1.8M396.7 155.4l-3.7 -0.1M391.4 152.2l-0.7 -3.7M412.8 165.2l4.7 -1.0M318.2 129.6l-4.3 -4.0M431.6 149.3l2.3 -2.9M407.1 160.9l-2.7 -3.0M396.3 152.7l-4.5 1.5M373.0 153.9l-3.4 -2.3M347.4 153.4l-4.7 -3.5" stroke="#c8c050"/>
<path d="M354.3 134.2l-3.1 -3.7M351.1 130.6l-3.8 1.3M385.8 141.5l-3.2 2.5M338.3 172.4l-4.2 -2.6M350.4 169.0l0.7 4.8M394.2 159.2l3.2 -1.5M422.5 150.5l3.6 2.7M410.7 164.9l4.2 1.9M439.3 175.9l1.1 2.5M377.4 164.2l2.7 3.6M394.7 158.9l3.8 -1.8M334.5 167.7l-2.3 -3.2M388.5 174.7l-1.0 -3.1M387.3 151.0l4.1 1.6M391.4 152.7l-0.7 3.1M350.7 131.3l-0.1 4.7M400.7 133.5l4.2 -1.3M406.1 173.1l3.8 -0.8M398.8 125.8l2.8 2.2M422.9 134.0l2.6 -3.8M400.8 143.0l2.0 5.0" stroke="#11ccbb"/>
<path d="M356.8 136.1l-2.5 -1.9M378.6 137.4l3.7 -1.2M382.6 144.0l-4.3 0.5M372.0 143.9l-1.9 2.8M334.1 169.8l-1.8 -3.6M395.0 142.9l3.1 0.6M417.9 148.8l4.6 1.7M371.4 153.9l-3.4 3.3M368.1 157.2l-3.3 3.0M364.8 160.2l-1.7 3.2M343.5 178.9l-2.8 0.4M329.9 160.6l-2.5 -1.1M381.1 146.0l-0.6 -3.8M382.5 168.2l1.8 3.1M391.1 137.3l-0.7 -3.4M390.4 133.9l1.9 -3.7M399.7 138.5l-2.9 3.3M408.0 144.2l3.7 -0.7M364.1 155.4l-4.3 -0.1M386.3 140.7l2.3 1.9M388.5 142.6l3.0 3.2M400.0 149.2l1.9 -1.9M401.9 147.3l3.6 3.4M395.9 166.8l1.0 -3.6M402.7 169.2l2.0 1.5M409.8 172.3l1.1 -3.1M401.7 128.1l3.4 3.5M426.1 152.2l5.5 -2.9M321.1 138.7l-5.6 -1.5" stroke="#dd33ff"/>
<path d="M369.5 165.9l-2.3 1.4M377.7 145.8l0.0 -4.6M357.8 160.2l-3.2 -3.3M351.1 173.8l-0.6 4.6M372.2 139.8l-2.7 4.1M410.0 135.3l-1.1 -4.8M411.7 143.5l1.2 -4.8M368.4 162.4l-0.6 -2.8M345.3 161.9l0.2 -4.0M396.0 151.8l4.0 -2.5M405.4 150.8l3.2 2.9M413.1 167.2l-2.2 -2.8M350.7 154.6l-3.3 -1.2M311.9 140.3l-3.8 2.1" stroke="#88dd33"/>
<path d="M382.9 151.7l2.7 -0.1M355.9 169.0l-1.5 -2.2M358.5 158.9l2.9 -3.1M396.7 153.9l2.7 0.9M406.7 153.3l4.0 -2.7M378.5 154.5l-3.2 1.7M386.2 157.7l0.6 -2.9M358.2 154.5l2.1 3.6M350.8 159.5l3.3 1.6M403.7 179.3l-3.0 0.1M398.1 181.5l-3.7 2.9M406.9 165.3l3.0 0.1M441.3 129.0l4.1 1.1M465.7 144.7l5.1 1.5M423.5 182.6l-4.8 3.4M375.0 159.3l5.6 -0.9" stroke="#00ccff"/>
<path d="M404.1 142.3l0.1 3.6M394.9 170.6l-2.4 4.3M385.6 151.6l-1.0 -2.5M361.4 155.9l2.3 4.0M403.4 155.2l3.3 -1.9M410.6 150.6l3.8 -3.0M414.4 147.6l1.1 -3.2M375.5 160.6l3.9 1.3M385.7 160.3l-4.9 0.5M380.8 160.8l-2.4 -2.0M380.8 175.8l3.4 -0.8M360.4 158.1l-3.7 0.6M401.8 177.7l-0.6 2.9M388.0 151.7l2.2 -2.9M390.2 148.8l1.1 -2.7M349.9 171.8l-3.5 -1.0M341.6 166.0l-2.4 -2.5M339.2 163.6l1.3 -3.9M393.6 166.1l2.2 1.3M383.1 128.6l2.7 -3.6M395.9 169.4l-3.4 1.1M371.6 181.2l-1.6 -3.0M370.0 178.2l-0.3 -2.9M420.7 148.8l1.8 -1.9M380.6 158.4l3.4 -3.6M384.0 154.8l2.7 -4.1M406.4 156.0l1.3 3.4" stroke="#3344ff"/>
<path d="M406.2 152.2l-1.8 -3.2M391.2 168.7l3.7 1.9M386.6 178.2l-1.5 4.2M378.1 155.1l2.0 -2.1M361.8 143.9l-2.8 -1.4M369.9 168.2l-3.4 3.2M385.4 131.4l3.8 1.8M392.8 130.1l-0.1 -3.3M391.1 161.4l-2.1 -2.3M356.7 158.7l-4.4 0.9M352.2 159.6l-1.5 2.9M347.5 167.5l-0.3 -3.5M377.6 174.8l-4.3 1.2M376.7 170.8l3.2 2.8M422.6 146.9l4.9 -1.0M445.4 130.1l4.5 3.4M460.1 137.9l2.8 4.1M487.5 150.2l5.0 2.1" stroke="#ff22cc"/>
<path d="M407.7 154.7l-1.5 -2.5M380.1 152.9l2.9 -1.3M385.6 143.4l-1.4 -3.8M354.7 148.5l3.4 -2.0M351.0 146.2l-2.5 1.1M348.5 147.3l-3.7 0.2M354.2 159.2l4.3 -0.3M363.7 159.8l3.7 3.1M322.7 176.1l3.1 3.3M384.2 174.9l2.5 2.5M350.8 165.2l-3.3 2.3M347.3 164.1l-0.5 -2.5M395.8 167.5l1.4 2.4M397.2 169.8l2.2 -1.9M407.3 164.3l-0.5 -4.1M377.2 132.4l2.9 -2.7M396.3 137.5l3.9 0.6M403.6 162.1l-1.0 4.2M382.2 176.4l1.7 4.4M379.4 167.2l4.3 2.1M386.2 172.3l3.4 1.6M401.3 164.9l2.8 0.7M369.8 151.1l-1.9 -4.6M359.3 138.5l-4.0 1.4M436.3 128.9l5.0 0.1M344.2 168.1l-5.3 1.6" stroke="#ff4488"/>
<path d="M390.5 176.4l-3.9 1.8M363.6 130.1l4.5 -1.9M344.9 147.4l-4.7 1.3M382.2 134.8l3.2 -3.4M382.8 160.3l3.4 -2.6M377.9 179.2l2.9 -3.4M391.4 170.4l1.4 -3.2M383.4 166.9l-4.7 -1.5M376.1 162.4l-0.6 -4.0M385.4 152.4l2.6 -0.7M356.1 170.0l-3.6 1.0M403.3 165.6l4.0 -1.3M401.5 151.3l1.2 3.2M379.6 172.9l-2.0 1.9M393.6 175.5l1.0 2.7M388.2 176.7l-1.1 -3.6M354.2 144.7l-3.0 -0.2M349.4 147.0l-2.3 2.6M427.4 145.9l2.6 -0.5M470.8 146.2l4.8 1.0M332.0 172.0l-1.7 5.7M362.0 139.1l0.2 4.0M410.3 164.9l2.5 5.9" stroke="#e8d840"/>
<path d="M402.6 148.2l-3.6 2.6M404.9 156.9l2.8 -2.3M383.9 136.9l-1.2 -2.7M403.2 135.7l1.5 -4.8M404.8 128.0l-0.2 -3.3M359.0 142.4l-3.4 1.9M340.2 148.8l-4.9 0.6M375.4 139.5l-3.7 -2.7M425.0 141.1l1.6 2.4M403.9 175.2l-2.1 2.5M382.9 154.8l2.5 -2.4M346.3 170.8l-2.4 -2.6M373.9 138.0l1.0 -4.4M402.7 166.3l-2.4 3.0M393.3 164.8l-1.7 -1.9M388.6 162.0l-4.0 2.2M380.6 180.6l-4.4 -1.1M374.1 170.8l2.6 0.0M397.4 163.6l3.9 1.3M365.3 143.5l-4.2 -2.6M405.2 154.6l2.8 1.9M414.6 154.0l2.6 -1.0M417.2 153.0l1.8 -2.0M449.9 133.5l3.6 0.3M334.2 168.7l-2.2 3.2M426.6 180.5l-3.1 2.2" stroke="#22dd55"/>
<path d="M401.4 150.5l-2.3 1.6M384.5 165.3l4.4 -0.1M384.6 149.0l1.3 -2.7M349.4 155.6l3.3 -2.8M354.3 166.8l-0.6 -4.5M367.4 162.9l3.4 1.6M371.7 136.8l2.2 -3.5M329.7 169.9l-2.4 3.1M379.4 161.9l3.4 -1.6M390.5 175.9l3.2 0.8M401.2 180.6l-2.5 1.8M360.3 166.6l2.4 0.8M340.5 159.7l3.5 -1.8M390.9 162.8l2.8 3.4M406.8 160.2l-3.3 -1.8M382.2 173.1l-2.6 -0.2M369.7 175.3l0.2 -3.4M383.9 180.8l1.9 3.8M389.6 173.9l4.0 1.6M391.4 178.7l-1.0 2.6M390.8 165.8l2.9 0.1M361.1 141.0l-1.8 -2.5M408.0 156.5l4.5 -0.6M430.0 145.3l4.3 1.9M412.8 170.8l-1.3 4.5" stroke="#9955ff"/>
<path d="M399.0 150.8l-1.3 2.3M397.7 153.1l3.0 1.5M388.9 165.2l2.4 3.5M371.6 160.3l2.0 -3.4M385.9 146.3l-0.3 -3.0M352.7 152.8l2.0 -4.3M353.7 162.4l0.5 -3.2M379.9 139.4l-4.5 0.2M386.9 154.8l1.5 4.0M359.2 150.2l-1.0 4.2M379.0 159.4l3.3 -0.9M352.5 171.0l-2.6 0.9M403.5 158.4l-0.9 2.8M399.7 146.9l1.8 4.3M402.7 154.5l-0.0 4.4M380.0 173.6l2.3 2.8M390.9 178.4l-2.7 -1.7M387.0 173.1l0.1 -4.4M347.1 149.5l-0.0 3.0M412.4 155.9l2.2 -1.9M366.7 151.8l3.5 4.9M405.1 180.7l-5.1 1.0" stroke="#ff3333"/>
<path d="M370.8 164.5l-0.9 3.7M377.1 129.2l1.9 2.9M325.8 179.4l2.6 3.4M386.7 177.4l4.4 0.7M350.7 162.5l0.1 2.8M382.3 158.5l0.6 -3.7M359.6 170.3l-3.4 -0.3M401.4 142.9l-1.7 4.0M404.0 165.6l2.9 -0.3M367.9 146.5l-2.7 -3.0M355.3 139.9l-1.2 4.8M457.8 134.8l2.2 3.1M498.6 150.4l5.2 3.5M392.2 147.9l4.1 1.9M411.5 175.3l-2.2 3.0M409.3 178.3l-4.2 2.4" stroke="#ff9922"/>
<path d="M385.1 182.4l-2.6 7.1M374.6 129.9l2.5 -0.7M415.5 144.5l2.1 -1.7M362.7 167.4l-3.1 3.0M399.4 167.9l3.9 -2.3M407.3 180.7l-3.5 -1.3M373.4 176.0l-3.8 -1.1M369.9 171.9l4.2 -1.1M347.1 152.5l-1.5 3.6M453.4 133.7l4.4 1.0M492.5 152.3l6.1 -1.9M386.7 150.7l5.5 -2.8M396.4 149.9l4.6 4.1" stroke="#44bbee"/>
<path d="M359.4 169.5l-3.5 -0.5M381.6 141.9l-1.8 -2.6M399.4 154.8l4.1 0.4M420.8 141.3l4.2 -0.2M375.3 156.2l0.2 4.5M383.8 162.5l3.3 -0.4M400.3 169.3l-4.4 0.1M396.4 163.5l-3.1 1.2M391.7 162.8l-3.0 -0.8M394.6 179.6l-3.7 -1.2M351.2 144.5l-1.8 2.4M475.6 147.2l3.4 1.7M338.9 169.7l-4.7 -1.0" stroke="#c8c050"/>
<path d="M400.7 154.7l4.2 2.3M373.6 156.9l4.4 -1.8M384.3 139.5l-0.4 -2.6M404.6 131.0l0.2 -3.0M358.1 146.4l3.7 -2.6M355.6 144.3l-4.6 1.9M378.9 132.2l3.3 2.6M388.3 158.8l-2.7 1.5M392.8 167.2l-0.4 -3.1M392.3 164.1l-1.3 -2.7M389.0 159.1l0.4 -2.9M398.0 175.2l4.1 -2.5M387.8 168.3l-4.4 -1.4M344.0 168.2l-2.3 -2.1M380.1 129.7l3.0 -1.1M400.2 138.1l1.2 4.9M376.2 179.5l-4.6 1.7M393.8 165.9l3.6 -2.3M419.0 151.1l1.7 -2.3M430.3 126.6l6.0 2.3M330.3 177.6l-3.5 4.1M365.4 146.8l1.2 5.0M400.9 154.0l5.5 2.0M400.1 181.8l-2.1 0.4" stroke="#11ccbb"/>
<path d="M404.4 148.9l-3.0 1.6M368.1 128.2l-1.6 -1.9M385.4 141.3l-3.8 0.6M334.1 162.6l-2.9 3.7M327.3 173.0l-3.1 -0.8M381.8 153.3l-3.3 1.2M392.6 174.6l-1.3 -4.2M402.1 172.7l1.8 2.5M400.7 179.4l-2.6 2.1M402.7 158.9l0.9 3.2M384.6 164.3l0.0 4.2M383.9 171.2l-1.7 1.9M383.7 169.3l2.5 3.0M394.6 178.2l-3.2 0.5M403.0 151.9l2.2 2.7M462.9 142.0l2.8 2.7M370.2 156.8l4.9 2.6" stroke="#dd33ff"/>
<path d="M404.2 145.9l-1.6 2.3M392.5 174.9l-2.0 1.6M405.0 138.2l-1.9 -2.4M373.9 133.3l0.7 -3.4M331.2 166.2l-1.5 3.7M324.2 172.2l-1.5 3.9M393.0 152.4l3.7 1.5M417.6 142.8l3.2 -1.5M391.1 178.1l1.6 -3.5M346.7 161.5l4.1 -2.0M393.7 176.7l4.3 -1.5M378.7 165.4l-2.6 -3.0M375.5 158.5l3.5 0.9M387.1 162.1l3.8 0.6M374.8 133.6l2.4 -1.2M384.6 168.5l-0.7 2.7M387.2 168.7l3.7 -2.9M479.0 149.0l4.2 -1.1M483.2 147.9l4.3 2.3M326.8 181.7l-2.3 2.7M426.3 174.6l0.3 5.8M362.1 143.1l3.3 3.8M407.7 159.4l2.6 5.5" stroke="#88dd33"/>
<path d="M340.1 171.4l-4.0 1.0M410.0 144.6l3.0 2.6M386.4 147.4l-0.9 -4.5M373.7 158.5l-2.9 -1.6M373.9 155.4l0.0 -4.3M378.3 143.4l2.2 1.9M376.2 168.3l2.1 1.9M418.0 134.6l3.0 1.6M424.0 139.0l1.2 2.6M425.2 141.6l3.4 2.6M356.7 143.2l-1.3 -3.9M361.2 170.2l0.8 -4.4M370.5 168.4l-0.4 4.0M370.1 172.4l0.2 3.0M371.4 179.1l-2.9 2.1M398.7 137.2l4.8 0.1M402.8 129.3l-3.6 -1.4M368.0 150.1l-1.8 3.7M417.6 136.4l-0.7 -2.5M372.3 159.3l-0.4 -2.6M371.9 156.6l1.8 -2.4M379.3 144.9l2.8 -1.4M421.4 164.4l3.9 -1.5M422.8 131.8l2.8 3.8M431.1 166.6l1.0 4.6M443.1 181.0l4.6 1.6M346.7 150.4l-3.9 -1.8M331.5 144.4l-4.8 1.2M321.9 144.3l-3.6 -0.9" stroke="#00ccff"/>
<path d="M413.6 133.3l-1.2 -3.9M343.9 172.2l-3.8 -0.8M328.9 171.6l-2.6 3.1M403.1 140.2l4.9 -0.0M369.3 127.3l-3.4 0.2M373.9 151.1l2.8 -1.6M375.2 162.1l-1.0 3.7M435.8 151.2l-3.1 2.2M415.2 151.6l-1.4 3.1M414.2 157.7l0.6 2.8M356.2 150.4l-0.7 -3.4M370.3 175.4l1.2 3.7M427.5 175.5l2.6 -0.1M435.1 178.0l3.4 1.1M394.6 137.4l4.1 -0.2M423.4 150.9l1.5 -3.6M357.0 158.0l-3.1 -3.3M426.5 142.1l-4.1 -0.4M334.1 148.8l-2.4 -2.5M374.8 135.9l0.1 4.2M375.1 143.0l-0.9 3.7M361.5 134.4l3.2 2.9M381.4 147.9l-2.4 2.9M416.8 166.1l4.6 -1.7M376.6 126.5l3.0 3.7M409.0 138.4l3.8 -1.6M415.5 134.1l3.7 -2.6M434.8 175.9l5.3 2.7M440.1 178.6l3.0 2.4M349.0 141.3l2.1 4.3M351.2 145.6l0.8 5.3" stroke="#3344ff"/>
<path d="M381.2 140.4l1.6 -2.8M376.7 128.8l-4.9 0.6M375.7 165.1l0.3 -4.7M367.0 156.6l-2.7 2.1M376.6 149.5l0.2 -4.0M383.2 146.7l0.1 4.3M415.2 134.2l2.8 0.4M432.6 147.9l3.2 3.3M402.3 125.9l1.7 2.2M405.4 130.6l4.7 0.9M410.1 131.5l-3.1 3.3M415.4 145.6l0.2 2.6M374.3 161.3l-2.6 2.5M384.1 158.2l3.5 -2.7M354.6 157.5l0.9 -3.4M438.5 179.1l2.8 2.2M360.6 175.8l-2.1 -3.3M352.2 152.0l-2.3 -2.0M379.2 141.2l-1.4 2.5M332.2 165.4l-2.1 -1.4M378.3 165.2l-3.3 -3.0M366.7 152.1l-3.4 3.2M392.8 136.3l4.2 -1.9M404.0 176.9l-1.5 -2.8M402.5 174.1l-3.6 -0.6M359.9 131.8l1.6 2.6M368.4 136.0l2.2 2.9M348.5 145.6l-2.3 -5.9M426.5 130.7l-2.4 -4.8M391.0 133.7l3.5 0.3M427.0 143.6l-3.4 3.1" stroke="#ff22cc"/>
<path d="M333.3 171.9l-4.4 -0.2M369.9 157.8l2.9 0.8M357.2 158.6l-4.8 0.9M374.2 156.4l2.0 2.0M378.3 170.3l2.6 1.9M414.5 168.0l-2.6 1.5M399.3 125.4l3.0 0.6M404.0 128.1l1.4 2.5M387.6 155.5l2.7 0.7M357.4 132.2l1.7 -4.3M359.1 128.0l1.3 -2.4M370.4 172.0l-2.5 2.1M422.6 153.6l0.8 -2.7M363.1 135.9l-2.0 -4.5M429.3 155.7l-0.3 -4.6M429.0 151.1l2.4 -2.4M334.2 163.5l-2.0 1.8M334.5 142.7l3.8 -2.0M400.8 131.4l3.0 -0.7M412.7 136.8l2.8 -2.7M419.2 131.5l3.6 0.3M427.3 162.7l3.8 3.9" stroke="#ff4488"/>
<path d="M383.7 139.7l-2.3 -1.1M382.7 137.6l0.5 -3.1M370.8 156.8l-3.8 -0.3M411.5 142.2l2.5 0.5M414.0 142.7l1.3 2.9M369.8 166.0l1.0 2.8M364.6 157.2l-0.7 3.4M371.3 142.9l-2.8 -3.2M368.6 139.7l-1.1 -3.0M371.1 148.8l-4.7 0.0M366.3 148.8l-3.6 0.7M374.8 140.1l0.3 3.0M400.4 180.7l2.7 -1.1M398.5 176.1l-3.3 3.7M394.3 184.2l-0.6 2.9M351.2 149.8l-2.7 -4.2M333.0 128.7l-3.8 -4.3M429.3 158.7l2.7 -5.2M425.7 135.6l2.1 3.8M423.2 150.7l1.9 3.7M425.1 154.4l1.4 4.1M344.2 133.8l1.5 4.6" stroke="#e8d840"/>
<path d="M412.3 129.4l-2.2 -2.6M383.9 143.0l3.9 -0.2M376.1 158.4l-2.3 -3.0M374.2 165.7l1.9 2.6M383.9 174.3l2.4 1.0M414.8 160.5l0.3 4.4M411.9 169.5l-3.5 2.4M390.3 156.2l0.9 -3.3M366.2 169.1l-1.4 -2.4M408.2 159.5l1.9 2.5M338.1 164.6l-4.0 -1.0M328.8 159.5l3.7 -3.4M403.1 179.6l0.9 -2.7M398.8 173.5l-0.4 2.6M414.1 170.5l2.6 -4.4M386.8 132.7l4.2 1.0M345.7 138.4l3.3 2.9M339.5 144.8l-3.6 -0.8M312.3 132.7l-2.1 -3.3" stroke="#22dd55"/>
<path d="M345.8 165.8l3.6 -0.3M349.4 165.5l-1.7 3.8M391.7 142.8l3.0 1.9M394.6 144.7l3.2 0.4M408.0 140.2l2.0 4.4M365.9 127.6l-3.6 -0.6M376.9 145.5l1.5 -2.0M380.6 145.3l2.6 1.4M424.2 136.4l-0.2 2.6M413.8 148.3l1.4 3.3M407.0 134.8l-0.3 3.0M355.5 154.0l0.7 -3.7M424.4 177.0l3.0 -1.5M432.1 177.3l3.1 0.7M377.8 143.7l-3.3 1.4M432.4 144.8l-3.5 -1.7M362.7 149.5l-4.9 0.3M403.8 130.7l2.6 0.3M395.2 179.8l-0.9 4.4M349.3 160.5l2.2 -3.6M351.6 156.9l1.3 -3.3M394.6 134.0l4.1 0.3M398.6 134.4l4.9 4.1M335.4 128.1l5.6 1.9" stroke="#9955ff"/>
<path d="M380.1 158.9l3.7 -0.9M371.8 129.4l-2.5 -2.1M428.6 144.2l2.5 1.4M368.8 165.2l1.7 3.2M430.1 175.4l2.0 1.9M419.7 155.8l2.9 -2.2M432.9 148.5l2.5 0.5M361.1 131.3l-0.2 -4.8M378.6 173.7l1.4 -4.2M368.8 150.4l-2.1 1.8M422.7 134.7l4.5 -1.6M382.1 143.5l2.9 1.6M352.9 153.5l-1.7 -3.7M425.3 162.9l4.0 -4.2M370.4 125.1l6.2 1.4M318.3 143.4l-4.2 -4.7" stroke="#ff3333"/>
<path d="M410.4 147.4l3.3 0.7M376.8 140.7l4.0 1.8M380.8 142.5l3.2 0.4M400.0 142.0l3.1 -1.8M381.4 138.6l-1.9 2.4M379.0 169.7l-0.4 -2.9M421.0 136.2l3.3 0.2M413.8 154.7l0.4 3.0M400.8 173.2l-1.6 -3.8M370.8 168.9l2.8 1.5M362.0 165.9l3.7 -1.2M405.5 131.2l-2.7 -1.9M363.9 160.6l2.5 2.0M415.5 157.6l4.2 -1.8M363.4 180.1l0.3 -2.9M360.2 169.1l-1.0 -2.7M349.9 150.0l-2.6 -1.8M428.9 143.1l-2.4 -1.0M421.6 138.9l-4.0 -2.5M332.4 156.1l2.0 -2.3M336.2 151.8l-2.1 -3.0M363.2 155.3l-1.1 2.7M362.2 158.0l-2.9 -1.2M397.0 134.4l3.8 -3.1M426.5 158.5l0.8 4.2M432.1 171.2l2.7 4.6M331.9 127.6l3.5 0.5" stroke="#ff9922"/>
<path d="M414.5 137.6l-0.9 -4.3M326.7 177.5l2.0 3.4M372.8 158.6l4.3 -0.4M386.5 155.2l-1.8 -3.6M380.7 130.5l-4.0 -1.7M372.5 154.2l1.7 2.2M431.1 145.5l1.5 2.4M408.4 171.9l-4.3 2.1M378.4 170.3l1.4 -3.8M366.9 166.9l2.1 2.4M367.9 174.1l0.8 -4.1M413.5 160.1l2.0 -2.5M357.7 162.1l-0.7 -4.1M330.1 163.9l-1.3 -4.4M334.4 153.8l1.9 -2.0M380.0 169.5l-1.7 -4.3M371.3 151.4l-0.2 -2.6M375.8 131.6l-1.1 4.3M415.2 133.5l3.3 1.2M385.1 145.1l-3.7 2.8M343.3 136.4l-1.5 -3.5M338.1 129.8l-5.2 -1.2M432.0 153.5l1.5 -5.5" stroke="#44bbee"/>
<path d="M417.8 140.3l-3.3 -2.7M341.3 165.7l4.5 0.1M347.7 169.3l-3.8 3.0M397.8 145.1l2.1 -3.1M383.9 158.0l2.7 -2.8M360.0 159.2l-2.7 -0.6M371.2 159.8l4.0 2.2M386.3 175.3l3.8 -2.7M415.1 164.9l-0.6 3.1M371.8 163.8l-2.0 2.2M356.0 135.8l1.4 -3.6M365.7 164.7l3.1 0.5M403.5 137.3l2.2 -3.1M405.7 134.2l-0.2 -3.0M429.5 147.9l3.4 0.6M435.3 149.0l3.3 -0.6M367.5 136.8l-4.4 -0.9M331.7 146.3l2.7 -3.6M418.5 134.7l4.1 -0.0M430.4 130.2l2.8 -1.5M370.6 138.9l4.2 0.2M346.1 139.7l-2.8 -3.2M410.5 174.7l3.6 -4.2M433.5 148.0l0.0 -4.9M379.6 130.2l2.9 3.6M427.8 139.5l-0.8 4.1M341.0 130.0l3.3 3.8M342.8 148.5l-3.3 -3.7M335.9 144.1l-4.4 0.4" stroke="#c8c050"/>
<path d="M413.7 148.1l2.0 -3.4M380.8 172.1l3.1 2.2M412.6 132.7l2.5 1.5M404.0 174.0l-3.2 -0.8M406.7 137.8l0.5 2.5M373.6 170.4l4.9 -0.1M381.0 162.0l3.1 -3.7M368.6 170.0l-2.4 -1.0M424.9 147.4l4.5 0.6M363.7 177.3l-3.1 -1.4M353.8 154.7l-1.7 -2.7M431.4 148.7l1.0 -3.9M413.9 132.0l-1.2 -3.5M359.3 156.9l-3.5 -2.1M406.5 131.0l4.2 1.1M427.2 133.1l3.2 -2.9M427.9 134.9l-1.4 -4.2M352.0 150.9l-5.3 -0.5M326.8 145.7l-4.9 -1.3M314.2 138.7l-1.9 -6.1" stroke="#11ccbb"/>
<path d="M336.1 172.4l-2.8 -0.5M387.8 142.8l3.9 0.0M385.4 142.8l-1.7 -3.2M383.3 134.6l-2.6 -4.1M378.7 173.1l0.3 -3.4M378.7 166.7l-2.9 -1.6M376.1 160.4l-2.4 -1.9M364.3 158.6l-4.4 0.5M383.2 151.0l1.0 2.7M407.2 140.3l4.3 1.8M379.8 166.6l1.2 -4.6M355.4 139.3l0.6 -3.5M366.2 153.8l-1.6 3.4M369.0 169.4l1.4 2.7M410.0 162.0l3.4 -1.9M358.5 172.5l1.7 -3.4M359.1 166.4l-1.4 -4.3M422.3 141.7l-0.7 -2.8M416.9 133.9l-3.0 -1.9M373.7 154.2l-2.4 -2.9M341.8 132.9l-3.7 -3.0M433.5 143.1l-3.1 -4.0M430.5 139.1l-2.6 -4.2M382.5 133.7l4.3 -1.1M423.6 146.7l-0.5 3.9" stroke="#dd33ff"/>
<path d="M415.6 144.7l2.2 -4.4M326.3 174.8l0.4 2.7M377.0 158.2l3.1 0.7M384.8 151.5l1.6 -4.1M362.2 156.8l4.4 1.7M366.6 158.5l4.6 1.3M390.1 172.6l-1.1 -3.3M355.5 147.0l1.2 -3.8M366.4 162.6l0.5 4.4M382.0 141.2l-2.8 0.1M374.5 145.2l-3.1 -2.2M375.0 162.1l-2.7 -2.9M374.2 146.7l-4.1 0.8M370.0 147.5l-1.3 2.9M410.7 132.1l4.5 1.4M364.7 137.4l3.7 -1.4M374.8 139.1l2.0 1.9M376.8 141.0l2.6 3.9M403.5 138.5l5.5 -0.1" stroke="#88dd33"/>
<path d="M404.7 147.5l4.1 0.4M400.6 160.7l-2.4 1.7M389.8 131.6l-0.8 -3.9M359.7 154.6l-1.5 -4.2M417.1 173.0l-0.6 -3.9M416.5 169.2l2.0 -3.5M418.7 161.7l3.1 -1.7M426.4 155.6l1.3 -2.7M387.2 130.1l1.1 -3.8M344.8 153.8l-0.3 -4.0M350.0 139.2l2.7 3.7M352.7 142.9l0.3 4.3M384.0 129.4l-2.7 -2.5M367.8 164.1l-0.0 -2.7M374.5 164.1l2.9 2.9M377.5 167.0l2.5 -2.3M406.6 172.0l4.7 -1.4M371.7 135.9l-2.1 -3.2M369.6 132.7l0.4 -4.5M373.4 167.2l3.4 -3.5M449.9 158.9l-1.9 4.0M429.6 154.9l3.9 -4.2" stroke="#00ccff"/>
<path d="M378.7 170.0l1.4 3.4M367.4 177.3l-2.9 -4.0M355.4 141.3l-3.3 1.3M384.7 133.7l1.5 3.6M416.5 168.7l2.2 -3.1M400.9 169.5l1.4 -4.5M412.6 162.0l2.4 -1.2M411.4 170.6l3.7 0.3M419.4 170.8l3.6 -2.8M423.3 164.7l3.2 -0.8M413.5 180.0l3.0 1.8M372.4 139.5l-0.8 -3.6M390.8 177.7l0.3 2.6M409.3 168.8l2.8 1.3M424.6 170.0l2.5 2.2M440.6 145.8l3.1 -1.6M436.9 174.9l-5.0 1.4M429.3 172.4l-2.7 -5.1M417.1 185.0l-1.1 6.2M344.0 146.5l-5.2 3.7M332.1 171.2l-5.3 1.9" stroke="#3344ff"/>
<path d="M400.2 146.2l2.4 -1.4M409.7 156.1l-2.5 1.2M382.0 182.4l1.6 2.5M361.9 174.0l-4.2 -0.0M352.1 142.6l-3.3 -0.1M355.8 162.7l-3.3 -0.8M419.1 162.8l-2.5 -2.3M414.0 159.2l-3.1 -1.3M408.0 160.4l-2.6 1.5M405.4 162.0l-4.7 0.2M436.3 145.1l2.1 -1.3M380.2 138.2l4.5 -1.7M384.7 136.5l1.5 -4.0M386.2 137.4l1.6 3.0M387.8 140.4l2.8 2.8M353.0 147.2l-1.4 2.9M350.5 153.2l2.2 4.3M429.4 173.4l3.0 -3.9M442.3 167.7l0.7 4.5M416.6 161.4l-2.6 -1.7M403.1 162.1l1.0 3.6M415.1 160.8l0.6 -2.8M415.6 151.1l-3.6 -2.5M398.3 177.6l-3.4 0.0M371.9 170.5l1.5 -3.3M431.8 176.2l-2.5 -3.9M426.6 167.2l-3.1 -4.8M401.4 132.0l-4.0 -3.1M349.4 144.5l-5.4 2.0M337.5 160.3l0.7 3.8" stroke="#ff22cc"/>
<path d="M380.6 176.8l-0.4 2.8M380.2 179.6l1.8 2.8M401.4 139.5l-3.8 -0.7M397.5 138.8l-3.1 -3.7M350.5 146.9l-2.1 3.8M367.7 166.4l-1.4 -2.8M423.8 155.8l2.6 -0.1M430.0 148.6l3.8 -2.4M386.3 132.4l1.0 -2.4M342.8 146.1l-0.9 -2.4M428.5 176.9l0.9 -3.5M394.0 135.0l-0.8 -2.6M376.5 158.8l-0.6 -3.5M375.8 155.2l-1.4 -2.1M408.2 168.6l1.0 3.2M409.6 162.6l3.1 -0.6M403.0 169.2l3.6 2.8M431.0 159.6l0.4 -3.5M383.8 174.7l-4.0 -2.6M439.4 162.7l-1.8 2.7M435.8 138.5l1.4 -3.4M337.6 154.6l-0.1 5.7M322.8 181.0l1.9 4.6" stroke="#ff4488"/>
<path d="M357.3 145.9l-1.9 -4.6M413.8 174.8l3.3 -1.8M443.0 172.2l0.7 2.5M412.0 179.4l-2.8 3.5M370.6 129.3l-0.9 -3.0M404.5 133.7l0.6 2.8M390.3 129.6l-1.0 -3.9M370.7 161.6l3.8 2.5M401.7 171.4l3.3 -1.4M370.5 154.3l-4.1 0.1M443.6 144.2l2.8 1.6M397.1 139.5l5.6 -3.2" stroke="#e8d840"/>
<path d="M407.2 157.2l-3.5 2.7M403.7 159.9l-3.0 0.8M398.2 162.4l0.9 3.2M352.7 174.2l-2.8 3.1M373.2 176.1l-2.8 -2.6M441.7 136.4l0.4 -4.9M343.5 140.2l4.1 -2.5M367.8 161.4l3.0 0.2M409.3 159.6l-4.7 0.3M406.8 163.6l2.8 -1.0M417.2 154.2l-1.6 -3.1M423.0 168.0l0.2 -3.3M403.8 152.6l0.1 4.8M408.4 166.2l3.6 3.1M373.1 173.7l2.0 3.6M452.2 156.2l-2.3 2.7M433.5 150.7l2.7 -5.7M326.8 173.0l-4.5 2.6M322.4 175.6l0.4 5.4M324.7 185.7l1.4 3.6" stroke="#22dd55"/>
<path d="M408.8 147.9l3.8 0.9M377.7 166.5l1.0 3.5M347.3 154.4l1.7 1.9M438.5 143.7l2.8 -3.3M351.6 150.1l-1.1 3.1M438.9 165.3l2.8 -0.5M441.8 164.9l0.6 2.9M446.0 176.2l2.7 -1.8M401.3 137.8l-3.9 0.2M419.2 161.9l-2.6 -0.5M394.8 177.6l-2.1 2.7M403.9 157.4l3.6 2.4M413.8 172.5l-3.3 3.1M410.9 179.3l2.5 0.8M373.2 165.9l-1.7 4.7M405.1 169.9l4.2 -1.1M397.4 128.9l-1.3 -4.3" stroke="#9955ff"/>
<path d="M412.5 148.8l-0.6 3.8M411.9 152.6l-2.2 3.4M350.6 159.1l1.1 -4.3M410.9 157.9l-2.9 2.6M427.7 152.9l2.3 -4.3M429.3 163.0l1.7 -3.4M379.0 179.0l2.8 3.8M412.1 170.1l1.6 -2.0M418.6 168.3l2.5 0.8M434.7 177.1l-0.0 4.6M418.0 179.8l-0.9 5.2M356.7 137.5l-4.7 4.2" stroke="#ff3333"/>
<path d="M394.5 135.1l-1.8 -3.9M362.1 157.8l-2.4 -3.3M366.3 163.6l-4.2 -1.5M344.5 149.8l-1.8 -3.7M406.2 129.0l-1.7 4.7M405.1 136.4l-3.9 1.3M397.4 138.0l-3.2 -0.4M393.2 132.5l-2.9 -2.8M414.0 159.8l-4.7 -0.2M407.2 149.3l-3.4 3.5M392.7 180.3l4.3 1.0M431.3 156.1l2.3 -3.6M408.6 163.2l-0.2 3.0M369.9 128.1l-0.3 -3.5M366.4 154.5l-4.6 -0.2M446.4 145.9l2.2 1.7M465.1 177.2l-4.8 1.1M454.5 179.9l-3.7 0.4M436.2 145.0l-0.3 -6.5M338.8 150.3l-1.2 4.3M338.1 164.2l-2.6 3.4" stroke="#ff9922"/>
<path d="M380.0 173.3l0.5 3.4M351.4 181.0l3.5 1.7M409.3 137.2l-3.6 2.3M388.3 126.2l-0.8 -1.3M347.7 137.7l2.3 1.5M413.2 169.9l-1.1 4.8M369.9 132.5l0.7 -3.2M402.3 165.0l4.5 -1.5M400.5 178.8l-2.3 -1.2M371.5 170.6l1.6 3.1M379.8 172.1l-4.2 -1.0M376.8 163.8l-1.7 -3.7M375.1 160.1l-1.9 -4.5M423.5 162.4l2.2 -3.1M360.5 138.2l-3.7 -0.7" stroke="#44bbee"/>
<path d="M374.5 162.8l3.2 3.7M352.4 162.0l-1.9 -2.9M418.5 165.7l0.6 -2.8M416.5 160.6l-2.5 -1.4M400.7 162.2l-0.8 -3.1M433.8 146.2l2.6 -1.1M436.9 167.4l2.1 -2.1M412.1 174.6l-0.2 4.8M412.2 169.1l4.3 -0.4M418.7 165.6l0.5 -3.7M415.6 158.1l1.6 -3.9M405.9 148.3l-2.1 4.4M407.6 159.8l1.1 3.4M413.7 168.1l4.9 0.2M448.6 147.6l2.6 2.0M451.2 149.6l0.3 4.2M448.0 162.9l-4.3 -1.3M441.6 175.5l-4.8 -0.6M437.3 135.0l0.3 -5.6M402.6 136.2l-1.2 -4.2" stroke="#c8c050"/>
<path d="M349.9 177.3l1.5 3.7M405.8 139.5l-4.4 -0.0M349.0 156.2l2.4 2.6M370.4 173.5l-2.7 -1.3M367.7 172.2l0.1 -2.8M367.8 169.4l-0.0 -3.0M421.8 159.9l1.9 -4.2M441.3 140.4l0.4 -4.0M341.8 143.6l1.7 -3.5M443.8 174.7l2.2 1.5M412.1 148.6l-4.9 0.7M415.1 170.9l4.4 -0.1M412.0 169.3l1.7 3.2M416.5 181.9l6.3 3.8M390.2 184.0l-1.0 4.3M375.1 177.2l4.0 1.8M421.0 169.1l3.6 0.9M427.1 172.2l4.3 1.5M431.4 173.8l3.3 3.4M373.2 155.6l-2.8 -1.3M460.3 178.3l-5.9 1.5M450.7 180.2l-5.1 -1.4M425.7 159.4l3.9 -4.5" stroke="#11ccbb"/>
<path d="M402.6 144.8l2.1 2.7M364.6 173.3l-2.6 0.7M358.1 150.4l-0.8 -4.5M348.8 142.4l1.7 4.5M348.4 150.7l-1.1 3.7M387.5 125.0l-1.2 4.5M386.4 129.5l-1.7 4.3M381.4 126.8l0.6 -2.5M425.9 178.2l2.7 -1.3M380.0 164.6l-1.3 -4.2M374.5 153.1l-2.0 -4.2M372.4 148.9l1.9 -2.3M404.7 159.9l-1.6 2.2M426.4 163.9l2.8 -0.9M410.5 175.6l0.5 3.6M390.1 173.2l0.7 4.5M451.5 153.8l0.7 2.5M443.7 161.6l-4.2 1.1M445.6 178.9l-4.0 -3.4" stroke="#dd33ff"/>
<path d="M357.7 174.0l-4.9 0.2M392.6 131.2l-2.8 0.3M362.1 162.1l-3.8 0.9M358.3 163.0l-2.5 -0.2M377.3 139.9l3.0 -1.7M432.4 169.5l4.5 -2.1M394.2 137.6l-0.3 -2.6M378.7 160.4l-2.2 -1.6M404.1 165.8l4.1 2.8M391.1 180.3l-0.9 3.6M375.6 171.2l-3.6 -0.7M361.7 154.3l-3.0 2.4M437.6 129.4l-1.0 -5.0M352.1 141.7l-2.6 2.8M335.6 167.6l-3.4 3.6" stroke="#88dd33"/>
<path d="M372.0 180.1l2.4 3.7M422.7 135.5l4.4 -0.2M410.6 144.8l2.8 -2.9M384.2 144.3l-3.9 2.8M380.2 147.1l0.4 -3.1M399.2 140.1l2.6 -3.8M388.7 148.9l-1.9 -2.6M399.6 141.9l2.6 1.2M415.6 136.2l3.1 -0.0M347.7 134.0l-3.5 -1.3M402.8 153.7l-0.4 -3.4M358.0 131.1l3.1 1.4M361.1 165.8l-2.4 1.3M411.7 141.5l3.7 -0.1M359.0 160.9l4.5 1.1M362.5 164.4l0.5 3.3M328.7 149.9l2.8 -4.8M280.5 134.1l-1.5 -3.3" stroke="#00ccff"/>
<path d="M353.0 162.2l2.6 3.6M355.6 165.8l0.9 2.6M416.0 131.4l-2.9 0.9M403.4 143.8l2.1 2.3M387.9 149.2l-0.8 -4.0M424.2 132.4l1.1 -3.3M377.0 136.6l-2.3 -1.3M371.3 134.4l-3.0 -3.0M358.0 138.0l-2.6 -0.3M358.2 135.4l-2.8 -3.6M376.8 143.0l-0.7 -3.1M379.5 136.3l-0.8 -3.6M331.4 166.3l-3.8 0.3M382.2 158.3l3.1 0.2M363.7 147.7l-4.2 0.1M359.5 147.8l-1.8 -3.8M357.8 177.8l-3.6 3.0M424.7 145.7l-0.7 3.1M403.7 146.2l-4.2 -1.1M331.9 133.5l0.4 -5.0M279.8 124.9l3.2 -1.5" stroke="#3344ff"/>
<path d="M351.2 168.9l-2.6 -3.3M426.1 131.4l-0.3 -3.0M399.1 142.3l4.3 1.5M382.6 140.6l1.6 3.8M387.2 140.7l-2.2 -3.0M373.6 158.5l-1.0 4.3M386.3 164.0l-0.6 3.3M397.2 166.5l0.4 -3.4M369.6 158.5l1.2 -2.5M376.1 139.9l3.4 -3.6M350.5 164.5l-2.5 -3.2M374.3 165.2l2.8 -1.0M377.5 143.3l-5.0 0.1M415.4 141.4l2.8 0.9" stroke="#ff22cc"/>
<path d="M441.1 135.7l-1.0 3.0M413.4 141.9l4.7 -1.2M384.9 153.3l-1.8 -2.2M392.8 150.5l-4.1 -1.6M398.2 143.4l-1.9 -3.7M404.0 150.2l-4.5 0.6M396.5 151.2l-4.2 -2.5M402.1 143.1l2.8 -2.3M379.6 143.0l-2.3 -2.3M374.7 135.2l-3.4 -0.8M384.0 149.8l-1.5 2.8M382.5 152.6l-4.0 2.5M378.5 155.1l-4.5 0.4M372.6 162.8l-2.5 3.7M355.4 137.7l-2.2 -3.6M392.6 167.7l4.6 -1.2M397.6 163.0l-2.1 -2.3M361.1 132.5l0.1 4.2M351.2 176.9l0.0 -3.6M344.6 162.4l-3.8 0.0M340.8 162.4l-2.3 2.3M391.5 162.4l-0.2 3.8M367.3 147.9l-3.5 -0.2M357.8 144.0l-4.5 1.1M352.1 182.9l-3.5 3.5M380.6 152.0l-4.4 1.4M349.7 159.0l3.3 -1.3M360.8 170.7l-2.7 2.1" stroke="#ff4488"/>
<path d="M420.1 134.6l2.6 0.9M349.5 162.8l3.5 -0.6M421.5 128.3l-2.7 1.8M383.1 151.1l1.7 -3.6M396.3 144.4l2.8 -2.1M398.3 151.3l-0.2 -4.7M402.8 158.5l1.5 -2.2M404.3 156.4l0.0 -3.4M421.9 134.8l2.3 -2.3M376.6 150.0l0.5 -2.7M368.8 170.2l-2.2 4.2M388.8 170.6l3.8 -2.9M398.4 154.4l4.4 -0.7M355.4 131.8l-1.7 -4.4M353.7 127.4l-3.9 -1.0M388.8 157.4l3.4 1.5M357.6 173.6l0.2 4.2M423.1 142.5l1.6 3.1M395.2 142.8l-2.6 -0.5M331.5 145.0l-0.2 -5.8" stroke="#e8d840"/>
<path d="M433.6 134.3l3.4 -0.8M422.1 138.5l2.1 -4.1M418.8 130.1l-2.8 1.3M413.1 132.3l-2.4 1.6M384.8 147.5l4.3 -0.2M393.2 145.5l3.1 -1.2M407.3 149.3l0.0 4.0M399.5 150.8l-3.0 0.4M385.0 137.7l-3.9 -3.1M350.4 133.4l-2.7 0.6M353.9 128.6l4.1 2.5M340.5 131.7l-2.3 4.4M349.9 168.8l0.7 -4.4M374.1 169.7l-4.4 -1.7M369.7 168.0l-3.8 -2.0M383.1 149.1l-2.4 2.9M358.2 172.8l-0.9 2.7M278.9 130.7l0.9 -5.9" stroke="#22dd55"/>
<path d="M433.7 144.1l-1.1 4.5M351.7 174.1l-2.0 -2.3M348.1 164.9l1.4 -2.1M407.3 153.4l-1.8 2.1M382.0 135.7l0.6 4.9M397.3 128.3l-2.4 4.2M404.4 153.0l-0.4 -2.8M412.9 137.2l2.7 -1.0M375.4 152.7l1.2 -2.7M388.5 149.0l-4.5 0.8M366.6 174.4l-2.6 -1.9M344.2 132.6l-2.1 -3.2M342.0 129.4l-1.0 -4.9M385.8 167.3l3.1 3.3M361.2 136.7l-2.9 -1.3M370.7 156.0l-0.0 -4.8M348.0 161.3l-3.3 1.1M370.2 168.7l2.4 -0.6M377.2 164.1l3.0 0.6M348.4 146.0l-2.5 1.7M405.9 130.5l2.8 2.2M363.0 167.7l-2.1 3.0" stroke="#9955ff"/>
<path d="M366.7 173.3l2.6 0.6M436.1 141.5l-2.4 2.6M383.8 143.6l3.2 -0.9M388.4 144.1l-4.9 0.5M410.0 140.7l2.9 -3.5M418.6 136.2l3.2 -1.4M391.5 146.4l-3.0 2.6M374.0 155.5l-0.5 3.0M406.2 127.2l-2.0 -2.5M347.1 127.8l-2.4 1.9M368.3 161.1l1.3 -2.6M327.6 166.5l-4.8 -1.2M381.8 160.9l0.4 -2.7M392.1 159.0l-0.7 3.5M378.7 146.0l-1.2 -2.7M354.2 180.8l-2.0 2.0M389.1 143.4l-0.3 3.8M395.9 135.9l-1.8 -5.8M291.6 142.6l-1.8 -3.2" stroke="#ff3333"/>
<path d="M349.7 171.8l-1.2 -2.4M389.0 147.3l4.2 -1.8M371.9 147.0l-2.2 -1.5M397.7 135.3l2.3 -3.6M400.0 131.7l3.6 -2.8M395.9 140.2l-1.0 2.7M383.5 144.6l-3.2 -0.2M353.2 134.1l-2.8 -0.7M402.5 150.4l-1.6 -2.9M372.7 147.7l0.8 -2.4M378.7 132.7l-1.6 -2.2M372.5 143.3l-1.2 2.6M365.9 166.0l-4.8 -0.2M410.7 136.5l0.6 2.5M357.2 175.5l-2.5 2.0" stroke="#ff9922"/>
<path d="M440.1 138.7l-4.0 2.8M418.2 140.7l4.0 -2.2M390.2 141.1l2.4 -2.1M392.6 139.0l3.0 1.9M376.2 149.3l-4.4 -2.4M394.9 132.6l-0.1 3.9M394.8 136.4l1.1 3.8M376.3 143.4l-2.8 -3.3M405.0 140.8l5.0 -0.1M368.3 131.4l-4.2 -2.5M385.2 158.5l3.6 -1.1M353.3 145.1l-4.9 0.9M358.8 167.1l-0.7 4.0M418.2 142.3l4.8 0.3M421.6 151.7l-2.7 3.9M388.8 147.2l-2.3 2.5M386.5 149.7l-3.4 -0.6M356.4 160.3l2.5 0.7M331.3 139.3l0.6 -5.7M400.2 136.9l-4.3 -1.0M289.8 139.5l-4.4 -2.8M285.3 136.6l-4.9 -2.6" stroke="#44bbee"/>
<path d="M372.1 177.4l-0.1 2.8M425.7 128.4l-4.2 -0.1M386.9 142.8l3.3 -1.7M395.7 140.8l3.6 -0.8M369.7 145.5l-2.1 -2.2M391.6 144.6l-3.2 -0.5M392.3 148.7l-4.3 0.4M425.3 129.1l-1.3 -3.2M377.0 156.6l-1.6 -3.9M377.3 140.6l-0.4 -4.1M395.4 160.7l1.7 -3.7M358.1 171.0l-0.5 2.5M379.1 128.1l0.0 -3.1M392.7 142.3l-3.6 1.0M376.3 153.4l-0.9 4.0M375.4 157.4l-2.0 3.2" stroke="#c8c050"/>
<path d="M353.6 176.2l-2.0 -2.1M405.5 146.1l1.8 3.2M380.6 144.1l3.2 -0.4M384.2 147.5l-3.2 0.9M371.2 143.2l2.8 1.8M398.2 146.6l-0.0 -3.3M380.3 144.4l-4.0 -1.0M387.1 145.2l0.1 -4.5M377.1 147.2l2.5 -4.3M397.2 157.1l1.2 -2.7M370.7 151.2l2.0 -3.5M351.2 173.3l-1.3 -4.5M411.2 139.0l0.5 2.6M351.6 163.3l-1.8 -4.3M327.7 154.0l1.0 -4.1" stroke="#11ccbb"/>
<path d="M437.0 133.5l4.1 2.2M432.7 148.7l-1.8 2.3M348.5 169.4l-0.4 -4.5M356.4 168.4l-2.6 2.1M353.8 170.5l-2.6 -1.7M424.2 134.4l1.8 -3.0M386.8 146.3l-2.6 1.2M367.6 143.3l3.6 -0.1M396.2 139.6l1.5 -4.3M394.8 142.9l-3.3 1.7M423.9 125.9l1.6 0.8M364.1 128.9l-4.0 2.6M370.1 166.5l-1.3 3.8M358.7 142.3l-0.7 -4.3M344.8 129.8l-4.2 1.9M334.4 165.6l-2.9 0.7M372.7 168.1l1.7 -2.9M371.4 146.0l-4.1 2.0M408.7 132.7l2.0 3.8M424.0 148.8l-2.4 3.0" stroke="#dd33ff"/>
<path d="M369.3 173.9l2.8 3.4M427.1 135.3l4.2 0.2M431.3 135.4l2.3 -1.1M381.0 148.4l-4.7 1.0M374.0 145.0l2.6 1.9M403.6 128.9l2.6 -2.0M397.1 125.8l0.2 2.5M349.8 126.4l-2.7 1.4M373.5 145.3l3.3 -2.3M377.2 130.4l-2.6 -0.6M338.6 164.8l-4.2 0.9M380.2 164.7l1.5 -3.8M379.9 148.8l-1.1 -2.8M399.6 145.2l-4.3 -2.3M353.0 157.7l3.4 2.5M363.4 162.1l-0.9 2.4" stroke="#88dd33"/>
<path d="M376.1 132.4l4.4 1.0M380.4 133.5l3.1 -0.2M402.3 153.7l-3.3 0.2M393.6 159.4l-3.3 -1.7M420.0 171.5l-3.7 -1.5M412.1 167.3l-1.7 -2.4M416.4 145.3l2.4 -2.4M420.7 134.8l-1.6 -2.6M423.0 143.7l-3.0 -0.9M401.9 155.9l4.6 -1.3M413.3 154.3l4.7 -0.6M409.4 164.4l-4.1 0.8M397.1 161.0l-3.2 -3.7M403.3 126.5l3.6 2.0M347.4 165.3l3.5 2.0M354.3 169.0l3.4 0.1M357.7 169.1l3.0 -1.0M376.2 170.8l3.5 -1.2M382.5 168.9l3.9 -1.4M419.4 147.6l-0.6 -3.4M417.0 136.3l-1.3 -3.8M344.5 173.5l-3.9 -1.9M320.1 159.0l-1.9 -5.1M318.2 153.9l-0.7 -3.5" stroke="#00ccff"/>
<path d="M348.5 147.5l1.9 -3.1M388.0 175.7l3.7 1.4M398.6 169.8l-1.0 -3.5M416.3 170.0l-2.6 -0.5M433.7 144.0l1.9 3.9M390.0 163.4l2.8 -0.4M405.1 155.3l1.2 2.3M379.7 169.5l2.9 -0.6M367.1 138.4l3.3 2.8M381.8 139.9l2.3 1.2M379.6 155.6l-2.8 2.6M386.3 151.1l4.2 -0.9M374.9 166.1l-0.7 -4.8M308.5 174.7l3.1 -2.0M311.6 172.8l4.8 -3.7" stroke="#3344ff"/>
<path d="M354.7 142.5l1.3 -3.9M397.6 166.3l-3.7 -3.2M389.4 154.9l-3.1 -3.0M392.7 150.9l-3.1 -2.2M371.6 140.3l4.0 0.3M395.3 177.1l4.3 -0.6M439.3 180.5l-4.9 -0.8M444.7 167.0l-3.1 1.3M418.5 133.7l2.4 1.5M427.6 141.7l-1.4 2.6M419.9 142.8l-4.1 -0.0M396.2 157.3l0.5 -2.8M365.0 166.8l3.7 2.4M367.6 159.0l2.1 2.2M369.8 161.2l3.1 -2.4M372.9 158.8l3.6 -3.1M421.4 150.2l-1.9 -2.5M394.5 145.2l-2.1 -1.6M347.6 175.0l-3.0 -1.5M300.7 159.2l0.3 4.3M319.5 141.5l1.9 -3.3M334.8 127.6l4.5 -2.2M343.7 180.4l-4.2 0.5M473.1 161.3l-4.5 -1.7" stroke="#ff22cc"/>
<path d="M356.0 138.6l0.3 -4.9M394.3 174.9l3.0 -1.9M397.3 173.0l1.2 -3.2M392.9 128.5l3.0 -3.0M386.4 151.9l-2.9 -0.7M399.3 148.1l1.9 -2.5M441.6 168.3l-2.5 -1.9M412.1 139.8l3.2 3.0M418.0 153.7l3.3 1.0M414.5 156.6l0.3 3.4M393.9 157.3l-0.5 -2.7M409.4 146.9l-1.0 2.4M405.7 153.2l-2.5 0.7M376.6 146.3l3.3 0.6M384.4 150.0l2.4 -1.5M351.4 173.1l-3.8 1.9M318.3 165.1l1.8 -6.1M351.6 177.4l-4.3 1.7M452.9 145.9l-1.3 -6.0" stroke="#ff4488"/>
<path d="M381.0 171.9l3.1 2.1M395.3 151.9l-2.6 -1.1M423.2 171.9l-3.2 -0.4M431.6 141.1l2.1 2.8M444.0 163.1l0.7 3.9M402.0 137.3l2.9 0.7M404.9 138.0l2.7 0.3M407.6 138.3l4.6 1.5M418.5 140.1l2.4 -2.3M400.1 162.0l-3.0 -1.0M391.4 160.6l-3.8 1.0M387.6 161.6l-2.3 -1.3M385.3 160.3l0.8 -4.7M396.7 154.5l2.3 -2.3M329.5 132.1l-0.5 -4.6M339.2 166.4l4.4 -1.5M395.1 156.2l0.5 3.8M418.6 157.5l2.0 -3.0M306.2 143.7l-0.7 5.7M339.5 180.9l-5.2 0.9" stroke="#e8d840"/>
<path d="M341.7 178.7l-2.9 3.0M378.5 138.3l3.2 -0.3M401.5 178.3l2.5 0.6M407.9 180.9l3.6 3.3M410.4 164.9l-2.4 -3.2M438.2 149.8l1.2 4.2M420.9 135.2l3.8 0.5M426.2 144.3l-3.2 -0.6M412.7 139.0l-4.1 -1.0M406.5 154.6l-0.9 -2.5M393.3 154.6l3.7 -3.2M392.9 163.0l3.5 -2.3M399.0 152.3l4.4 0.5M331.7 137.3l-1.9 -2.1M371.9 168.0l-3.5 2.0M389.3 166.0l3.7 -1.8M391.7 143.5l3.5 -0.8M301.2 167.4l2.4 4.5M461.3 156.9l-4.9 -3.1" stroke="#22dd55"/>
<path d="M368.0 142.2l0.7 -2.8M356.3 133.7l1.6 -4.7M357.9 129.0l-0.5 -2.8M386.5 134.4l2.0 -2.0M399.5 141.1l-2.0 1.7M399.6 176.5l1.8 1.7M405.6 152.1l2.0 -1.8M411.8 152.1l1.5 2.2M434.8 154.2l1.9 2.8M406.6 133.1l-0.9 2.5M405.7 139.7l2.4 3.6M380.7 166.3l4.4 0.0M350.9 167.3l3.4 1.7M395.2 142.7l4.2 2.4M380.6 152.4l-1.0 3.2M393.0 152.5l2.1 3.7M364.2 174.0l-4.9 0.0M336.4 166.4l-4.0 -2.5M301.6 153.9l-1.0 5.3M303.6 171.9l4.9 2.9M321.5 138.3l0.6 -5.3" stroke="#9955ff"/>
<path d="M366.2 146.9l1.7 -4.7M372.7 134.2l3.3 -1.7M386.0 131.8l1.3 -4.8M393.8 163.1l-2.6 0.2M345.7 177.0l-4.0 1.7M363.5 139.3l1.8 -3.4M408.0 161.7l-2.1 -3.7M435.5 147.9l2.6 1.9M405.2 165.2l-2.2 -2.2M403.0 163.0l-2.9 -1.0M399.0 161.0l-3.5 -0.8M383.6 151.1l-3.0 -1.3M380.6 149.8l-1.6 -4.7M396.4 160.7l-0.2 -3.4M403.4 152.8l1.7 2.5M334.0 135.9l-2.3 1.4M341.9 169.9l-2.7 -3.5M360.6 168.1l4.4 -1.3M393.0 164.2l-0.6 -3.6M382.9 159.3l-3.5 2.8M370.4 141.2l3.9 2.5M384.7 146.0l3.3 -1.0M399.5 145.1l1.9 2.5M376.4 155.7l0.5 -2.6M415.0 161.6l-0.1 -3.4M389.7 145.6l4.8 -0.4M305.5 149.4l-3.9 4.5M356.7 175.7l-5.2 1.6M451.6 139.9l-2.5 -5.3" stroke="#ff3333"/>
<path d="M351.4 150.8l-4.1 -0.9M350.4 144.4l4.3 -2.0M380.4 168.9l0.6 3.1M381.4 149.1l0.0 -3.4M401.2 145.6l-1.7 -4.5M363.1 146.8l-1.8 -3.3M361.2 143.6l2.3 -4.2M413.7 169.6l-1.6 -2.3M415.9 142.7l-3.1 -3.7M397.0 151.4l1.3 -3.0M408.1 143.2l1.2 3.6M408.4 149.3l-2.8 3.9M395.5 160.3l-4.1 0.3M347.7 126.7l-1.1 2.5M339.7 132.3l-2.2 1.8M343.6 164.9l3.8 0.5M374.3 143.7l2.3 2.7M381.6 135.4l0.2 4.4M369.6 161.6l-0.9 -3.1M379.1 150.0l3.5 -0.8M382.6 149.2l3.7 1.9M390.5 150.3l2.4 2.2M374.1 161.2l1.5 -3.7M380.2 151.2l4.1 -1.2M386.8 148.6l2.9 -3.0M367.2 172.8l-3.0 1.2M354.8 172.6l-3.5 0.5M316.4 169.0l1.9 -3.9M468.6 159.6l-3.4 -2.3" stroke="#ff9922"/>
<path d="M370.6 151.5l-0.8 -3.2M368.7 139.4l2.2 -3.1M347.3 149.9l1.2 -2.4M390.5 146.2l3.6 -1.8M380.7 144.5l-4.0 2.4M438.1 158.2l2.5 2.5M415.3 142.7l1.1 2.6M418.8 142.9l-0.3 -2.8M420.9 137.8l-0.2 -3.0M414.8 160.1l-2.4 2.4M412.3 162.4l-3.0 2.0M407.0 128.4l-0.3 4.7M387.5 164.3l2.5 -0.9M337.5 134.1l-3.5 1.8M368.7 169.1l3.2 -1.1M387.1 158.1l-4.2 1.2M379.4 162.1l0.7 3.1M379.9 146.9l4.8 -0.9M420.6 154.5l0.8 -4.4M375.7 157.5l2.8 -4.0M300.9 163.6l0.2 3.8M317.5 150.5l0.7 -4.4M347.3 179.0l-3.6 1.4" stroke="#44bbee"/>
<path d="M369.7 148.3l-3.5 -1.5M370.9 136.3l1.9 -2.1M383.6 133.3l2.5 -1.5M401.1 142.6l2.7 -0.0M381.6 141.6l-0.9 2.9M428.0 140.6l3.6 0.5M440.7 160.7l3.3 2.4M424.7 135.7l3.3 3.0M403.2 153.9l1.6 -2.6M387.0 153.1l-3.3 -2.0M379.1 145.2l1.7 -4.2M380.3 149.0l0.3 3.4M374.3 162.5l-4.7 -1.0M368.8 158.5l2.9 -1.7M376.9 153.1l2.2 -3.1M418.9 144.2l0.5 -3.1M379.5 171.1l-2.7 -1.0M378.4 153.5l1.8 -2.3M465.2 157.2l-3.9 -0.3M456.4 153.8l-2.2 -3.4M449.2 130.9l-3.2 -5.3" stroke="#c8c050"/>
<path d="M381.0 165.0l-0.6 3.8M390.9 131.1l2.0 -2.5M406.2 153.8l-3.9 -0.0M397.6 158.0l-4.0 1.4M389.6 148.7l0.9 -2.5M394.1 144.4l3.3 0.3M365.3 135.9l4.2 2.1M369.5 138.0l2.1 2.3M375.6 140.6l2.9 -2.3M392.8 178.2l2.5 -1.1M434.4 179.7l-4.4 -1.9M439.4 154.0l-1.3 4.2M419.1 132.1l-2.2 -2.5M426.1 153.4l3.8 -0.0M346.6 129.2l-4.6 0.1M392.4 160.6l-1.2 -2.4M382.6 145.7l-2.3 3.3M419.3 141.1l2.7 -0.6M376.8 170.2l-2.0 -4.1M340.7 171.6l-1.2 -2.3M330.6 128.6l4.2 -1.0" stroke="#11ccbb"/>
<path d="M391.7 177.1l2.6 -2.2M388.5 132.3l2.4 -1.3M399.1 154.0l-1.5 4.0M390.2 157.7l-0.8 -2.8M397.4 144.7l1.9 3.4M397.6 142.9l3.5 -0.2M381.7 138.0l-0.1 3.7M404.0 178.8l3.9 2.0M408.6 138.0l3.1 0.5M407.6 150.3l4.2 1.8M405.8 135.6l-0.0 4.1M380.8 140.9l3.6 -2.9M329.8 135.2l-0.3 -3.1M386.4 167.5l2.9 -1.5M391.2 158.2l-4.1 -0.1M384.0 141.1l-1.5 4.6M376.8 158.2l-2.5 4.3M421.0 137.9l-4.1 -1.6M339.5 169.3l-3.0 -2.9M318.2 146.1l1.3 -4.5M322.0 133.0l4.1 -3.2M326.1 129.8l4.5 -1.2M454.2 150.3l-1.3 -4.4" stroke="#dd33ff"/>
<path d="M384.1 174.1l3.9 1.6M383.5 151.2l-2.1 -2.1M381.4 145.7l-2.8 -2.0M430.0 177.8l-2.6 -3.6M427.4 174.2l-4.2 -2.3M428.0 138.6l-0.4 3.0M421.4 154.7l4.7 -1.3M429.9 153.4l4.9 0.8M404.8 151.3l2.5 -3.4M386.1 155.7l0.9 -2.5M385.1 166.3l2.4 -2.0M342.0 129.3l-2.3 3.1M388.0 145.0l3.7 -1.5M401.4 147.6l2.5 3.2M414.9 158.2l3.8 -0.7M422.0 140.5l-1.0 -2.6M359.4 174.0l-4.5 -1.4M332.4 163.9l-0.4 -2.8M449.2 134.7l-0.0 -3.8" stroke="#88dd33"/>
<path d="M395.1 154.4l2.0 -1.9M374.3 160.2l-2.0 -2.9M361.3 174.5l-3.2 3.7M358.1 178.2l-1.8 2.6M363.1 142.7l-3.6 1.3M358.0 164.2l-0.6 -4.5M433.7 139.4l-4.0 -2.1M403.4 151.8l2.3 2.7M411.4 156.5l2.5 2.2M413.5 166.2l-4.6 0.8M355.0 138.2l-3.8 -1.0M348.9 135.9l-1.9 -4.2M371.5 127.9l-3.2 -2.7M368.3 125.2l-4.7 0.6M363.6 125.8l-2.6 0.2M361.0 126.0l-2.0 4.0M354.4 160.6l1.7 2.1M373.2 168.9l3.3 -1.2M390.9 129.5l-2.9 1.3M324.3 144.3l-4.2 -2.6M404.8 166.1l5.1 1.6" stroke="#00ccff"/>
<path d="M389.7 154.3l3.0 -1.3M403.3 154.8l-1.2 4.4M402.1 159.3l-0.2 3.2M405.8 179.6l-2.4 4.1M376.6 126.4l-3.2 -1.0M370.2 130.6l-2.5 3.7M376.8 174.2l-2.5 1.8M348.5 171.4l-0.8 2.5M409.9 154.6l3.8 -0.5M430.7 151.2l1.5 -4.5M390.7 170.5l4.1 -1.2M413.9 158.7l4.2 2.1M403.4 168.5l-2.1 1.4M401.4 170.0l1.5 4.4M356.3 134.9l-1.4 3.3M390.5 146.0l4.2 -0.3M359.1 130.0l-0.4 4.8M398.2 133.0l-3.7 -0.5M336.2 135.9l-3.6 4.2" stroke="#3344ff"/>
<path d="M417.3 127.8l-0.3 -3.1M397.1 152.5l3.1 0.9M379.0 141.0l-2.8 -3.2M381.4 126.3l-4.8 0.1M347.7 174.0l-1.6 2.8M423.6 150.0l2.2 1.9M425.8 151.9l1.9 1.9M403.2 140.3l1.1 2.3M403.4 146.2l-0.0 2.5M392.4 176.9l-4.2 0.3M388.3 177.2l-4.2 -2.6M373.2 162.7l3.1 -1.0M347.0 131.7l-2.8 -1.8M344.1 129.9l-3.0 -1.9M406.7 159.9l3.5 2.7M368.9 168.4l4.3 0.5M401.6 135.7l-3.4 -2.7" stroke="#ff22cc"/>
<path d="M401.9 162.4l-3.6 2.8M403.8 176.7l2.0 2.9M376.2 137.8l-2.6 -0.7M380.0 149.7l3.6 2.5M382.7 163.8l-1.0 -2.6M367.9 171.9l-3.9 2.1M374.7 127.9l-2.7 1.6M368.9 139.1l1.4 2.8M368.8 152.8l-1.9 -1.8M437.2 142.9l-3.5 -3.5M346.1 176.8l-0.7 4.0M397.1 135.9l2.9 2.4M393.4 150.3l3.9 1.1M417.7 159.0l3.0 0.4M358.0 148.8l1.2 4.3M365.2 166.4l3.7 2.0M340.2 154.7l2.4 -3.0M342.6 151.7l2.7 -5.9M345.3 145.8l-1.1 -4.2M332.6 140.0l-3.6 3.0M442.6 179.6l5.9 2.0" stroke="#ff4488"/>
<path d="M361.9 157.6l-2.6 0.8M359.2 158.4l-3.3 -0.2M377.9 163.1l-3.7 -2.9M374.2 160.4l-0.0 4.5M369.0 166.4l1.5 4.0M368.7 137.8l-2.8 3.4M381.5 175.9l-4.7 -1.7M368.2 176.5l-2.3 -3.2M365.9 173.3l-0.3 -4.1M442.1 147.9l-2.4 -3.7M439.7 144.3l-2.5 -1.4M423.3 134.7l-4.3 -1.1M371.7 174.4l-0.1 3.6M417.2 164.4l-3.7 1.8M408.6 134.1l-3.0 -0.1M405.6 133.9l-4.0 1.8M329.0 143.1l-4.7 1.2M415.7 167.7l4.8 0.3" stroke="#e8d840"/>
<path d="M365.9 141.3l-2.8 1.4M359.4 144.0l-3.2 1.7M365.6 169.2l-4.1 -2.8M448.0 157.2l-0.6 -4.6M445.7 148.7l-3.6 -0.8M413.7 154.1l3.7 -0.2M427.7 153.8l3.0 -2.6M397.3 153.5l-2.7 -3.3M414.7 160.1l3.1 -1.1M418.1 160.8l-0.9 3.6M408.9 167.0l-3.6 -0.8M405.3 166.2l-1.9 2.4M410.2 162.7l1.6 3.8M362.1 166.1l3.0 0.3M376.5 167.6l3.0 0.6M374.4 134.9l2.2 -4.1M341.6 159.4l-1.4 -4.7M318.5 137.5l-4.6 -3.7" stroke="#22dd55"/>
<path d="M415.6 130.0l-0.1 -3.0M368.4 143.4l0.1 3.2M385.8 155.5l0.6 2.7M400.8 128.9l-3.5 -3.0M385.5 178.4l-4.1 -2.5M449.3 159.8l-1.2 -2.6M405.3 154.8l4.6 -0.2M417.5 153.8l2.7 -1.8M401.0 151.7l-3.6 1.8M394.6 150.2l-1.0 -4.8M384.1 174.6l-1.2 -3.1M394.8 169.2l4.3 -1.2M402.9 174.4l3.6 1.5M408.1 143.9l-0.6 -3.3M367.5 137.0l-3.7 -2.2M351.2 137.2l-2.4 -1.3M358.7 134.8l0.3 3.0M359.2 153.1l-2.1 4.2M344.2 141.6l-1.3 -5.7" stroke="#9955ff"/>
<path d="M386.2 152.3l3.5 2.0M373.6 137.1l-3.8 0.9M367.8 139.8l0.7 3.6M372.2 146.2l1.2 3.7M373.4 125.3l0.1 2.6M374.3 176.1l-3.9 2.7M399.1 168.0l3.9 -1.9M409.6 147.2l-1.5 -3.4M363.8 134.8l-3.1 -1.3M411.7 166.5l2.1 3.9M381.3 133.8l-3.8 2.4M346.1 160.7l-4.5 -1.3M311.8 129.9l-4.5 -1.9M400.8 151.5l-1.0 4.8M383.4 130.8l-0.7 -5.6" stroke="#ff3333"/>
<path d="M372.0 132.0l-2.2 3.8M373.4 128.0l-3.2 2.7M356.2 145.7l-3.0 -3.9M377.2 128.9l4.0 -2.8M397.3 151.4l2.7 0.5M387.9 168.8l2.8 1.6M370.8 170.9l0.9 3.5M389.4 139.6l-1.3 3.1M400.7 148.8l1.2 4.6M359.0 137.8l2.4 3.3M394.5 132.5l-3.6 -3.1M385.4 132.0l-4.1 1.8M351.8 161.0l-5.7 -0.4M423.9 166.3l3.3 1.5M431.2 171.8l3.6 1.9M385.2 137.0l-1.8 -6.2" stroke="#ff9922"/>
<path d="M388.0 149.5l-1.7 2.8M369.8 138.0l-2.0 1.8M386.9 164.5l-4.1 -0.7M397.6 131.0l3.1 -2.1M429.7 137.3l-2.9 -2.0M426.8 135.3l-3.5 -0.6M404.4 142.5l-1.0 3.7M420.7 159.4l0.2 -4.0M384.2 167.6l3.8 1.2M403.0 166.2l1.7 2.0M371.5 178.0l1.6 3.8M404.4 156.3l2.2 3.6M358.7 165.8l3.5 0.3M377.5 136.2l-3.1 -1.3M342.9 136.0l-3.4 -1.6M314.0 133.8l-2.1 -3.9M427.2 167.9l4.0 4.0M436.8 177.3l5.8 2.3" stroke="#44bbee"/>
<path d="M418.8 132.9l-3.3 -2.9M400.2 153.4l3.1 1.4M368.5 146.6l-1.7 3.5M366.8 150.1l-2.0 4.2M377.9 148.2l2.1 1.5M386.4 158.2l0.4 3.3M370.5 170.4l-2.6 1.5M364.0 174.0l-2.7 0.5M366.9 151.1l-0.1 -3.4M367.7 134.4l0.9 3.5M447.4 152.7l-1.7 -3.9M408.2 157.4l3.2 0.7M382.8 171.6l1.4 -4.0M360.7 133.4l-3.3 -1.4M341.2 127.9l-2.6 -1.3M376.2 134.2l-0.9 -4.8M361.4 141.1l1.4 2.2M357.1 157.3l-2.7 3.3M356.2 162.7l2.5 3.1M399.9 156.3l0.3 6.1" stroke="#c8c050"/>
<path d="M392.7 153.0l2.3 1.5M364.8 154.3l-3.0 3.3M386.8 161.5l0.1 3.0M381.8 161.2l-3.8 1.9M369.9 135.8l-1.0 3.3M373.4 150.0l-1.8 2.9M370.4 178.8l-2.2 -2.3M361.5 166.4l-3.5 -2.3M357.4 159.7l0.3 -2.8M345.4 180.8l-0.8 3.4M420.2 152.0l3.4 -2.0M400.0 138.3l3.2 1.9M403.4 148.7l-2.4 3.0M400.6 149.5l2.8 2.3M405.7 154.4l2.5 3.0M374.8 165.9l-0.8 3.6M407.7 155.8l3.7 0.7M407.6 140.6l1.0 -4.8M409.1 132.6l0.2 -4.3M357.4 132.1l-1.1 2.9M394.7 145.7l2.5 1.3M397.1 147.0l3.6 1.8M408.7 129.7l-0.0 -3.9M388.1 130.7l-2.6 1.3M362.4 163.7l-5.3 -0.9M320.1 141.6l-1.5 -4.2M400.2 162.4l4.7 3.7" stroke="#11ccbb"/>
<path d="M370.3 162.0l3.9 -1.6M374.2 164.9l-2.9 0.2M371.3 165.2l-2.3 1.2M401.6 154.7l3.7 0.1M394.9 134.1l2.3 1.8M376.4 161.6l-1.5 4.2M374.0 169.5l-3.2 1.4M388.1 142.7l2.4 3.3M401.9 153.5l2.5 2.9M357.1 162.7l-5.3 -1.7M434.8 173.8l2.0 3.5" stroke="#dd33ff"/>
<path d="M398.3 165.2l-2.2 -1.1M383.5 152.3l2.3 3.2M366.2 164.0l4.0 -2.0M372.0 129.5l0.0 2.5M370.2 141.9l1.9 4.3M371.6 152.9l-2.7 -0.1M395.0 130.8l2.6 0.2M396.7 154.6l4.9 0.1M393.6 145.4l-0.7 -4.5M400.0 151.9l0.6 -2.5M411.4 158.1l3.3 2.0M404.7 168.2l4.2 0.3M408.6 135.8l0.5 -3.1M409.3 128.4l-1.9 -3.4M375.3 129.4l-3.8 -1.5M362.7 143.3l-2.6 2.6M339.6 134.4l-3.4 1.5M409.9 167.7l5.8 -0.1M420.5 168.0l3.4 -1.6" stroke="#88dd33"/>
<path d="M363.2 139.7l3.7 -2.2M358.1 176.4l-2.6 2.2M382.0 154.8l-2.3 -2.1M403.4 172.7l-3.2 2.0M383.4 174.1l-4.3 -2.1M444.6 157.9l-2.6 0.7M431.1 160.8l-2.0 2.0M402.4 143.3l4.1 2.3M415.8 145.7l1.6 2.1M420.4 149.4l1.1 2.4M428.6 130.0l2.0 -4.0M350.1 152.6l-3.3 1.7M411.5 137.8l-2.4 3.2M396.0 151.7l4.0 0.2M359.1 150.6l-4.4 0.6M426.3 161.8l-1.4 3.9M339.8 157.5l-5.9 1.9M359.3 150.3l3.4 3.2" stroke="#00ccff"/>
<path d="M366.9 137.4l3.9 -0.6M372.5 132.7l2.3 -3.7M395.1 145.0l2.1 -2.8M379.8 152.8l2.3 -3.3M387.4 146.0l3.4 -1.6M400.2 174.7l-2.9 -1.0M429.1 162.8l2.1 2.7M431.3 165.5l-0.7 3.0M345.4 154.9l2.8 -2.4M397.9 128.0l4.6 1.4M402.5 129.4l3.6 0.7M364.8 159.4l-4.1 0.2M401.0 175.7l1.4 3.4M374.1 149.8l-2.8 -2.9M346.3 148.0l-4.5 1.2M416.3 156.3l4.9 0.1M283.8 166.0l4.6 -3.1M342.3 144.0l4.5 -1.2M366.2 157.3l3.3 5.0" stroke="#3344ff"/>
<path d="M389.1 137.8l0.6 2.5M393.6 175.0l-2.7 2.2M364.4 150.2l-0.5 -2.7M438.0 159.0l-2.6 0.8M421.6 173.1l-3.5 1.9M342.4 163.9l-2.3 -1.7M400.1 171.7l-1.9 -4.2M423.3 153.9l-0.3 2.7M428.1 133.4l0.6 -3.4M353.7 152.6l-3.7 -0.0M406.2 128.7l1.0 3.3M408.7 144.4l-0.5 3.7M399.9 151.9l2.9 1.8M400.2 163.5l-4.8 0.5M370.1 155.4l-2.9 -0.4M401.5 153.8l4.4 0.9M424.8 170.5l-0.6 3.5M370.2 166.9l4.0 2.7M259.3 166.4l4.6 -0.4M328.9 148.4l5.3 -1.6M338.5 146.0l3.8 -1.9" stroke="#ff22cc"/>
<path d="M356.8 131.5l1.8 2.4M339.7 136.9l1.3 4.2M374.8 129.0l1.8 -3.0M336.3 171.8l0.2 3.0M377.9 169.1l-1.0 -2.5M348.9 130.7l-2.8 3.5M435.4 159.8l-4.3 1.0M344.6 157.5l0.9 -2.6M403.1 140.6l-0.6 2.7M349.3 157.2l-1.6 -3.1M368.0 145.4l-3.5 -2.3M357.5 148.6l-1.5 2.7M396.9 130.8l2.9 -1.3M368.1 160.9l2.0 6.1M374.2 169.6l2.6 3.5M263.9 166.0l5.3 -1.6M343.7 134.6l3.3 1.9" stroke="#ff4488"/>
<path d="M377.6 135.2l4.9 -0.1M397.3 173.6l-4.0 -0.9M387.3 172.4l-3.9 1.7M379.1 172.0l-1.2 -2.9M362.1 159.1l2.8 -1.5M363.9 147.5l-0.8 -2.6M359.3 137.2l-4.3 -2.2M422.4 136.0l-0.1 -4.9M411.0 145.1l4.9 0.6M376.2 161.1l-2.9 -1.5M404.6 158.0l-2.0 4.3M376.8 173.1l2.9 1.9M379.2 181.0l-1.8 5.6M299.0 153.8l4.0 -3.4M333.9 159.4l-4.4 -1.4M324.9 158.0l-1.8 -5.2M323.0 152.9l2.4 -3.1" stroke="#e8d840"/>
<path d="M341.5 134.3l-1.8 2.6M374.2 134.9l3.3 2.7M352.2 179.3l-3.1 -1.4M376.8 166.6l-3.4 -3.4M442.0 158.6l-4.1 0.4M403.3 154.4l-0.9 -2.4M403.2 135.6l-0.1 4.9M394.4 131.2l3.6 -3.3M373.3 159.6l-2.1 -1.5M364.6 143.1l-3.5 0.9M361.0 144.0l-1.5 2.3M393.3 161.7l-1.4 -2.9M354.8 151.2l-4.0 -2.5M350.8 148.7l-4.5 -0.7M408.5 155.3l4.3 -1.1M377.3 186.7l-1.5 4.7M307.2 146.1l6.2 -0.3M318.0 143.7l3.4 -3.7M334.3 146.8l4.3 -0.8M365.8 170.9l2.8 3.7" stroke="#22dd55"/>
<path d="M390.9 177.3l1.8 2.3M387.8 141.7l2.6 2.9M399.0 179.1l-0.7 4.1M336.5 174.8l1.4 4.4M386.2 156.9l-4.1 -2.1M382.0 149.4l2.2 -2.4M393.0 138.7l3.5 -1.2M401.8 168.7l1.5 3.9M346.5 169.8l-2.4 -3.7M422.3 131.2l-3.9 -2.4M371.2 158.2l-2.7 2.2M347.7 154.2l0.5 -4.8M394.9 136.1l0.8 -2.8M402.8 153.7l1.8 4.3M344.9 144.4l-3.1 5.4M340.5 153.5l-0.6 4.0M325.4 149.7l3.5 -1.3M346.8 142.9l4.8 -0.6M354.2 146.5l5.2 3.8M368.6 174.6l3.3 4.1M371.9 178.7l-0.8 4.6" stroke="#9955ff"/>
<path d="M381.1 126.8l-2.4 1.3M357.1 128.3l-0.3 3.3M355.5 136.7l-3.2 3.1M377.5 137.7l2.6 1.0M355.5 178.6l-3.2 0.7M345.0 176.2l-3.7 -3.1M339.7 169.3l-3.8 -0.6M393.1 142.0l-0.1 -3.2M393.3 172.7l-3.2 -1.5M345.0 176.8l3.0 -3.0M394.6 159.5l3.8 -2.1M417.4 147.8l3.0 1.6M359.5 146.4l-2.0 2.2M407.1 132.0l1.9 4.1M374.9 158.4l-3.8 -0.1M341.8 149.2l-1.2 3.8M321.6 173.5l0.7 5.2M364.3 145.0l0.0 6.0M256.5 168.9l2.7 -2.5M313.4 145.8l4.6 -2.1M362.7 153.5l3.5 3.9" stroke="#ff3333"/>
<path d="M365.4 176.6l-4.8 0.5M360.6 177.1l-3.4 3.3M387.3 135.3l1.8 2.4M389.7 140.2l3.7 1.9M392.7 179.6l2.9 2.0M335.9 168.7l0.4 3.1M384.2 147.0l3.2 -1.0M390.1 171.3l-2.7 1.1M427.1 171.1l-2.6 0.8M348.0 173.7l-1.5 -4.0M382.5 145.2l2.4 -1.4M399.8 129.5l4.1 0.8M362.7 153.4l-3.5 -2.8M405.0 179.2l-1.1 2.7M424.2 174.0l-0.4 4.4M366.7 157.0l1.4 3.8M326.2 136.3l5.2 0.8M346.9 136.5l1.6 4.6M365.7 165.0l0.1 5.9" stroke="#ff9922"/>
<path d="M357.2 180.4l-2.3 2.3M378.7 128.0l-4.1 0.5M374.4 134.2l3.2 1.0M341.1 141.0l3.0 -1.5M380.1 138.7l4.1 2.8M397.3 177.1l1.7 2.0M341.3 173.1l-1.7 -3.8M351.9 132.7l-3.0 -1.9M351.2 149.2l-3.9 -2.5M402.4 152.0l0.2 -3.6M386.1 136.2l-1.9 -3.1M384.2 133.1l3.5 -2.0M387.7 131.1l4.4 -1.4M406.2 130.1l3.7 3.1M360.8 159.5l-3.1 -0.4M371.3 146.8l-3.3 -1.4M394.3 154.0l1.6 -2.3M392.7 155.6l-0.8 -4.3M412.7 154.2l3.6 2.2M424.9 165.7l-0.1 4.8M322.3 178.7l1.7 5.7M364.3 151.0l2.4 6.0M291.2 158.9l4.8 -1.8M331.3 137.1l6.1 -2.1M337.5 135.0l6.2 -0.5" stroke="#44bbee"/>
<path d="M393.3 142.1l0.2 2.5M345.1 137.6l-3.6 -3.3M406.7 141.4l3.0 -2.7M360.9 175.8l-2.8 0.6M396.5 137.5l2.7 -2.5M340.1 162.2l3.4 -1.8M394.6 165.9l-1.6 -3.9M393.0 162.0l1.6 -2.5M399.7 145.6l-0.7 -2.8M418.4 128.8l-1.6 -2.2M392.1 129.7l2.3 1.5M356.0 151.3l-2.3 1.3M403.9 130.3l2.2 -1.6M409.0 136.1l2.5 1.7M340.7 153.0l0.4 3.2M424.6 158.6l1.7 3.2M272.7 169.2l6.1 -1.6M329.6 158.0l-4.7 -0.0M369.5 162.3l-3.7 2.7" stroke="#c8c050"/>
<path d="M370.8 136.8l1.7 -4.1M403.5 141.3l3.3 0.1M349.1 177.9l-4.1 -1.8M399.3 135.0l1.2 -4.5M363.9 153.2l0.5 -3.0M362.0 140.5l-2.7 -3.4M344.2 166.1l-1.8 -2.1M348.2 152.4l2.9 -3.2M398.4 157.4l2.5 -1.9M402.7 132.4l0.5 3.2M368.5 160.4l-3.7 -1.0M402.4 179.1l3.1 1.2M405.5 180.3l1.9 1.8M346.8 154.3l-1.4 2.2M395.4 164.0l-2.1 -2.3M391.9 158.7l0.8 -3.1M371.1 158.3l-0.9 -2.9M367.2 155.1l-4.5 -1.7M421.2 156.4l3.4 2.1M278.7 167.5l5.0 -1.5M288.3 162.9l2.8 -4.1M303.0 150.4l4.1 -4.3" stroke="#11ccbb"/>
<path d="M374.2 131.1l0.2 3.1M358.4 125.8l-1.3 2.4M352.3 139.8l-3.7 -1.0M390.4 144.6l4.7 0.4M400.5 140.8l3.0 0.5M365.0 157.6l-1.1 -4.4M363.1 144.9l-1.1 -4.4M424.5 171.8l-2.9 1.2M343.5 160.5l1.1 -3.0M398.1 167.5l-3.6 -1.6M406.5 145.5l4.5 -0.4M387.2 140.4l-1.1 -4.2M380.8 161.5l-4.6 -0.4M357.7 159.1l-3.9 -1.5M402.6 162.2l-2.4 1.3M269.2 164.3l3.5 4.9M295.9 157.1l3.1 -3.2" stroke="#dd33ff"/>
<path d="M366.9 180.8l-1.5 -4.2M374.6 128.5l-0.4 2.6M382.5 135.0l4.8 0.3M358.6 133.9l-3.2 2.8M348.6 138.8l-3.5 -1.2M384.1 141.5l3.6 0.2M397.2 142.2l3.3 -1.4M390.8 144.4l2.3 -2.4M355.0 134.9l-3.1 -2.3M430.6 168.6l-3.5 2.5M400.9 155.5l2.4 -1.1M402.6 148.3l-3.0 -2.7M421.5 151.8l1.8 2.0M384.9 143.8l2.4 -3.4M353.8 157.6l-4.5 -0.4M395.7 133.3l1.2 -2.4M409.1 141.0l-0.4 3.3M405.9 154.7l2.6 0.6M379.7 175.0l-0.6 6.0M321.4 140.0l4.8 -3.7M348.5 141.1l-3.6 3.3M341.8 149.7l-1.3 3.8M351.6 142.2l2.5 4.3M371.1 183.4l-0.4 2.7" stroke="#88dd33"/>
<path d="M377.1 148.9l-3.6 0.1M373.5 149.0l-0.3 4.3M367.0 162.3l-4.3 -0.8M363.2 160.8l3.0 2.8M394.5 179.9l3.8 0.9M357.8 127.7l-3.3 1.0M405.0 146.0l0.3 -5.0M388.1 168.6l-1.8 -1.8M361.8 158.3l3.0 -2.3M376.5 134.3l-3.7 -0.9M362.5 128.3l-2.8 -2.5M380.6 147.7l2.4 3.7M382.7 154.1l0.1 4.4M382.8 158.5l-4.7 0.7M362.9 157.6l-2.8 3.4M347.3 137.1l-5.0 0.5M342.3 137.7l-4.6 -0.6M412.6 140.7l1.3 -3.0M402.6 177.6l3.7 -1.8M378.6 146.3l0.2 -4.0M368.8 127.4l-0.1 -0.2M376.0 140.5l1.5 5.2" stroke="#00ccff"/>
<path d="M381.5 161.0l1.3 3.0M396.2 153.1l2.9 -0.5M372.1 170.2l0.6 -2.6M355.5 168.7l-2.6 -0.7M352.8 168.0l-4.1 -0.4M400.7 137.5l-3.0 2.5M371.9 159.9l-4.1 1.6M367.8 161.5l-3.0 -3.6M378.5 156.1l-2.9 -2.7M408.1 138.2l2.0 2.5M385.0 163.8l-4.5 -0.8M400.5 180.1l-1.7 -4.0M392.8 150.7l-0.9 -3.8M351.1 134.9l-2.5 -0.4M419.9 155.5l-4.7 0.4M419.6 149.8l0.4 4.0M361.2 177.3l1.6 -3.3M364.8 163.9l3.5 -5.4M375.6 135.9l0.4 4.5M377.5 145.7l1.5 4.5M377.6 155.9l-3.5 3.3" stroke="#3344ff"/>
<path d="M369.5 158.9l-2.5 3.4M369.7 157.4l1.9 2.2M383.4 166.6l-1.5 4.5M408.6 149.8l2.9 1.7M377.0 170.9l-3.5 2.6M385.0 181.0l-1.0 3.2M361.2 173.0l-4.5 -2.1M371.3 153.8l-1.7 4.7M360.1 170.0l-3.7 2.8M410.1 140.7l2.2 4.2M366.3 157.7l-1.3 2.3M383.1 151.4l-0.4 2.7M417.3 163.1l2.1 -4.1M405.0 153.8l-2.1 2.7M421.5 139.5l3.5 2.9M429.2 140.6l-1.7 -3.5M415.4 143.5l2.1 3.1M372.2 128.5l2.4 3.7" stroke="#ff22cc"/>
<path d="M382.3 151.0l-2.6 0.1M392.2 171.8l0.2 3.2M392.4 175.0l-1.2 2.3M346.8 130.4l-2.9 1.3M340.0 169.4l-2.3 4.4M362.5 165.7l-2.4 4.3M356.3 172.8l-1.6 4.4M378.3 159.5l-4.6 0.9M370.5 151.4l-3.6 -0.7M400.3 166.5l-1.3 -2.7M391.9 146.9l-0.0 -4.1M372.7 133.4l-2.7 -2.9M378.1 159.2l-3.9 0.4M365.0 141.5l-4.6 0.7M353.3 144.5l-2.0 -3.4M337.7 137.1l-2.7 1.2M413.8 137.7l-0.4 -4.0M406.3 175.8l2.5 0.5M422.2 136.1l-0.7 3.3M434.0 132.4l3.2 1.9M374.0 159.3l-1.4 3.7M368.1 165.3l-5.4 0.3M362.7 165.5l-5.0 2.2" stroke="#ff4488"/>
<path d="M388.8 153.7l-2.5 -0.9M367.1 155.5l2.6 1.8M378.2 159.7l3.3 1.3M370.9 164.0l3.9 -2.9M379.2 168.7l-2.1 2.2M383.7 170.8l3.7 -1.4M412.3 144.9l1.9 2.1M380.3 143.2l-3.3 -0.6M414.0 178.1l3.0 2.8M420.0 180.1l-3.2 -3.2M417.5 130.8l3.4 2.5M417.5 146.6l2.1 3.2M419.8 158.0l-0.1 6.0M414.4 178.8l1.0 5.9M371.4 132.6l-2.7 -5.2" stroke="#e8d840"/>
<path d="M374.4 157.6l3.8 2.1M393.4 155.2l2.8 -2.1M399.1 152.6l4.8 -1.2M356.7 170.9l-1.3 -2.2M334.0 175.9l-3.7 -0.7M381.7 156.6l-3.2 -0.5M390.8 132.0l2.3 2.3M396.1 132.4l3.7 0.8M360.3 160.6l1.5 -2.3M360.1 161.0l-2.2 2.7M360.4 142.2l-2.9 2.5M412.1 130.7l2.3 -2.9M414.3 166.3l3.0 -3.2M402.9 156.5l-2.9 3.5M421.0 133.3l1.3 2.8M362.8 174.0l1.3 -6.0M364.2 168.0l0.6 -4.2M376.1 151.8l2.6 -5.4M355.0 170.4l-1.3 4.7" stroke="#22dd55"/>
<path d="M372.6 156.8l-3.0 2.1M386.4 171.4l4.5 1.0M403.9 151.4l4.7 -1.5M380.6 164.4l-1.5 4.3M373.5 173.5l-1.4 -3.2M351.3 130.8l-4.5 -0.4M398.5 146.9l-2.7 0.5M365.7 163.7l-3.2 2.0M372.3 155.8l-1.8 -4.3M398.8 176.1l-1.3 -2.8M399.6 169.7l0.7 -3.2M399.0 163.8l-1.6 -2.7M370.0 130.5l-3.7 -1.4M361.0 127.3l-0.8 -2.8M380.4 145.1l0.2 2.7M370.4 159.0l-3.3 -3.1M413.4 133.7l-1.3 -3.0M415.2 155.9l-2.4 -1.4M430.7 133.6l3.4 -1.2M378.9 142.4l-1.4 -4.7M357.7 167.7l-2.7 2.7" stroke="#9955ff"/>
<path d="M374.8 161.1l4.4 -0.3M391.6 168.8l0.6 3.0M386.6 178.5l-1.6 2.5M343.9 131.6l3.4 1.1M406.1 136.9l-3.1 1.6M375.1 160.0l-3.1 -0.1M364.8 157.9l0.0 -2.5M364.9 155.4l0.2 -4.1M369.6 158.5l-1.4 2.3M397.4 161.1l-0.7 -3.8M396.7 157.3l-2.1 -3.9M371.0 148.0l0.1 3.2M371.1 151.2l-2.1 4.5M369.0 155.7l-2.6 2.0M379.2 142.6l-0.6 -4.9M357.5 127.7l3.5 -0.4M357.5 144.7l-4.1 -0.3M397.9 161.6l0.4 3.4M419.8 164.0l-0.6 4.6M416.6 174.4l-2.2 4.4M374.7 132.2l0.9 3.8M372.6 163.0l-4.5 2.3" stroke="#ff3333"/>
<path d="M384.2 173.1l2.2 -1.7M410.0 154.5l-2.9 1.1M361.8 158.6l1.4 2.2M360.8 126.8l-3.0 0.9M403.0 138.5l-2.3 -1.1M397.7 139.9l0.8 2.6M392.7 144.8l-2.7 -2.7M381.0 161.1l-2.8 -3.8M365.0 151.3l1.5 -4.3M400.7 135.7l2.4 1.5M378.6 146.7l0.6 -4.1M378.6 137.7l-2.1 -3.4M408.4 153.5l-3.3 0.3M400.0 160.0l-2.1 1.5M416.0 172.1l-0.1 -3.3M414.7 130.6l2.8 0.2M377.5 137.6l-2.0 -3.9" stroke="#ff9922"/>
<path d="M362.7 161.5l-1.2 -3.3M366.2 163.6l4.7 0.4M379.2 160.8l1.4 3.6M393.7 176.4l0.8 3.5M372.5 129.1l-4.3 -1.6M348.8 167.6l-3.0 3.5M398.5 142.5l1.5 2.1M403.1 137.3l2.4 -1.4M366.9 150.8l-2.4 1.2M397.6 173.2l2.0 -3.5M365.0 160.0l-4.8 0.7M408.9 176.2l2.6 0.9M411.4 177.1l2.5 1.0M416.9 180.9l3.1 -0.9M425.0 142.3l4.2 -1.8M420.0 153.8l-0.1 4.3" stroke="#44bbee"/>
<path d="M386.3 152.8l-4.0 -1.7M373.2 153.3l-0.7 3.5M381.9 171.1l2.2 1.9M396.6 162.7l-4.1 -2.8M408.5 159.8l3.4 2.2M343.3 171.8l-3.3 -2.4M395.7 147.4l-3.1 -2.6M386.3 166.8l-3.0 -3.1M383.3 163.7l-2.2 -2.6M368.2 160.8l-2.5 2.9M405.5 135.8l2.6 2.4M393.5 161.5l-2.5 3.7M391.0 165.2l-3.5 -0.8M380.5 162.9l-2.2 -3.4M373.2 144.5l-2.2 3.5M374.2 159.7l-3.7 -0.7M414.5 127.8l3.6 -2.3M412.8 154.5l-4.4 -1.0M415.5 184.7l1.2 7.1M373.8 155.5l2.3 -3.7M379.0 150.1l-1.5 5.8M354.2 181.0l-2.7 4.9" stroke="#c8c050"/>
<path d="M379.7 151.1l-2.6 -2.2M407.1 155.6l1.4 4.1M387.3 169.5l4.2 -0.7M398.3 180.8l3.4 0.9M377.2 134.5l-4.6 -1.5M354.5 128.7l-3.3 2.0M364.5 173.2l-3.2 -0.2M405.3 141.1l0.8 -4.2M378.3 157.3l-3.2 2.7M395.9 160.3l-2.4 1.2M373.7 160.4l-1.4 -4.6M383.8 140.4l-3.4 2.7M377.0 149.3l1.6 -2.6M349.8 138.6l1.3 -3.7M348.6 134.5l-1.3 2.6M419.4 158.9l0.5 -3.5M398.5 176.4l4.1 1.2M416.8 176.9l-0.8 -4.8M410.6 130.8l4.1 -0.2" stroke="#11ccbb"/>
<path d="M382.8 164.0l0.6 2.6M411.5 151.5l-1.4 3.0M379.0 176.7l2.2 -1.8M381.2 175.0l2.4 -4.1M391.2 177.2l-4.5 1.2M364.3 124.9l-3.4 1.9M345.8 171.1l-2.5 0.7M400.0 144.6l-1.5 2.2M381.4 161.0l0.3 -4.4M393.1 134.3l3.0 -1.9M414.1 147.0l2.5 0.9M387.6 164.4l-2.5 -0.6M394.6 153.4l-1.8 -2.8M366.4 129.0l-3.9 -0.7M367.1 155.9l-4.2 1.7M351.3 141.0l-1.5 -2.4M395.2 178.6l3.3 -2.2M427.5 137.1l3.2 -3.5M419.1 168.6l-2.5 5.8M375.5 133.7l-4.1 -1.1M368.7 127.1l3.5 1.3M421.4 133.4l-0.9 -4.6" stroke="#dd33ff"/>
<path d="M371.5 159.5l2.9 -2.0M392.5 159.9l0.9 -4.7M383.9 184.2l-0.8 2.5M372.6 133.0l-0.1 -3.9M368.2 127.5l-3.9 -2.6M337.7 173.8l-3.7 2.1M375.7 153.5l-4.4 0.3M399.9 133.2l0.8 2.5M377.0 142.6l-3.8 1.9M368.2 158.5l5.6 -3.1M353.7 175.1l0.5 5.9" stroke="#88dd33"/>
<path d="M396.4 166.5l1.9 -2.1M385.5 174.4l-3.6 -0.7M406.8 168.5l1.8 3.7M373.1 176.3l2.1 1.7M355.4 128.3l-2.2 4.4M372.0 147.9l1.2 2.4M392.2 151.3l2.5 3.3M397.2 155.1l4.3 -0.3M411.8 155.3l1.7 2.7M373.3 160.6l-0.1 -4.2M387.3 179.0l-3.9 2.0M383.4 181.0l-0.9 2.8M376.3 144.3l2.6 -3.8M390.1 154.5l0.4 -3.7M381.5 150.7l-3.6 -2.0M377.9 148.8l-3.6 -2.9M402.6 152.0l0.1 -2.7M404.7 137.5l4.2 -0.9M414.5 142.9l-2.8 2.3M367.1 159.7l2.2 2.3M380.6 129.4l3.5 -0.5M384.1 128.9l3.3 1.9M371.4 161.4l-2.1 1.9M323.5 156.7l-3.6 -0.8M281.2 153.0l-5.5 -3.0" stroke="#00ccff"/>
<path d="M397.7 167.3l2.9 -0.2M340.5 129.4l-2.0 -4.3M417.9 130.8l-3.2 -1.0M408.3 165.7l-1.5 2.7M374.1 147.0l3.4 -0.9M377.3 143.0l-1.3 -3.1M364.4 143.1l1.6 2.5M378.6 159.3l-1.1 4.2M375.2 170.9l-0.5 3.2M376.4 173.9l4.0 -1.2M353.2 132.7l-0.2 3.1M385.0 155.9l0.0 -2.8M374.0 150.5l-0.4 -4.5M360.7 127.1l4.3 0.5M374.0 127.2l3.5 -2.4M318.2 153.2l-0.7 3.8M390.5 150.8l-2.2 -2.6M372.2 144.3l-1.4 -3.6M385.5 165.6l-1.6 4.0M404.6 157.5l-3.5 -3.2M401.0 154.3l1.6 -2.3M401.9 140.7l-3.9 -0.1M408.7 145.1l-2.0 -3.4M400.2 168.4l-1.8 3.7M394.0 172.1l0.5 2.6M426.5 171.7l-2.0 -4.6M393.5 136.5l0.0 4.1" stroke="#3344ff"/>
<path d="M400.6 167.1l2.1 4.1M377.6 163.4l-1.2 4.6M385.4 170.7l-1.4 -3.3M384.0 163.3l-3.8 -1.7M386.7 154.6l-3.1 -2.8M376.9 151.6l-2.8 -1.1M368.0 128.8l3.0 -1.6M328.5 157.6l-3.4 -2.1M311.6 175.3l3.2 1.9M414.0 152.1l-1.1 4.2M406.7 141.7l4.3 -2.1M373.7 152.0l-3.1 -0.5M363.8 153.3l-1.9 -2.4M374.6 155.0l-2.6 -3.8M432.6 162.9l-0.9 -6.0M345.4 156.4l-5.9 1.0M339.5 157.4l-6.2 1.4M319.8 155.9l-5.6 -0.6" stroke="#ff22cc"/>
<path d="M398.4 164.5l1.2 -2.5M386.8 175.0l-3.4 0.3M375.4 178.8l-2.0 4.1M355.3 138.3l2.2 1.5M375.9 158.2l2.7 -0.6M378.8 140.5l1.0 -2.7M317.5 157.0l-0.5 2.8M389.5 159.0l-1.5 -2.7M390.4 178.7l3.0 0.7M393.5 179.4l0.2 5.0M401.2 137.1l3.5 0.3M400.6 177.4l2.5 1.6M378.5 133.2l2.1 -3.8M387.3 130.8l2.3 1.8M372.1 158.1l2.5 -3.2M368.9 152.4l-1.6 3.0M368.0 158.8l3.4 2.6M369.3 163.3l2.7 3.4M430.6 166.2l1.9 -3.3M300.2 147.0l-5.1 -3.3M260.7 153.5l-4.8 0.8" stroke="#ff4488"/>
<path d="M402.7 171.2l-3.2 1.4M389.7 170.4l-2.1 -3.9M388.5 175.2l-2.9 -0.8M381.9 173.7l-3.0 0.8M411.7 130.0l-2.4 -2.2M396.5 173.3l-3.9 -1.9M389.4 171.4l-4.3 -2.2M374.8 161.4l-1.4 -2.9M368.8 165.2l-3.9 -1.2M373.7 140.9l-4.9 -1.2M376.4 168.1l-1.2 2.8M382.2 160.0l0.6 3.3M375.8 171.8l-0.9 2.7M390.5 175.2l-3.2 3.8M325.1 155.5l-4.0 -2.1M388.1 156.3l2.0 -1.8M416.6 138.6l-2.0 4.4M376.1 155.2l-2.4 -3.2M367.9 152.6l-4.0 0.8M397.7 166.3l2.4 2.1M406.0 155.0l-1.6 2.0M333.3 158.8l-5.9 -1.1M314.3 155.3l-5.8 0.4M295.1 143.6l-4.5 -1.8M275.8 150.0l-5.8 1.4" stroke="#e8d840"/>
<path d="M399.5 172.6l-3.3 0.5M413.6 162.4l-3.3 1.6M392.6 171.4l-3.2 -0.0M379.0 166.0l-2.7 -1.1M384.4 165.8l-0.4 -2.5M381.8 167.0l-2.7 3.5M357.5 139.8l4.4 1.2M401.5 154.8l2.9 0.0M413.5 158.0l2.3 1.4M389.1 169.6l2.7 2.1M385.9 157.0l0.8 -2.4M383.6 151.8l-2.8 -1.6M382.4 172.9l0.2 4.3M375.7 177.9l0.7 3.3M402.7 149.3l0.3 -3.9M372.2 160.3l1.1 -3.4M398.3 172.0l-4.3 0.1M403.3 160.9l-1.1 3.2M377.1 171.9l3.9 -1.0M421.7 130.1l3.2 -2.9M305.0 152.0l-1.9 -2.9" stroke="#22dd55"/>
<path d="M392.6 160.1l2.0 3.6M418.7 166.4l0.1 -3.2M418.7 163.2l4.1 2.7M382.5 167.8l-3.6 -1.8M362.8 139.0l1.6 4.1M383.4 175.3l-4.9 -1.0M379.6 158.3l2.6 1.7M374.9 174.4l0.5 4.3M373.6 146.0l2.7 -1.7M311.1 171.3l0.5 4.0M384.5 163.0l1.0 2.6M404.5 141.3l-2.6 -0.6M398.0 175.4l2.6 2.0M399.0 143.5l4.2 -2.6M358.9 178.3l-4.1 4.0M431.6 156.9l-3.2 -3.4M422.1 140.0l-2.3 -3.9M303.1 149.1l-2.8 -2.1" stroke="#9955ff"/>
<path d="M389.9 170.8l-1.5 4.3M366.0 145.6l-0.0 2.7M392.1 178.3l-2.5 -3.9M378.5 174.4l-4.4 0.3M374.1 153.2l-0.4 4.4M373.2 156.4l2.7 1.7M371.0 127.2l3.0 -0.0M317.3 164.0l-2.5 3.2M314.9 167.2l-2.1 1.6M312.7 168.7l-1.6 2.6M384.7 147.5l-3.3 3.2M382.6 177.2l2.9 1.1M385.5 178.3l0.7 2.4M379.6 176.2l-3.9 1.7M411.8 145.2l-3.1 -0.1M357.4 150.1l-4.2 -1.3M424.5 167.1l-3.7 -2.8M420.9 164.3l-0.9 -3.6M412.1 151.0l-4.5 1.7M372.1 166.7l2.3 3.3M428.7 170.8l2.0 -4.6M423.6 143.6l-1.6 -3.6M290.6 141.8l-0.8 4.5" stroke="#ff3333"/>
<path d="M391.8 172.2l-2.1 -1.8M336.2 133.6l2.9 -0.7M399.6 161.9l-4.0 -2.2M414.7 129.9l-3.0 0.1M366.0 148.3l-1.8 2.9M366.0 143.5l3.3 3.6M369.2 147.1l2.8 0.8M394.7 154.7l2.5 0.4M386.7 173.1l-1.3 -2.5M384.1 167.3l-0.0 -4.0M317.0 159.7l0.4 4.3M395.9 162.4l1.9 3.9M416.1 153.1l-4.0 -2.1M407.6 152.7l-1.6 2.3M372.0 151.2l-3.1 1.2M419.8 136.1l2.0 -6.1M289.8 146.4l-2.5 3.4M287.3 149.7l-1.2 4.0" stroke="#ff9922"/>
<path d="M385.3 164.5l-2.5 1.2M412.5 170.3l4.4 -1.3M376.2 164.9l-1.5 -3.5M376.7 182.3l1.3 3.3M374.1 174.6l-2.0 -2.5M380.4 172.7l0.7 -4.6M362.0 141.0l4.0 2.5M380.2 161.6l-3.8 1.5M364.3 128.5l-3.6 -1.4M321.0 153.3l-2.9 -0.2M383.9 169.6l-1.5 3.3M408.9 136.6l5.0 0.7M369.3 162.0l2.9 -1.7M417.8 157.4l-1.7 -4.2M428.5 153.5l-2.4 -5.8M426.1 147.7l-2.5 -4.1M265.1 153.3l-4.3 0.2" stroke="#44bbee"/>
<path d="M394.6 163.7l3.1 3.6M387.6 166.5l-2.3 -2.0M339.2 132.8l1.4 -3.4M395.6 159.7l-4.2 -1.1M391.4 158.6l-1.3 4.2M409.3 127.8l-1.1 -2.5M418.3 163.3l-4.7 -0.9M410.3 164.0l-1.9 1.8M422.9 165.9l4.7 -0.6M373.4 158.5l-2.1 2.9M377.5 146.0l-0.3 -3.0M376.0 139.9l-2.3 1.0M377.8 154.4l0.9 4.8M404.4 154.8l4.1 0.8M381.3 158.5l0.5 4.2M365.0 127.6l3.0 1.2M374.3 145.8l-2.0 -1.5M403.0 145.3l1.5 -4.1M370.6 151.5l-2.7 1.0M420.0 160.8l-2.2 -3.4M367.3 155.5l0.8 3.3M308.4 155.7l-3.4 -3.7" stroke="#c8c050"/>
<path d="M390.1 162.8l-0.5 4.8M408.6 172.2l3.9 -1.9M416.9 169.0l1.8 -2.6M368.8 139.7l-2.5 -2.7M374.6 174.1l-1.6 2.2M389.6 174.4l-2.9 0.6M408.5 155.6l3.3 -0.2M378.6 157.6l2.7 0.9M378.9 134.0l-2.3 -4.4M416.3 149.2l-2.4 2.9M412.9 156.3l-4.1 0.3M413.9 137.2l2.7 1.4M327.4 157.7l-3.9 -1.0M286.1 153.7l-4.8 -0.8" stroke="#11ccbb"/>
<path d="M396.2 173.0l-4.4 -0.8M389.6 167.6l0.3 3.2M371.3 161.4l-2.4 3.8M379.1 170.5l-3.4 1.3M376.4 163.1l-3.0 -2.5M380.8 150.2l-3.9 1.4M370.8 140.7l-2.7 -3.1M408.8 156.6l-4.2 0.9M373.3 156.9l2.8 -1.7M361.9 150.9l-4.5 -0.8M404.4 157.0l-1.0 3.9M389.6 132.6l4.1 -0.3M393.5 140.6l2.2 2.9M395.7 143.5l3.4 0.1M403.2 140.9l3.5 -0.8M374.4 170.0l2.7 2.0M362.8 175.7l-3.9 2.6M349.0 154.1l-3.7 2.3M270.0 151.4l-5.0 1.8" stroke="#dd33ff"/>
<path d="M385.1 169.1l-2.6 -1.3M366.3 137.0l-3.5 2.0M375.1 178.0l1.6 4.2M372.0 172.1l4.3 1.7M381.0 168.1l3.4 -2.3M382.8 163.3l-0.9 3.7M353.0 135.9l2.3 2.4M373.2 150.3l0.9 2.8M385.1 153.1l2.6 -2.6M387.7 150.6l4.5 0.8M391.8 171.7l-1.3 3.5M379.8 137.8l-0.9 -3.8M388.3 148.2l-3.6 -0.6M386.2 180.7l4.2 -2.0M383.7 178.4l-4.1 -2.1M394.8 137.6l3.8 0.1M398.6 137.7l2.6 -0.6M395.9 158.8l-0.0 3.5M394.5 174.7l3.5 0.7M403.2 179.0l1.3 2.2M393.8 132.4l-0.3 4.1" stroke="#88dd33"/>
</g>
<rect x="257.2" y="124.3" width="284" height="56.9" fill="none" stroke="#555" stroke-width="1.2"/>
<rect x="286.2" y="96.6" width="226.6" height="13.4" fill="#fff" stroke="#666" stroke-width="1.1"/>
<line x1="399.20" y1="96.60" x2="399.20" y2="110.00" stroke="#777" stroke-width="1" />
<rect x="291" y="110.3" width="216.5" height="13.8" fill="#000"/>
<line x1="302.0" y1="111.3" x2="302.0" y2="116.2" stroke="#f4f4f4" stroke-width="1.3" opacity="0.10"/>
<line x1="305.0" y1="111.3" x2="305.0" y2="116.2" stroke="#f4f4f4" stroke-width="1.3" opacity="0.17"/>
<line x1="308.0" y1="111.3" x2="308.0" y2="116.2" stroke="#f4f4f4" stroke-width="1.3" opacity="0.25"/>
<line x1="311.0" y1="111.3" x2="311.0" y2="116.2" stroke="#f4f4f4" stroke-width="1.3" opacity="0.33"/>
<line x1="314.0" y1="111.3" x2="314.0" y2="116.2" stroke="#f4f4f4" stroke-width="1.3" opacity="0.40"/>
<line x1="314.0" y1="119.2" x2="314.0" y2="123.6" stroke="#f2f2f2" stroke-width="1.2" opacity="0.08"/>
<line x1="317.0" y1="111.3" x2="317.0" y2="116.2" stroke="#f4f4f4" stroke-width="1.3" opacity="0.47"/>
<line x1="317.0" y1="119.2" x2="317.0" y2="123.6" stroke="#f2f2f2" stroke-width="1.2" opacity="0.15"/>
<line x1="320.0" y1="111.3" x2="320.0" y2="116.2" stroke="#f4f4f4" stroke-width="1.3" opacity="0.55"/>
<line x1="320.0" y1="119.2" x2="320.0" y2="123.6" stroke="#f2f2f2" stroke-width="1.2" opacity="0.21"/>
<line x1="323.0" y1="111.3" x2="323.0" y2="116.2" stroke="#f4f4f4" stroke-width="1.3" opacity="0.62"/>
<line x1="323.0" y1="119.2" x2="323.0" y2="123.6" stroke="#f2f2f2" stroke-width="1.2" opacity="0.27"/>
<line x1="326.0" y1="111.3" x2="326.0" y2="116.2" stroke="#f4f4f4" stroke-width="1.3" opacity="0.70"/>
<line x1="326.0" y1="119.2" x2="326.0" y2="123.6" stroke="#f2f2f2" stroke-width="1.2" opacity="0.34"/>
<line x1="329.0" y1="111.3" x2="329.0" y2="116.2" stroke="#f4f4f4" stroke-width="1.3" opacity="0.78"/>
<line x1="329.0" y1="119.2" x2="329.0" y2="123.6" stroke="#f2f2f2" stroke-width="1.2" opacity="0.40"/>
<line x1="332.0" y1="111.3" x2="332.0" y2="116.2" stroke="#f4f4f4" stroke-width="1.3" opacity="0.85"/>
<line x1="332.0" y1="119.2" x2="332.0" y2="123.6" stroke="#f2f2f2" stroke-width="1.2" opacity="0.46"/>
<line x1="335.0" y1="111.3" x2="335.0" y2="116.2" stroke="#f4f4f4" stroke-width="1.3" opacity="0.93"/>
<line x1="335.0" y1="119.2" x2="335.0" y2="123.6" stroke="#f2f2f2" stroke-width="1.2" opacity="0.53"/>
<line x1="338.0" y1="111.3" x2="338.0" y2="116.2" stroke="#f4f4f4" stroke-width="1.3" opacity="1.00"/>
<line x1="338.0" y1="119.2" x2="338.0" y2="123.6" stroke="#f2f2f2" stroke-width="1.2" opacity="0.59"/>
<line x1="341.0" y1="111.3" x2="341.0" y2="116.2" stroke="#f4f4f4" stroke-width="1.3" opacity="1.00"/>
<line x1="341.0" y1="119.2" x2="341.0" y2="123.6" stroke="#f2f2f2" stroke-width="1.2" opacity="0.65"/>
<line x1="344.0" y1="111.3" x2="344.0" y2="116.2" stroke="#f4f4f4" stroke-width="1.3" opacity="1.00"/>
<line x1="344.0" y1="119.2" x2="344.0" y2="123.6" stroke="#f2f2f2" stroke-width="1.2" opacity="0.72"/>
<line x1="347.0" y1="111.3" x2="347.0" y2="116.2" stroke="#f4f4f4" stroke-width="1.3" opacity="1.00"/>
<line x1="347.0" y1="119.2" x2="347.0" y2="123.6" stroke="#f2f2f2" stroke-width="1.2" opacity="0.78"/>
<line x1="350.0" y1="111.3" x2="350.0" y2="116.2" stroke="#f4f4f4" stroke-width="1.3" opacity="1.00"/>
<line x1="350.0" y1="119.2" x2="350.0" y2="123.6" stroke="#f2f2f2" stroke-width="1.2" opacity="0.84"/>
<line x1="353.0" y1="111.3" x2="353.0" y2="116.2" stroke="#f4f4f4" stroke-width="1.3" opacity="1.00"/>
<line x1="353.0" y1="119.2" x2="353.0" y2="123.6" stroke="#f2f2f2" stroke-width="1.2" opacity="0.91"/>
<line x1="356.0" y1="111.3" x2="356.0" y2="116.2" stroke="#f4f4f4" stroke-width="1.3" opacity="1.00"/>
<line x1="356.0" y1="119.2" x2="356.0" y2="123.6" stroke="#f2f2f2" stroke-width="1.2" opacity="0.95"/>
<line x1="359.0" y1="111.3" x2="359.0" y2="116.2" stroke="#f4f4f4" stroke-width="1.3" opacity="1.00"/>
<line x1="359.0" y1="119.2" x2="359.0" y2="123.6" stroke="#f2f2f2" stroke-width="1.2" opacity="0.95"/>
<line x1="362.0" y1="111.3" x2="362.0" y2="116.2" stroke="#f4f4f4" stroke-width="1.3" opacity="1.00"/>
<line x1="362.0" y1="119.2" x2="362.0" y2="123.6" stroke="#f2f2f2" stroke-width="1.2" opacity="0.95"/>
<line x1="365.0" y1="111.3" x2="365.0" y2="116.2" stroke="#f4f4f4" stroke-width="1.3" opacity="1.00"/>
<line x1="365.0" y1="119.2" x2="365.0" y2="123.6" stroke="#f2f2f2" stroke-width="1.2" opacity="0.95"/>
<line x1="368.0" y1="111.3" x2="368.0" y2="116.2" stroke="#f4f4f4" stroke-width="1.3" opacity="1.00"/>
<line x1="368.0" y1="119.2" x2="368.0" y2="123.6" stroke="#f2f2f2" stroke-width="1.2" opacity="0.95"/>
<line x1="371.0" y1="111.3" x2="371.0" y2="116.2" stroke="#f4f4f4" stroke-width="1.3" opacity="1.00"/>
<line x1="371.0" y1="119.2" x2="371.0" y2="123.6" stroke="#f2f2f2" stroke-width="1.2" opacity="0.95"/>
<line x1="374.0" y1="111.3" x2="374.0" y2="116.2" stroke="#f4f4f4" stroke-width="1.3" opacity="1.00"/>
<line x1="374.0" y1="119.2" x2="374.0" y2="123.6" stroke="#f2f2f2" stroke-width="1.2" opacity="0.95"/>
<line x1="377.0" y1="111.3" x2="377.0" y2="116.2" stroke="#f4f4f4" stroke-width="1.3" opacity="1.00"/>
<line x1="377.0" y1="119.2" x2="377.0" y2="123.6" stroke="#f2f2f2" stroke-width="1.2" opacity="0.95"/>
<line x1="380.0" y1="111.3" x2="380.0" y2="116.2" stroke="#f4f4f4" stroke-width="1.3" opacity="1.00"/>
<line x1="380.0" y1="119.2" x2="380.0" y2="123.6" stroke="#f2f2f2" stroke-width="1.2" opacity="0.95"/>
<line x1="383.0" y1="111.3" x2="383.0" y2="116.2" stroke="#f4f4f4" stroke-width="1.3" opacity="1.00"/>
<line x1="383.0" y1="119.2" x2="383.0" y2="123.6" stroke="#f2f2f2" stroke-width="1.2" opacity="0.95"/>
<line x1="386.0" y1="111.3" x2="386.0" y2="116.2" stroke="#f4f4f4" stroke-width="1.3" opacity="1.00"/>
<line x1="386.0" y1="119.2" x2="386.0" y2="123.6" stroke="#f2f2f2" stroke-width="1.2" opacity="0.95"/>
<line x1="389.0" y1="111.3" x2="389.0" y2="116.2" stroke="#f4f4f4" stroke-width="1.3" opacity="1.00"/>
<line x1="389.0" y1="119.2" x2="389.0" y2="123.6" stroke="#f2f2f2" stroke-width="1.2" opacity="0.95"/>
<line x1="392.0" y1="111.3" x2="392.0" y2="116.2" stroke="#f4f4f4" stroke-width="1.3" opacity="1.00"/>
<line x1="392.0" y1="119.2" x2="392.0" y2="123.6" stroke="#f2f2f2" stroke-width="1.2" opacity="0.95"/>
<line x1="395.0" y1="111.3" x2="395.0" y2="116.2" stroke="#f4f4f4" stroke-width="1.3" opacity="1.00"/>
<line x1="395.0" y1="119.2" x2="395.0" y2="123.6" stroke="#f2f2f2" stroke-width="1.2" opacity="0.95"/>
<line x1="398.0" y1="111.3" x2="398.0" y2="116.2" stroke="#f4f4f4" stroke-width="1.3" opacity="1.00"/>
<line x1="398.0" y1="119.2" x2="398.0" y2="123.6" stroke="#f2f2f2" stroke-width="1.2" opacity="0.95"/>
<line x1="401.0" y1="111.3" x2="401.0" y2="116.2" stroke="#f4f4f4" stroke-width="1.3" opacity="1.00"/>
<line x1="401.0" y1="119.2" x2="401.0" y2="123.6" stroke="#f2f2f2" stroke-width="1.2" opacity="0.95"/>
<line x1="404.0" y1="111.3" x2="404.0" y2="116.2" stroke="#f4f4f4" stroke-width="1.3" opacity="1.00"/>
<line x1="404.0" y1="119.2" x2="404.0" y2="123.6" stroke="#f2f2f2" stroke-width="1.2" opacity="0.95"/>
<line x1="407.0" y1="111.3" x2="407.0" y2="116.2" stroke="#f4f4f4" stroke-width="1.3" opacity="1.00"/>
<line x1="407.0" y1="119.2" x2="407.0" y2="123.6" stroke="#f2f2f2" stroke-width="1.2" opacity="0.95"/>
<line x1="410.0" y1="111.3" x2="410.0" y2="116.2" stroke="#f4f4f4" stroke-width="1.3" opacity="1.00"/>
<line x1="410.0" y1="119.2" x2="410.0" y2="123.6" stroke="#f2f2f2" stroke-width="1.2" opacity="0.95"/>
<line x1="413.0" y1="111.3" x2="413.0" y2="116.2" stroke="#f4f4f4" stroke-width="1.3" opacity="1.00"/>
<line x1="413.0" y1="119.2" x2="413.0" y2="123.6" stroke="#f2f2f2" stroke-width="1.2" opacity="0.95"/>
<line x1="416.0" y1="111.3" x2="416.0" y2="116.2" stroke="#f4f4f4" stroke-width="1.3" opacity="1.00"/>
<line x1="416.0" y1="119.2" x2="416.0" y2="123.6" stroke="#f2f2f2" stroke-width="1.2" opacity="0.95"/>
<line x1="419.0" y1="111.3" x2="419.0" y2="116.2" stroke="#f4f4f4" stroke-width="1.3" opacity="1.00"/>
<line x1="419.0" y1="119.2" x2="419.0" y2="123.6" stroke="#f2f2f2" stroke-width="1.2" opacity="0.95"/>
<line x1="422.0" y1="111.3" x2="422.0" y2="116.2" stroke="#f4f4f4" stroke-width="1.3" opacity="1.00"/>
<line x1="422.0" y1="119.2" x2="422.0" y2="123.6" stroke="#f2f2f2" stroke-width="1.2" opacity="0.95"/>
<line x1="425.0" y1="111.3" x2="425.0" y2="116.2" stroke="#f4f4f4" stroke-width="1.3" opacity="1.00"/>
<line x1="425.0" y1="119.2" x2="425.0" y2="123.6" stroke="#f2f2f2" stroke-width="1.2" opacity="0.95"/>
<line x1="428.0" y1="111.3" x2="428.0" y2="116.2" stroke="#f4f4f4" stroke-width="1.3" opacity="1.00"/>
<line x1="428.0" y1="119.2" x2="428.0" y2="123.6" stroke="#f2f2f2" stroke-width="1.2" opacity="0.95"/>
<line x1="431.0" y1="111.3" x2="431.0" y2="116.2" stroke="#f4f4f4" stroke-width="1.3" opacity="1.00"/>
<line x1="431.0" y1="119.2" x2="431.0" y2="123.6" stroke="#f2f2f2" stroke-width="1.2" opacity="0.95"/>
<line x1="434.0" y1="111.3" x2="434.0" y2="116.2" stroke="#f4f4f4" stroke-width="1.3" opacity="1.00"/>
<line x1="434.0" y1="119.2" x2="434.0" y2="123.6" stroke="#f2f2f2" stroke-width="1.2" opacity="0.95"/>
<line x1="437.0" y1="111.3" x2="437.0" y2="116.2" stroke="#f4f4f4" stroke-width="1.3" opacity="1.00"/>
<line x1="437.0" y1="119.2" x2="437.0" y2="123.6" stroke="#f2f2f2" stroke-width="1.2" opacity="0.95"/>
<line x1="440.0" y1="111.3" x2="440.0" y2="116.2" stroke="#f4f4f4" stroke-width="1.3" opacity="1.00"/>
<line x1="440.0" y1="119.2" x2="440.0" y2="123.6" stroke="#f2f2f2" stroke-width="1.2" opacity="0.93"/>
<line x1="443.0" y1="111.3" x2="443.0" y2="116.2" stroke="#f4f4f4" stroke-width="1.3" opacity="1.00"/>
<line x1="443.0" y1="119.2" x2="443.0" y2="123.6" stroke="#f2f2f2" stroke-width="1.2" opacity="0.87"/>
<line x1="446.0" y1="111.3" x2="446.0" y2="116.2" stroke="#f4f4f4" stroke-width="1.3" opacity="1.00"/>
<line x1="446.0" y1="119.2" x2="446.0" y2="123.6" stroke="#f2f2f2" stroke-width="1.2" opacity="0.80"/>
<line x1="449.0" y1="111.3" x2="449.0" y2="116.2" stroke="#f4f4f4" stroke-width="1.3" opacity="1.00"/>
<line x1="449.0" y1="119.2" x2="449.0" y2="123.6" stroke="#f2f2f2" stroke-width="1.2" opacity="0.74"/>
<line x1="452.0" y1="111.3" x2="452.0" y2="116.2" stroke="#f4f4f4" stroke-width="1.3" opacity="1.00"/>
<line x1="452.0" y1="119.2" x2="452.0" y2="123.6" stroke="#f2f2f2" stroke-width="1.2" opacity="0.68"/>
<line x1="455.0" y1="111.3" x2="455.0" y2="116.2" stroke="#f4f4f4" stroke-width="1.3" opacity="1.00"/>
<line x1="455.0" y1="119.2" x2="455.0" y2="123.6" stroke="#f2f2f2" stroke-width="1.2" opacity="0.61"/>
<line x1="458.0" y1="111.3" x2="458.0" y2="116.2" stroke="#f4f4f4" stroke-width="1.3" opacity="1.00"/>
<line x1="458.0" y1="119.2" x2="458.0" y2="123.6" stroke="#f2f2f2" stroke-width="1.2" opacity="0.55"/>
<line x1="461.0" y1="111.3" x2="461.0" y2="116.2" stroke="#f4f4f4" stroke-width="1.3" opacity="0.93"/>
<line x1="461.0" y1="119.2" x2="461.0" y2="123.6" stroke="#f2f2f2" stroke-width="1.2" opacity="0.49"/>
<line x1="464.0" y1="111.3" x2="464.0" y2="116.2" stroke="#f4f4f4" stroke-width="1.3" opacity="0.85"/>
<line x1="464.0" y1="119.2" x2="464.0" y2="123.6" stroke="#f2f2f2" stroke-width="1.2" opacity="0.42"/>
<line x1="467.0" y1="111.3" x2="467.0" y2="116.2" stroke="#f4f4f4" stroke-width="1.3" opacity="0.78"/>
<line x1="467.0" y1="119.2" x2="467.0" y2="123.6" stroke="#f2f2f2" stroke-width="1.2" opacity="0.36"/>
<line x1="470.0" y1="111.3" x2="470.0" y2="116.2" stroke="#f4f4f4" stroke-width="1.3" opacity="0.70"/>
<line x1="470.0" y1="119.2" x2="470.0" y2="123.6" stroke="#f2f2f2" stroke-width="1.2" opacity="0.30"/>
<line x1="473.0" y1="111.3" x2="473.0" y2="116.2" stroke="#f4f4f4" stroke-width="1.3" opacity="0.62"/>
<line x1="473.0" y1="119.2" x2="473.0" y2="123.6" stroke="#f2f2f2" stroke-width="1.2" opacity="0.23"/>
<line x1="476.0" y1="111.3" x2="476.0" y2="116.2" stroke="#f4f4f4" stroke-width="1.3" opacity="0.55"/>
<line x1="476.0" y1="119.2" x2="476.0" y2="123.6" stroke="#f2f2f2" stroke-width="1.2" opacity="0.17"/>
<line x1="479.0" y1="111.3" x2="479.0" y2="116.2" stroke="#f4f4f4" stroke-width="1.3" opacity="0.47"/>
<line x1="479.0" y1="119.2" x2="479.0" y2="123.6" stroke="#f2f2f2" stroke-width="1.2" opacity="0.11"/>
<line x1="482.0" y1="111.3" x2="482.0" y2="116.2" stroke="#f4f4f4" stroke-width="1.3" opacity="0.40"/>
<line x1="482.0" y1="119.2" x2="482.0" y2="123.6" stroke="#f2f2f2" stroke-width="1.2" opacity="0.04"/>
<line x1="485.0" y1="111.3" x2="485.0" y2="116.2" stroke="#f4f4f4" stroke-width="1.3" opacity="0.33"/>
<line x1="488.0" y1="111.3" x2="488.0" y2="116.2" stroke="#f4f4f4" stroke-width="1.3" opacity="0.25"/>
<line x1="491.0" y1="111.3" x2="491.0" y2="116.2" stroke="#f4f4f4" stroke-width="1.3" opacity="0.17"/>
<line x1="494.0" y1="111.3" x2="494.0" y2="116.2" stroke="#f4f4f4" stroke-width="1.3" opacity="0.10"/>
<defs><linearGradient id="mb" x1="0" y1="0" x2="1" y2="0"><stop offset="0" stop-color="#888" stop-opacity="0"/><stop offset="0.35" stop-color="#888" stop-opacity="0.55"/><stop offset="0.75" stop-color="#888" stop-opacity="0.55"/><stop offset="1" stop-color="#888" stop-opacity="0"/></linearGradient></defs>
<rect x="310" y="116.4" width="180" height="2.6" fill="url(#mb)"/>
<rect x="372" y="110.5" width="12" height="13.8" fill="#0a10c0"/>
<line x1="373.50" y1="111.00" x2="373.50" y2="124.00" stroke="#000030" stroke-width="0.9" opacity="0.6"/>
<line x1="376.50" y1="111.00" x2="376.50" y2="124.00" stroke="#000030" stroke-width="0.9" opacity="0.6"/>
<line x1="379.50" y1="111.00" x2="379.50" y2="124.00" stroke="#000030" stroke-width="0.9" opacity="0.6"/>
<line x1="382.50" y1="111.00" x2="382.50" y2="124.00" stroke="#000030" stroke-width="0.9" opacity="0.6"/>
<line x1="363.50" y1="96.80" x2="372.80" y2="109.80" stroke="#3a3aff" stroke-width="1" />
<line x1="357.30" y1="109.80" x2="361.40" y2="101.00" stroke="#3a3aff" stroke-width="1" />
<line x1="387.30" y1="96.80" x2="382.20" y2="109.80" stroke="#3a3aff" stroke-width="1" />
<polyline points="275.7,83.4 275.7,113 289.4,116.9" fill="none" stroke="#111" stroke-width="1.3"/>
<line x1="492.70" y1="92.40" x2="490.70" y2="102.00" stroke="#111" stroke-width="1.4" />
<line x1="511.50" y1="176.60" x2="511.50" y2="191.60" stroke="#111" stroke-width="1.4" />
<line x1="382.20" y1="59.50" x2="374.90" y2="110.70" stroke="#8dc63f" stroke-width="3" />
<line x1="439.20" y1="60.30" x2="432.00" y2="114.90" stroke="#e8474a" stroke-width="3" />
<text x="249.6" y="78.4" font-size="12.5">Bottom black encap.</text>
<text x="537.4" y="89.6" font-size="12.3" text-anchor="end">Top black encap.</text>
<text x="369.8" y="57.4" font-size="12.3">LED</text>
<text x="432.7" y="57.4" font-size="12.3">PD</text>
<text x="481.8" y="204" font-size="12.3">Skin model</text>
<line x1="358.00" y1="226.30" x2="500.00" y2="226.30" stroke="#000" stroke-width="2" />
<text x="505" y="230" font-size="12.3">1 cm</text>
<circle cx="499" cy="41.8" r="36.5" fill="#fff" stroke="#5b82ad" stroke-width="1.2" stroke-dasharray="2.6 2"/>
<line x1="451.00" y1="51.00" x2="462.40" y2="51.00" stroke="#333" stroke-width="1.1" stroke-dasharray="2.4 1.5"/>
<polygon points="470.7,34.3 485.1,43 485.1,70.8 470.7,61.5" fill="#b9da8f"/>
<polygon points="485.1,58.8 499.6,57.2 513.3,66.4 485.1,70.8" fill="#5ec9e2"/>
<text x="469.5" y="29.6" font-size="12.2">Side</text>
<text x="490.7" y="49.6" font-size="12.2">Bottom</text>
<line x1="478.90" y1="33.20" x2="480.00" y2="43.00" stroke="#111" stroke-width="1.4" />
<line x1="506.70" y1="52.80" x2="506.20" y2="61.00" stroke="#111" stroke-width="1.4" />
<text x="13.8" y="264" font-size="18" text-anchor="start" >c</text>
<defs>
<linearGradient id="gg" x1="0" y1="0" x2="0" y2="1"><stop offset="0" stop-color="#8ed5a5"/><stop offset="0.4" stop-color="#acdfbc"/><stop offset="1" stop-color="#ffffff"/></linearGradient>
<linearGradient id="og" x1="0" y1="0" x2="0" y2="1"><stop offset="0" stop-color="#fdc49b"/><stop offset="1" stop-color="#ffffff"/></linearGradient>
</defs>
<rect x="66.5" y="308.152" width="36.2" height="134.848" fill="url(#og)" stroke="none" stroke-width="1" />
<rect x="66.5" y="286.2" width="36.2" height="21.951999999999998" fill="url(#gg)" stroke="none" stroke-width="1" />
<rect x="187.2" y="417.912" width="36.2" height="25.088000000000022" fill="url(#og)" stroke="none" stroke-width="1" />
<rect x="187.2" y="286.2" width="36.2" height="131.712" fill="url(#gg)" stroke="none" stroke-width="1" />
<rect x="66.5" y="286.2" width="36.2" height="156.8" fill="none" stroke="#aaa" stroke-width="1" />
<rect x="187.2" y="286.2" width="36.2" height="156.8" fill="none" stroke="#aaa" stroke-width="1" />
<line x1="66.50" y1="308.15" x2="102.70" y2="308.15" stroke="#bbb" stroke-width="1" />
<line x1="187.20" y1="417.91" x2="223.40" y2="417.91" stroke="#bbb" stroke-width="1" />
<rect x="48.5" y="256.5" width="193.5" height="187" fill="none" stroke="#444" stroke-width="1.2" />
<line x1="44.50" y1="443.00" x2="48.60" y2="443.00" stroke="#444" stroke-width="1.2" />
<text x="42.6" y="447.3" font-size="12.8" text-anchor="end" >0</text>
<line x1="44.50" y1="411.64" x2="48.60" y2="411.64" stroke="#444" stroke-width="1.2" />
<text x="42.6" y="415.94" font-size="12.8" text-anchor="end" >20</text>
<line x1="44.50" y1="380.28" x2="48.60" y2="380.28" stroke="#444" stroke-width="1.2" />
<text x="42.6" y="384.58" font-size="12.8" text-anchor="end" >40</text>
<line x1="44.50" y1="348.92" x2="48.60" y2="348.92" stroke="#444" stroke-width="1.2" />
<text x="42.6" y="353.22" font-size="12.8" text-anchor="end" >60</text>
<line x1="44.50" y1="317.56" x2="48.60" y2="317.56" stroke="#444" stroke-width="1.2" />
<text x="42.6" y="321.86" font-size="12.8" text-anchor="end" >80</text>
<line x1="44.50" y1="286.20" x2="48.60" y2="286.20" stroke="#444" stroke-width="1.2" />
<text x="42.6" y="290.5" font-size="12.8" text-anchor="end" >100</text>
<line x1="84.60" y1="443.00" x2="84.60" y2="447.00" stroke="#444" stroke-width="1.2" />
<line x1="205.40" y1="443.00" x2="205.40" y2="447.00" stroke="#444" stroke-width="1.2" />
<text x="41.8" y="460.4" font-size="12.5" text-anchor="start" >w/o black encap.</text>
<text x="162" y="460.4" font-size="12.5" text-anchor="start" >w/ black encap.</text>
<text x="0" y="0" font-size="12.9" text-anchor="middle" transform="translate(18.6 354.8) rotate(-90)">Power ratio (%)</text>
<rect x="140.2" y="260.9" width="9.4" height="8.4" fill="#fcc79a" stroke="none" stroke-width="1" />
<text x="154.2" y="269.7" font-size="12.7" text-anchor="start" >Bottom</text>
<rect x="200.4" y="260.9" width="9.4" height="8.4" fill="#9ddbb0" stroke="none" stroke-width="1" />
<text x="214.3" y="269.7" font-size="12.7" text-anchor="start" >Side</text>
<text x="71.3" y="301" font-size="12.5" text-anchor="start" >14 %</text>
<text x="71.0" y="377.7" font-size="12.5" text-anchor="start" >86 %</text>
<text x="190.6" y="355.9" font-size="12.5" text-anchor="start" >84 %</text>
<text x="190.8" y="434" font-size="12.5" text-anchor="start" >16 %</text>
<text x="107.3" y="288.5" font-size="12.4" text-anchor="start" >2.7 mW</text>
<text x="108.0" y="346.9" font-size="12.4" text-anchor="start" >16 mW</text>
<text x="132.0" y="374.6" font-size="12.4" text-anchor="start" >0.02 mW</text>
<text x="133.9" y="425.7" font-size="12.4" text-anchor="start" >0.1 mW</text>
<line x1="103.00" y1="300.50" x2="110.95" y2="295.77" stroke="#111" stroke-width="1.1" />
<polygon points="116.8,292.3 113.0,299.2 108.9,292.3" fill="#111"/>
<line x1="102.50" y1="357.80" x2="110.11" y2="353.40" stroke="#111" stroke-width="1.1" />
<polygon points="116.0,350.0 112.1,356.9 108.1,349.9" fill="#111"/>
<line x1="187.00" y1="388.80" x2="182.21" y2="385.70" stroke="#111" stroke-width="1.1" />
<polygon points="176.5,382.0 184.4,382.3 180.0,389.1" fill="#111"/>
<line x1="187.00" y1="434.40" x2="182.18" y2="431.23" stroke="#111" stroke-width="1.1" />
<polygon points="176.5,427.5 184.4,427.9 180.0,434.6" fill="#111"/>
<text x="255.3" y="263.3" font-size="18" text-anchor="start" >d</text>
<rect x="314.1436" y="256.5" width="152.90880000000004" height="190" fill="#ebebeb" stroke="none" stroke-width="1" />
<rect x="289.6" y="255.6" width="238.6" height="191" fill="none" stroke="#444" stroke-width="1.2" />
<text x="288.6" y="258.6" font-size="12.3" text-anchor="end" >0.7</text>
<text x="288.6" y="322.0" font-size="12.3" text-anchor="end" >0.6</text>
<line x1="289.60" y1="319.00" x2="293.40" y2="319.00" stroke="#444" stroke-width="1.2" />
<text x="288.6" y="385.6" font-size="12.3" text-anchor="end" >0.5</text>
<line x1="289.60" y1="383.00" x2="293.40" y2="383.00" stroke="#444" stroke-width="1.2" />
<text x="288.6" y="448.4" font-size="12.3" text-anchor="end" >0.4</text>
<text x="289.6" y="458.6" font-size="12.6" text-anchor="middle" >0</text>
<line x1="333.04" y1="446.60" x2="333.04" y2="443.00" stroke="#444" stroke-width="1.2" />
<text x="333.04" y="458.6" font-size="12.6" text-anchor="middle" >2</text>
<line x1="376.48" y1="446.60" x2="376.48" y2="443.00" stroke="#444" stroke-width="1.2" />
<text x="376.48" y="458.6" font-size="12.6" text-anchor="middle" >4</text>
<line x1="419.92" y1="446.60" x2="419.92" y2="443.00" stroke="#444" stroke-width="1.2" />
<text x="419.92" y="458.6" font-size="12.6" text-anchor="middle" >6</text>
<line x1="463.36" y1="446.60" x2="463.36" y2="443.00" stroke="#444" stroke-width="1.2" />
<text x="463.36" y="458.6" font-size="12.6" text-anchor="middle" >8</text>
<line x1="506.80" y1="446.60" x2="506.80" y2="443.00" stroke="#444" stroke-width="1.2" />
<text x="503.8" y="458.6" font-size="12.6" text-anchor="middle" >10</text>
<text x="390.0" y="471.6" font-size="12.2" text-anchor="start" >Time (s)</text>
<text x="0" y="0" font-size="12.8" text-anchor="middle" transform="translate(265.7 348.6) rotate(-90)">Voltage (V)</text>
<text x="358.0" y="271.8" font-size="12.2" text-anchor="start" >Shadowing</text>
<line x1="325.00" y1="282.70" x2="458.00" y2="282.70" stroke="#000" stroke-width="2.6" />
<polygon points="316.2,282.7 327,277.6 327,287.8" fill="#000"/>
<polygon points="467.2,282.7 456.5,277.6 456.5,287.8" fill="#000"/>
<polyline points="289.4,306.5 293.7,304.6 296.6,303.9 298.8,302.4 302.4,301.0 304.6,300.7 308.0,299.1 310.4,301.4 312.9,300.0 314.5,297.1 316.2,301.0 318.7,307.5 321.3,309.7 323.5,317.7 326.4,323.5 329.3,331.5 331.8,338.5 334.4,338.0 336.6,336.1 339.5,342.4 344.4,345.6 348.2,348.4 350.4,344.9 353.1,350.0 355.8,350.5 357.4,339.6 359.6,342.9 361.8,338.5 365.1,337.4 368.4,339.6 372.2,337.4 374.4,338.3 376.5,343.4 379.3,337.4 383.6,342.9 388.0,337.8 392.3,341.3 396.6,346.2 400.5,338.5 403.2,340.7 405.9,337.4 408.6,348.9 411.4,349.4 413.5,336.9 416.3,336.1 419.0,332.9 421.2,333.6 423.4,332.9 428.8,336.9 433.2,338.0 436.4,336.9 440.8,336.9 446.3,333.6 450.6,330.9 453.2,335.0 456.5,329.5 460.2,323.6 462.4,314.9 464.5,303.3 466.0,294.5 468.2,292.8 471.1,293.8 474.0,290.5 476.9,291.3 479.8,290.2 482.7,292.4 487.8,292.8 490.0,292.8 492.9,294.8 496.5,291.6 500.9,290.9 505.3,290.9 507.5,285.1 509.6,290.2 512.5,289.5 514.7,290.2 517.6,289.9 520.5,291.6 524.9,285.1 528.2,290.2" fill="none" stroke="#ff3030" stroke-width="2.2" stroke-linejoin="round"/>
<polyline points="289.4,417.4 291.5,419.6 293.7,419.8 296.5,415.8 298.6,418.0 300.8,424.5 303.0,421.8 305.2,420.9 310.1,415.8 313.4,415.8 316.6,413.6 319.9,416.4 323.7,413.6 325.3,418.5 327.5,409.8 329.7,415.3 331.9,410.4 334.6,408.7 336.8,418.5 339.0,414.7 341.6,418.0 343.8,415.8 345.5,417.4 347.6,416.4 352.0,419.6 354.2,419.6 359.6,414.7 362.4,418.5 365.1,414.2 367.3,421.3 368.9,415.3 371.6,419.1 376.0,412.5 378.7,412.0 381.4,419.6 383.6,415.8 388.0,415.3 390.2,414.2 391.8,415.3 394.0,414.2 397.2,417.4 399.4,421.3 401.5,420.7 403.7,416.9 405.9,419.1 408.6,409.3 410.8,416.4 413.0,415.8 415.7,419.6 418.4,419.6 421.2,410.9 424.4,416.4 427.7,417.4 432.1,419.1 435.3,410.9 438.6,409.8 443.0,416.9 445.7,415.8 449.0,424.5 451.2,420.7 455.1,418.2 458.0,416.0 461.6,415.3 465.3,410.2 467.5,419.6 469.6,419.6 472.5,413.8 475.5,418.2 478.4,418.6 482.0,416.0 484.9,421.1 487.1,415.3 489.3,416.0 492.9,414.5 498.0,417.7 502.4,416.0 506.0,417.7 510.4,415.7 512.5,417.2 515.5,414.5 519.1,416.0 522.7,419.6 524.9,418.2 528.2,422.5" fill="none" stroke="#0a14ff" stroke-width="2.6" stroke-linejoin="round"/>
<line x1="401.20" y1="377.00" x2="423.60" y2="377.00" stroke="#ff3030" stroke-width="1.3" />
<line x1="401.20" y1="393.60" x2="423.60" y2="393.60" stroke="#0a14ff" stroke-width="1.3" />
<text x="425.5" y="381.3" font-size="12.55" text-anchor="start" >w/o black encap.</text>
<text x="425.5" y="396.6" font-size="12.55" text-anchor="start" >w/ black encap.</text>
</svg></body></html>
